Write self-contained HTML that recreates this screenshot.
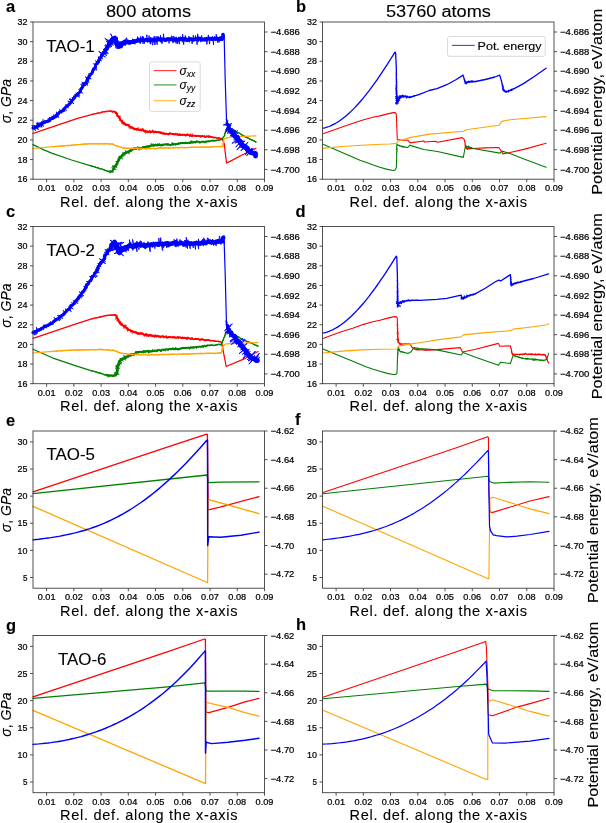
<!DOCTYPE html>
<html><head><meta charset="utf-8"><style>
html,body{margin:0;padding:0;background:#fff;}
svg{display:block;}
text{font-family:"Liberation Sans", sans-serif;fill:#000;stroke:#000;stroke-width:0.1px;}
text.tk{stroke-width:0.22px;}
text.lg{stroke-width:0.15px;}
svg{-webkit-font-smoothing:antialiased;will-change:transform;}
</style></head><body>
<svg width="606" height="823" viewBox="0 0 606 823">
<rect width="606" height="823" fill="#fff"/>
<polyline points="33,133.5 47.9,128.3 62.7,123.3 77.6,118.4 92.4,114.4" fill="none" stroke="#ff0000" stroke-width="1.25" stroke-linejoin="round" stroke-linecap="round"/>
<polyline points="92.4,114.4 93,114.2 93.7,114.2 94.3,114 95,113.7 95.6,113.6 96.3,113.5 96.9,113.4" fill="none" stroke="#ff0000" stroke-width="1.3" stroke-linejoin="round" stroke-linecap="round"/>
<polyline points="96.9,113.4 97.6,113.2 98.3,113.1 98.9,113 99.6,112.9 100.2,112.8 100.9,112.6 101.5,112.3" fill="none" stroke="#ff0000" stroke-width="1.3" stroke-linejoin="round" stroke-linecap="round"/>
<polyline points="101.5,112.3 102.1,112.1 102.8,111.9 103.4,111.9 104.1,111.8 104.7,111.6 105.4,111.5 106,111.5" fill="none" stroke="#ff0000" stroke-width="1.3" stroke-linejoin="round" stroke-linecap="round"/>
<polyline points="106,111.5 106.7,111.4 107.4,111.3 108,111.1 108.7,111.2 109.3,111.1 110,111 110.6,111.1" fill="none" stroke="#ff0000" stroke-width="1.3" stroke-linejoin="round" stroke-linecap="round"/>
<polyline points="110.6,111.1 111.3,111.2 111.9,111.6 112.7,111.5 113.4,111.2 114,111.6 114.4,111.9 115.3,112.1" fill="none" stroke="#ff0000" stroke-width="1.5" stroke-linejoin="round" stroke-linecap="round"/>
<polyline points="115.3,112.1 115.8,112.5 116,113.2 116.6,113.6 117,114.1 117.2,114.8 117.5,115.4 117.7,116.1" fill="none" stroke="#ff0000" stroke-width="1.9" stroke-linejoin="round" stroke-linecap="round"/>
<polyline points="117.7,116.1 118.4,116.4 119.2,116.7 119.4,117.3 119.4,118.1 119.9,118.6 120.2,119.2 120.4,119.8" fill="none" stroke="#ff0000" stroke-width="2.1" stroke-linejoin="round" stroke-linecap="round"/>
<polyline points="120.4,119.8 120.7,120.4 121.4,120.8 121.7,121.3 122,122.1 122.3,122.7 123.3,122.6 123.7,123.1" fill="none" stroke="#ff0000" stroke-width="2.1" stroke-linejoin="round" stroke-linecap="round"/>
<polyline points="123.7,123.1 124.3,123.5 124.9,123.8 125.3,124.3 125.7,125 126.5,124.9 127.2,125 127.9,125.1" fill="none" stroke="#ff0000" stroke-width="2.1" stroke-linejoin="round" stroke-linecap="round"/>
<polyline points="127.9,125.1 128.6,125.1 129,125.8 129.4,126.6 130.1,126.7 130.7,126.9 131.3,127.2 131.9,127.5" fill="none" stroke="#ff0000" stroke-width="2.1" stroke-linejoin="round" stroke-linecap="round"/>
<polyline points="131.9,127.5 132.5,127.8 133.1,128.1 133.7,128.5 134.2,129 134.9,128.9 135.5,129 136.2,129" fill="none" stroke="#ff0000" stroke-width="2.1" stroke-linejoin="round" stroke-linecap="round"/>
<polyline points="136.2,129 136.9,129.1 137.5,129.5 138.1,129.5 138.8,129.6 139.4,129.9 140.1,129.8 140.7,130" fill="none" stroke="#ff0000" stroke-width="2.1" stroke-linejoin="round" stroke-linecap="round"/>
<polyline points="140.7,130 141.4,130.3 142,130.2 142.7,130.1 143.4,130.2 144,130.6 144.6,131.1 145.3,130.9" fill="none" stroke="#ff0000" stroke-width="2.1" stroke-linejoin="round" stroke-linecap="round"/>
<polyline points="145.3,130.9 145.9,131.2 146.5,131.7 147.1,131.7 147.8,131.8 148.4,131.9 149.1,131.8 149.8,131.5" fill="none" stroke="#ff0000" stroke-width="2.1" stroke-linejoin="round" stroke-linecap="round"/>
<polyline points="149.8,131.5 150.5,131.7 151.1,131.9 151.8,131.8 152.5,131.6 153.2,131.6 153.8,132.2 154.5,131.9" fill="none" stroke="#ff0000" stroke-width="2.1" stroke-linejoin="round" stroke-linecap="round"/>
<polyline points="154.5,131.9 155.1,131.9 155.8,132.1 156.4,132.2 157.1,132 157.8,131.9 158.4,132.2 159.1,132.4" fill="none" stroke="#ff0000" stroke-width="2.0" stroke-linejoin="round" stroke-linecap="round"/>
<polyline points="159.1,132.4 159.8,132.2 160.4,132.3 161,133 161.7,132.6 162.3,133.3 163,133.4 163.7,133.4" fill="none" stroke="#ff0000" stroke-width="2.0" stroke-linejoin="round" stroke-linecap="round"/>
<polyline points="163.7,133.4 164.3,133.7 165,133.6 165.6,133.7 166.3,133.8 166.9,133.9 167.6,133.9 168.2,134.2" fill="none" stroke="#ff0000" stroke-width="1.9" stroke-linejoin="round" stroke-linecap="round"/>
<polyline points="168.2,134.2 168.9,133.8 169.6,133.6 170.3,133.7 171,133.6 171.6,133.7 172.2,134.1 172.9,133.9" fill="none" stroke="#ff0000" stroke-width="1.9" stroke-linejoin="round" stroke-linecap="round"/>
<polyline points="172.9,133.9 173.6,134.4 174.2,134.5 174.9,134.4 175.5,134.3 176.2,134.3 176.9,134.5 177.5,134.5" fill="none" stroke="#ff0000" stroke-width="1.9" stroke-linejoin="round" stroke-linecap="round"/>
<polyline points="177.5,134.5 178.2,134.7 178.8,134.8 179.5,134.8 180.1,135 180.8,135 181.5,134.8 182.2,134.7" fill="none" stroke="#ff0000" stroke-width="1.9" stroke-linejoin="round" stroke-linecap="round"/>
<polyline points="182.2,134.7 182.8,135 183.5,134.9 184.1,134.7 184.8,134.8 185.4,135.1 186.1,135.1 186.8,134.9" fill="none" stroke="#ff0000" stroke-width="1.9" stroke-linejoin="round" stroke-linecap="round"/>
<polyline points="186.8,134.9 187.5,134.9 188.1,135.1 188.8,135 189.4,135.2 190.1,135.2 190.7,135.2 191.4,135.8" fill="none" stroke="#ff0000" stroke-width="1.9" stroke-linejoin="round" stroke-linecap="round"/>
<polyline points="191.4,135.8 192,135.9 192.7,135.7 193.4,135.8 194,135.7 194.7,135.8 195.4,135.7 196,135.9" fill="none" stroke="#ff0000" stroke-width="1.8" stroke-linejoin="round" stroke-linecap="round"/>
<polyline points="196,135.9 196.7,136 197.3,135.9 198,136 198.7,135.7 199.3,136.1 200,136.2 200.6,136.1" fill="none" stroke="#ff0000" stroke-width="1.8" stroke-linejoin="round" stroke-linecap="round"/>
<polyline points="200.6,136.1 201.3,136.1 202,136 202.6,136.1 203.3,136.1 203.9,136.3 204.6,136.8 205.2,136.9" fill="none" stroke="#ff0000" stroke-width="1.7" stroke-linejoin="round" stroke-linecap="round"/>
<polyline points="205.2,136.9 205.9,136.8 206.6,136.6 207.2,136.5 207.9,136.3 208.6,136.6 209.2,136.7 209.9,136.7" fill="none" stroke="#ff0000" stroke-width="1.7" stroke-linejoin="round" stroke-linecap="round"/>
<polyline points="209.9,136.7 210.6,136.6 211.2,137 211.8,137.1 212.5,137.3 213.1,137.4 213.8,137.5 214.5,137.5" fill="none" stroke="#ff0000" stroke-width="1.6" stroke-linejoin="round" stroke-linecap="round"/>
<polyline points="214.5,137.5 215.2,137.5 215.8,137.7 216.5,137.8 217.1,138.1 217.8,137.9 218.5,138 219.1,137.9" fill="none" stroke="#ff0000" stroke-width="1.4" stroke-linejoin="round" stroke-linecap="round"/>
<polyline points="219.1,137.9 219.8,138.3 220.4,138.3 221.1,138.5 221.7,138.7 222.4,138.9 222.7,139.2 222.8,139.9" fill="none" stroke="#ff0000" stroke-width="1.3" stroke-linejoin="round" stroke-linecap="round"/>
<polyline points="222.8,139.9 223.1,140.5 223.3,141.2 223.5,141.8 223.6,142.5 223.9,143.1 224,143.8 224.2,144.5" fill="none" stroke="#ff0000" stroke-width="1.3" stroke-linejoin="round" stroke-linecap="round"/>
<polyline points="224.2,144.5 224.4,145.1 224.5,145.8" fill="none" stroke="#ff0000" stroke-width="1.3" stroke-linejoin="round" stroke-linecap="round"/>
<polyline points="92.4,114.4 92.8,114.2 93.3,114.3 93.7,114.2 94.1,114.1 94.5,113.8 95,113.7 95.4,113.7 95.9,113.6 96.3,113.6 96.7,113.4 97.2,113.4 97.6,113.1 98,113.1 98.4,112.9 98.9,112.8 99.3,112.8 99.7,112.6 100.2,112.9 100.7,112.7 101.1,112.4 101.5,112.2 101.9,112 102.4,112.3 102.7,111.6 103.2,111.7 103.7,111.9 104.2,112.1 104.5,111.9 105,111.9 105.4,111.4 105.8,111.4 106.3,111.8 106.7,111.4 107.2,111.7 107.6,111.6 108,111.5 108.4,110.7 108.9,111 109.4,111.6 109.8,111.1 110.2,111.2 110.6,111.4 111,111.5 111.5,111.7 112,111.3 112.3,112.1 112.7,112.8 113.4,111.4 113.9,111.1 114.3,111.2 114.8,111.6 114.9,112.1 114.8,112.8 115.2,113 116.9,112.1 115.7,113.7 115.9,114.2 118,113 117.1,114.3 117.1,114.9 116.5,115.9 118.2,115.1 117.6,116.2 117.5,116.7 118.2,116.8 120.4,115.8 117.9,118 120.4,116.9 120.2,117.6 119.6,118.5 119.9,118.8 119.8,119.4 119.5,120.2 120.6,120 120.6,120.5 121.1,120.7 123.1,119.9 122.2,121 121.9,121.9 121.5,122.9 122.8,122.2 123.6,121.9 124.2,121.9 123.8,123.1 122.9,124.7 123.7,124.5 125.3,123.4 125.7,123.6 125.4,124.6 126.2,123.9 125.9,125.7 127.1,124.2 127.7,123.9 127.5,125.3 127.8,125.7 129,124.3 128.6,126.2 129,126.4 129.2,127 129.3,127.8 129.4,128.5 129.8,128.9 130.3,128.8 131,128.3 131.8,127.8 132.3,127.7 132.3,128.7 133.5,127.3 133,129.4 133.7,129.2 134.2,129 134.5,129.9 134.9,130.2 135.7,128.3 136,128.8 136.2,130.4 136.5,130.8 137.1,130.4 138.1,127.4 138,130 138.5,129.9 138.9,129.9 139.4,129.9 139.9,129.7 140.3,129.9 141,128.7 141,130.7 141.7,129.4 142.2,129.2 142.9,128 143,130 143.3,130.7 143.5,131.9 144.1,131.3 144.4,132.1 144.9,131.7 145.3,131.7 145.5,133.4 146.3,131.5 146.5,132.5 147.3,130.6 147.4,132.9 147.8,132.7 148.4,131.9 149.1,130.9 149.6,130.4 149.9,130.8 150.3,131.7 150.5,133.4 151.2,131 151.5,132.4 152.1,131.5 152.7,129.8 153.1,130.1 153.3,132.3 153.7,133.3 154.3,131 154.7,131.9 155.3,130.7 155.6,131.7 155.9,132.7 156.5,131.5 157,131 157.3,132 157.8,131.7 158.2,132.7 158.7,132 159.1,132.7 159.6,131.9 160,132.1 160.4,132.8 160.9,132.5 161.1,134 161.7,132.8 162.1,133.4 162.5,134.2 162.9,133.8 163.5,132.5 163.9,133.5 164.3,133.7 164.7,134.1 165,135 165.6,133.9 166.1,133.2 166.6,133.1 166.9,133.9 167.4,133.8 167.7,135 168.2,134.2 168.7,134 169,135.2 169.7,132.3 170.1,133.7 170.6,132.9 171,133.5 171.4,133.6 171.9,133.4 172.3,134 172.8,133.2 173.1,134.4 173.6,133.8 174.1,133.2 174.4,134.6 174.9,134.7 175.4,132.9 175.8,133.5 176.3,133.8 176.6,134.7 177.2,133.3 177.6,134.1 178,133.9 178.4,134.4 178.7,136 179.3,134.3 179.8,133.3 180.2,133.6 180.6,135.3 181.1,134.6 181.5,134 181.9,134.7 182.4,135 182.8,134.4 183.3,134.3 183.7,135.1 184.2,134.3 184.6,134.8 184.9,136.1 185.5,134.4 185.8,136.4 186.3,135.2 186.8,134.4 187.4,133.3 187.7,134.5 188.1,134.6 188.6,134.4 189,135 189.4,135.4 189.7,137.1 190.3,135.4 190.9,133.6 191.1,136 191.6,136 191.9,137.2 192.6,133.8 192.9,136.3 193.4,135.6 193.8,135.1 194.2,135.7 194.7,136.2 195.1,135.7 195.5,136.2 196,136.1 196.4,136.1 196.9,135.9 197.3,135.9 197.8,136 198.2,135.9 198.6,136.2 199.1,135.8 199.5,136.6 199.9,137.1 200.4,136.1 200.7,137.8 201.3,136.4 201.7,136.5 202.3,135.1 202.7,135.6 203,136.6 203.5,136.4 203.9,136.5 204.4,135.6 204.9,135.6 205.2,137.5 205.7,136.1 206.2,136.1 206.7,135.4 207,136.8 207.5,136.1 207.9,136.4 208.3,137.8 208.9,135.1 209.2,136.7 209.6,136.9 210.1,136.7 210.5,137 211,137 211.3,137.5 211.9,136.7 212.2,137.6 212.8,136.8 213.1,137.6 213.5,138.1 214,137.8 214.5,137.2 214.9,137.7 215.4,137.7 215.8,137.5 216.1,138.3 216.7,137.5 217,138.5 217.4,138.9 218,138.1 218.3,138.7 218.9,138.2 219.4,137.9 219.7,138.3 220.2,138.5 220.6,138.5 221.2,137.9 221.5,138.8 222,138.6 222.4,138.7 222.4,139.1 222.8,139.4 222.8,139.9 222.9,140.4 223.2,140.7 223.3,141.2 223.4,141.6 223.4,142.1 223.6,142.5 223.9,142.9 224,143.3 224,143.8 224,144.3 224.2,144.7 224.4,145.1 224.5,145.5" fill="none" stroke="#ff0000" stroke-width="0.8" stroke-linejoin="miter" stroke-miterlimit="2"/>
<polyline points="224.3,145.8 224.5,146 226.5,163 230,161.4 243.5,154.2 256,148.4" fill="none" stroke="#ff0000" stroke-width="1.25" stroke-linejoin="round" stroke-linecap="round"/>
<polyline points="33,144.6 42.7,149.4 52.3,153.3 71.6,160 90.9,165.8" fill="none" stroke="#008000" stroke-width="1.25" stroke-linejoin="round" stroke-linecap="round"/>
<polyline points="90.9,165.8 91.5,166 92.2,166.2 92.8,166.5 93.5,166.5 94.1,166.7 94.7,167 95.4,167.2" fill="none" stroke="#008000" stroke-width="1.3" stroke-linejoin="round" stroke-linecap="round"/>
<polyline points="95.4,167.2 96,167.4 96.6,167.5 97.3,167.7 97.9,168 98.6,168 99.2,168.4 99.8,168.7" fill="none" stroke="#008000" stroke-width="1.3" stroke-linejoin="round" stroke-linecap="round"/>
<polyline points="99.8,168.7 100.4,168.8 101.1,168.8 101.8,169 102.4,169.2 103,169.5 103.6,169.7 104.3,170" fill="none" stroke="#008000" stroke-width="1.3" stroke-linejoin="round" stroke-linecap="round"/>
<polyline points="104.3,170 104.9,170.3 105.5,170.6 106.1,170.8 106.8,170.7 107.5,171.1 108.1,171.3 108.8,171.4" fill="none" stroke="#008000" stroke-width="1.3" stroke-linejoin="round" stroke-linecap="round"/>
<polyline points="108.8,171.4 109.5,171.6 110.2,171.6 110.8,172 111.5,171.7 112.4,171.7 112.3,170.9 112.6,170.3" fill="none" stroke="#008000" stroke-width="1.6" stroke-linejoin="round" stroke-linecap="round"/>
<polyline points="112.6,170.3 113.2,169.9 113.6,169.4 113.8,168.7 114,168 113.7,167.1 114.2,166.6 114.9,166.3" fill="none" stroke="#008000" stroke-width="2.1" stroke-linejoin="round" stroke-linecap="round"/>
<polyline points="114.9,166.3 115.8,166 116.3,165.5 116,164.6 116.6,164.1 117.2,163.7 117.3,163 117.2,162.2" fill="none" stroke="#008000" stroke-width="2.4" stroke-linejoin="round" stroke-linecap="round"/>
<polyline points="117.2,162.2 117.6,161.7 117.9,161.1 118.4,160.6 118.6,160 118.9,159.4 119.3,158.8 119.6,158.2" fill="none" stroke="#008000" stroke-width="2.5" stroke-linejoin="round" stroke-linecap="round"/>
<polyline points="119.6,158.2 119.5,157.4 120.1,157 120.8,156.7 121.4,156.4 121.9,155.9 122.3,155.4 122.9,155" fill="none" stroke="#008000" stroke-width="2.5" stroke-linejoin="round" stroke-linecap="round"/>
<polyline points="122.9,155 123.2,154.3 123.9,154.1 124.4,153.7 125,153.4 125.6,152.9 126.1,152.6 126.7,152.3" fill="none" stroke="#008000" stroke-width="2.4" stroke-linejoin="round" stroke-linecap="round"/>
<polyline points="126.7,152.3 127.3,152 128,152 128.6,151.7 129.3,151.6 129.7,150.9 130.3,150.5 131.1,150.6" fill="none" stroke="#008000" stroke-width="2.3" stroke-linejoin="round" stroke-linecap="round"/>
<polyline points="131.1,150.6 131.5,150.1 132.2,149.8 132.6,149.2 133.4,149.2 134,148.9 134.6,148.6 135.3,148.6" fill="none" stroke="#008000" stroke-width="2.1" stroke-linejoin="round" stroke-linecap="round"/>
<polyline points="135.3,148.6 135.9,148.3 136.6,148.5 137.2,148.1 137.8,147.6 138.6,148.1 139.3,148.2 139.9,148" fill="none" stroke="#008000" stroke-width="2.1" stroke-linejoin="round" stroke-linecap="round"/>
<polyline points="139.9,148 140.6,148 141.3,148.1 141.9,148.1 142.5,147.5 143.2,147.8 143.8,147.4 144.4,147.1" fill="none" stroke="#008000" stroke-width="2.1" stroke-linejoin="round" stroke-linecap="round"/>
<polyline points="144.4,147.1 145.1,147.2 145.8,146.9 146.3,146.5 147.1,146.9 147.7,146.6 148.3,146.3 149,146.5" fill="none" stroke="#008000" stroke-width="2.1" stroke-linejoin="round" stroke-linecap="round"/>
<polyline points="149,146.5 149.6,146.2 150.3,145.9 150.9,145.5 151.6,145.5 152.2,145.5 152.9,145.3 153.6,145.7" fill="none" stroke="#008000" stroke-width="2.1" stroke-linejoin="round" stroke-linecap="round"/>
<polyline points="153.6,145.7 154.2,145.3 154.9,145.3 155.5,145.3 156.2,145.2 156.8,145.1 157.5,145.1 158.2,145" fill="none" stroke="#008000" stroke-width="2.0" stroke-linejoin="round" stroke-linecap="round"/>
<polyline points="158.2,145 158.8,145.1 159.5,145 160.1,145 160.8,145.3 161.5,145.2 162.1,145.1 162.8,145" fill="none" stroke="#008000" stroke-width="2.0" stroke-linejoin="round" stroke-linecap="round"/>
<polyline points="162.8,145 163.4,144.8 164.1,144.6 164.8,144.5 165.4,144.4 166.1,144.4 166.7,144.6 167.4,144.5" fill="none" stroke="#008000" stroke-width="1.9" stroke-linejoin="round" stroke-linecap="round"/>
<polyline points="167.4,144.5 168.1,144.8 168.7,144.6 169.4,144.6 170.1,144.9 170.8,144.9 171.4,144.8 172,144.4" fill="none" stroke="#008000" stroke-width="1.9" stroke-linejoin="round" stroke-linecap="round"/>
<polyline points="172,144.4 172.7,144.2 173.4,144.1 174,144 174.7,144.3 175.4,144.2 176,144.2 176.7,144" fill="none" stroke="#008000" stroke-width="1.9" stroke-linejoin="round" stroke-linecap="round"/>
<polyline points="176.7,144 177.4,144.1 178,143.8 178.7,143.8 179.3,143.4 179.9,143.3 180.6,143 181.3,143.1" fill="none" stroke="#008000" stroke-width="1.9" stroke-linejoin="round" stroke-linecap="round"/>
<polyline points="181.3,143.1 181.9,143.1 182.5,142.8 183.2,143.1 183.9,142.9 184.6,143.3 185.2,142.9 185.9,142.9" fill="none" stroke="#008000" stroke-width="1.9" stroke-linejoin="round" stroke-linecap="round"/>
<polyline points="185.9,142.9 186.6,143.1 187.2,143 187.9,143 188.5,142.7 189.2,143 189.9,142.7 190.5,142.6" fill="none" stroke="#008000" stroke-width="1.9" stroke-linejoin="round" stroke-linecap="round"/>
<polyline points="190.5,142.6 191.2,142.6 191.8,142.2 192.5,142.2 193.2,142.4 193.8,141.8 194.5,142.1 195.2,142.4" fill="none" stroke="#008000" stroke-width="1.9" stroke-linejoin="round" stroke-linecap="round"/>
<polyline points="195.2,142.4 195.8,142.2 196.4,141.7 197.1,141.7 197.8,141.8 198.4,141.9 199.1,141.7 199.8,142.3" fill="none" stroke="#008000" stroke-width="1.8" stroke-linejoin="round" stroke-linecap="round"/>
<polyline points="199.8,142.3 200.5,142.3 201.1,141.9 201.7,141.7 202.4,141.5 203.1,141.7 203.7,141.7 204.4,141.9" fill="none" stroke="#008000" stroke-width="1.8" stroke-linejoin="round" stroke-linecap="round"/>
<polyline points="204.4,141.9 205.1,141.8 205.7,141.4 206.4,141.6 207,141.4 207.7,141.3 208.3,141.4 209,141.3" fill="none" stroke="#008000" stroke-width="1.7" stroke-linejoin="round" stroke-linecap="round"/>
<polyline points="209,141.3 209.7,141.3 210.3,141 211,140.9 211.6,140.8 212.3,140.6 212.9,140.7 213.6,140.7" fill="none" stroke="#008000" stroke-width="1.7" stroke-linejoin="round" stroke-linecap="round"/>
<polyline points="213.6,140.7 214.3,140.7 214.9,140.7 215.6,140.5 216.2,140.6 216.9,140.3 217.5,140.1 218.2,140.3" fill="none" stroke="#008000" stroke-width="1.5" stroke-linejoin="round" stroke-linecap="round"/>
<polyline points="218.2,140.3 218.9,140.2 219.5,140 220.2,139.9 220.8,139.7 221.5,139.6 222.1,139.5 222.4,138.8" fill="none" stroke="#008000" stroke-width="1.4" stroke-linejoin="round" stroke-linecap="round"/>
<polyline points="222.4,138.8 222.6,138.2 223,137.6 223.4,137 223.9,136.6 224.2,136 224.6,135.4 224.7,134.7" fill="none" stroke="#008000" stroke-width="1.3" stroke-linejoin="round" stroke-linecap="round"/>
<polyline points="224.7,134.7 224.8,134.1 224.9,133.4 225.1,132.7 225.5,132.1 225.7,131.5 225.9,130.9 226.1,130.3" fill="none" stroke="#008000" stroke-width="1.3" stroke-linejoin="round" stroke-linecap="round"/>
<polyline points="226.1,130.3 226.2,129.6 226.5,129 226.7,128.6 227.4,128.7 228,128.6 228.7,128.9 229.3,128.9" fill="none" stroke="#008000" stroke-width="1.3" stroke-linejoin="round" stroke-linecap="round"/>
<polyline points="229.3,128.9 230,128.9 230.7,129 231.3,129 232,129 232.6,129.4 233.2,129.7 233.8,130" fill="none" stroke="#008000" stroke-width="1.3" stroke-linejoin="round" stroke-linecap="round"/>
<polyline points="233.8,130 234.4,130.3 235,130.7 235.4,131.1 236,131.5 236.6,131.8 237.1,132.2 237.7,132.6" fill="none" stroke="#008000" stroke-width="1.3" stroke-linejoin="round" stroke-linecap="round"/>
<polyline points="237.7,132.6 238.4,132.8 239,133 239.6,133.2 240.1,133.8 240.7,134.1 241.2,134.5 241.8,134.8" fill="none" stroke="#008000" stroke-width="1.3" stroke-linejoin="round" stroke-linecap="round"/>
<polyline points="241.8,134.8 242.4,135.2 243,135.4 243.5,135.9 244.1,136.1 244.7,136.5 245.2,136.9 245.9,137.1" fill="none" stroke="#008000" stroke-width="1.3" stroke-linejoin="round" stroke-linecap="round"/>
<polyline points="245.9,137.1 246.5,137.3 247.1,137.6 247.7,137.9 248.3,138.2 248.9,138.5 249.5,138.7 250,139.2" fill="none" stroke="#008000" stroke-width="1.3" stroke-linejoin="round" stroke-linecap="round"/>
<polyline points="250,139.2 250.6,139.6 251.3,139.7 251.9,139.9 252.5,140.2 253.1,140.5 253.7,140.7 254.3,141.1" fill="none" stroke="#008000" stroke-width="1.3" stroke-linejoin="round" stroke-linecap="round"/>
<polyline points="254.3,141.1 254.8,141.4 255.4,141.7 255.8,142" fill="none" stroke="#008000" stroke-width="1.3" stroke-linejoin="round" stroke-linecap="round"/>
<polyline points="90.9,165.9 91.3,165.9 91.8,165.9 92.2,166.1 92.6,166.3 93,166.4 93.4,166.8 93.9,166.6 94.4,166.5 94.7,167 95.2,167.1 95.7,167 96,167.5 96.4,167.5 96.7,168 97.3,167.8 97.6,168.1 98.1,168.1 98.6,167.8 99,168.3 99.4,168.4 99.8,168.5 100.2,168.8 100.6,168.9 101.2,168.5 101.6,168.9 102,169.1 102.5,168.8 102.8,169.5 103.2,169.7 103.6,169.9 104.1,169.8 104.5,169.8 104.8,170.3 105.2,170.7 105.8,170.4 106.1,170.8 106.6,170.6 107.1,170.7 107.4,171.6 107.9,171.3 108.2,172 108.8,171.3 109.4,170.6 109.8,171.2 110,173.3 110.8,170.4 111,171.9 111.7,170.7 111.9,171.8 113.6,172.2 112.1,170.8 112,170.2 112.4,169.9 113,169.8 113.3,169.5 111.5,167.8 114.5,169.1 116.3,169.6 112.4,166.9 114.1,167.3 112.1,165.7 113.8,166.1 117.2,167.6 115.6,166.2 115.7,165.7 116.4,165.5 115.4,164.6 117,164.9 117.7,164.7 117.8,164.3 117.7,163.7 117.5,163.1 115.7,161.7 116.5,161.6 117.7,161.7 118.9,161.9 117.6,160.7 119.2,161 119.7,160.8 119.1,160 117.7,158.8 118.9,158.9 119.7,158.8 119.6,158.2 120.8,158.4 119.6,157 119.1,155.8 122.6,159.3 120.7,156.3 122.2,157.3 121.4,155.7 121.4,154.9 122.6,155.7 122.5,154.9 123.9,155.9 124.4,155.8 122.4,152.6 122.9,152.5 125.3,154.7 123.7,152.1 125.5,153.5 126.2,153.7 126,152.9 125.4,150.4 126.7,152.3 127.1,152 128.2,153.7 128.7,153.7 129.3,153.8 128.3,150.5 129.5,152.1 129.7,151.5 129.8,150.6 129.9,149.7 130.2,149.3 131.1,150 131.3,149.4 131.1,147.9 132.6,150.4 132.3,148.3 133.5,150 133,147.7 133.8,147.9 134.3,148.1 134.9,148.9 135.1,147.6 135.9,149.4 136.4,149.9 136.8,149.5 136.9,147.9 137.5,148.6 138,148.9 138,146.7 139.2,150.4 139.2,148.1 139.7,148.4 140,147.6 140.9,149.6 141.1,148.3 141.5,148.3 142,148.6 142.3,147.7 142.6,146.9 142.9,146.2 143.5,147 143.9,146.5 144.3,146.6 144.9,147.3 145.3,146.9 146,148 146.1,146.2 146.4,145.9 147.4,148.3 147.8,148.2 148.4,148.7 148.2,145.7 148.8,146.5 149.3,146.8 149.7,147.2 150,145 150.5,146 151,146.9 151.2,143.4 151.8,145.1 152.2,145.2 152.7,145.6 153,143.5 153.6,145.7 153.9,144.6 154.5,145.9 154.8,144.4 155.3,145.6 155.6,143.7 156.2,145.2 156.6,145 157.2,146.5 157.4,143.5 158,146.1 158.4,145.5 158.8,144.3 159.1,143 159.6,143.6 160.1,144.7 160.5,143.9 161.1,146.1 161.5,145.5 162,146.3 162.3,143.7 162.7,144.1 163.2,143.7 163.6,144.2 164.1,144.3 164.6,145 164.9,143.8 165.4,143.8 165.9,145.3 166.2,143.4 166.8,144.9 167.2,145.1 167.6,144.2 168,143.1 168.5,144.6 168.9,144.3 169.4,144.7 170,146.2 170.4,145.9 170.8,144.8 171.1,144.1 171.6,144.4 172,144.1 172.3,142.3 173.1,145.9 173.5,145.3 173.8,143.8 174.3,145 174.7,144.3 175,143.1 175.7,145.5 176,143.6 176.5,144.8 176.8,143.3 177.4,145 177.7,143.2 178.2,143.8 178.5,142.2 179.2,144.5 179.5,143.5 179.9,143.3 180.4,144 180.9,143.7 181.2,142.6 181.6,142.1 182.1,142.7 182.5,142.3 183.1,143.7 183.4,142.2 183.9,142.9 184.3,142.3 184.8,143.5 185.1,142.1 185.6,141.8 186.2,143.4 186.5,142.5 187.1,143.6 187.5,143.7 188,143.7 188.3,142.2 188.8,142.6 189.3,143.7 189.6,142.4 190.2,143.8 190.4,140.8 191,142.7 191.4,142.7 191.7,140.5 192.3,142.2 192.8,143.6 193.2,143.4 193.5,141.5 194,141.9 194.5,142.2 195,142.9 195.4,142.3 195.7,141 196.2,142 196.5,140.1 197,140.6 197.6,142.1 198,141.4 198.5,142.3 198.9,141.7 199.4,142.4 199.9,143.3 200.3,142.7 200.7,142.9 201.1,142.1 201.5,141.5 202,141.9 202.4,142.3 202.9,142.4 203.3,142.1 203.8,142.4 204.3,143.2 204.7,142.6 205,141.2 205.5,142.1 206,143.1 206.4,142 206.8,141.5 207.2,141.4 207.7,141.3 208.1,140.6 208.6,141.8 209,141.1 209.5,141.3 209.9,141.4 210.3,140.9 210.7,140.3 211.2,140.8 211.5,140.2 212.1,140.9 212.4,139.8 213,141.2 213.3,140.3 213.8,140.6 214.3,141.2 214.6,140.1 215.2,141.3 215.5,140.2 216.1,140.9 216.5,141.1 216.9,140.2 217.3,140.5 217.8,140.3 218.2,140.4 218.6,139.9 219,139.7 219.5,139.8 220,140.1 220.4,139.7 220.8,139.6 221.2,139.1 221.7,139.7 221.5,139.1 222.5,139.2 222.7,138.8 222.6,138.2 223.1,137.9 223.2,137.5 223.4,137.1 223.7,136.7 223.9,136.3 224,135.9 224.4,135.6 224.8,135.2 224.4,134.6 224.7,134.3 224.8,133.8 224.8,133.3 224.9,132.9 225.1,132.5 225.6,132.2 225.6,131.7 225.7,131.3 225.8,130.9 226.1,130.5 226.3,130.1 226.1,129.5 226.2,129.1 226.4,128.7 226.7,128.6 227.1,128.8 227.6,128.8 228.1,128.6 228.5,128.8 228.9,129 229.3,129.1 229.8,129 230.2,129.2 230.7,129.1 231.1,128.8 231.6,128.9 232,129 232.6,129 232.8,129.5 233.3,129.6 233.7,129.7 234.1,129.9 234.5,130.2 234.8,130.5 235.2,130.8 235.6,130.9 235.8,131.4 236.1,131.8 236.5,131.9 237.1,131.9 237.5,132 237.7,132.6 238,132.9 238.7,132.6 239.1,132.9 239.3,133.3 239.8,133.4 240.1,133.8 240.6,133.7 240.9,134.2 241.2,134.6 241.7,134.6 241.8,135.2 242.4,135.1 242.7,135.6 243.2,135.5 243.6,135.7 243.9,136.2 244.5,135.9 244.7,136.5 245.1,136.6 245.4,137 245.9,137.1 246.3,137.2 246.8,137.2 247.1,137.5 247.5,137.9 247.8,138.1 248.4,138 248.7,138.4 249.1,138.5 249.5,138.8 249.9,139 250.2,139.3 250.7,139.2 251,139.7 251.3,140.1 251.7,140.2 252.4,139.8 252.8,140.2 253.1,140.5 253.4,140.9 253.9,140.8 254.2,141.2 254.7,141.3 255.1,141.5 255.3,141.9 255.8,142.1" fill="none" stroke="#008000" stroke-width="0.8" stroke-linejoin="miter" stroke-miterlimit="2"/>
<polyline points="255.8,142.1 256,142.1" fill="none" stroke="#008000" stroke-width="1.25" stroke-linejoin="round" stroke-linecap="round"/>
<polyline points="33,148.5 53,146.6" fill="none" stroke="#ffa500" stroke-width="1.25" stroke-linejoin="round" stroke-linecap="round"/>
<polyline points="53,146.6 53.7,146.6 54.3,146.6 55,146.5 55.6,146.4 56.3,146.4 57,146.3 57.6,146.3" fill="none" stroke="#ffa500" stroke-width="1.3" stroke-linejoin="round" stroke-linecap="round"/>
<polyline points="57.6,146.3 58.3,146.2 58.9,146.1 59.6,146.1 60.3,146.1 60.9,146 61.6,146 62.2,146" fill="none" stroke="#ffa500" stroke-width="1.3" stroke-linejoin="round" stroke-linecap="round"/>
<polyline points="62.2,146 62.9,146 63.6,145.9 64.2,145.8 64.9,145.8 65.5,145.7 66.2,145.7 66.9,145.6" fill="none" stroke="#ffa500" stroke-width="1.3" stroke-linejoin="round" stroke-linecap="round"/>
<polyline points="66.9,145.6 67.5,145.5 68.2,145.5 68.8,145.5 69.5,145.5 70.1,145.3 70.8,145.3 71.5,145.2" fill="none" stroke="#ffa500" stroke-width="1.3" stroke-linejoin="round" stroke-linecap="round"/>
<polyline points="71.5,145.2 72.1,145.1 72.8,145.1 73.4,145 74.1,145 74.8,144.9 75.5,144.8 76.1,144.6" fill="none" stroke="#ffa500" stroke-width="1.3" stroke-linejoin="round" stroke-linecap="round"/>
<polyline points="76.1,144.6 76.8,144.7 77.5,144.6 78.2,144.6 78.8,144.6 79.5,144.6 80.2,144.4 80.9,144.4" fill="none" stroke="#ffa500" stroke-width="1.3" stroke-linejoin="round" stroke-linecap="round"/>
<polyline points="80.9,144.4 81.5,144.4 82.2,144.3 82.9,144.2 83.5,144 84.2,144.1 84.8,144 85.5,144.1" fill="none" stroke="#ffa500" stroke-width="1.3" stroke-linejoin="round" stroke-linecap="round"/>
<polyline points="85.5,144.1 86.2,144 86.8,144 87.5,143.9 88.2,143.8 88.8,143.8 89.5,143.8 90.2,143.8" fill="none" stroke="#ffa500" stroke-width="1.3" stroke-linejoin="round" stroke-linecap="round"/>
<polyline points="90.2,143.8 90.8,143.7 91.5,143.8 92.1,143.7 92.8,143.6 93.5,143.9 94.1,143.8 94.8,143.7" fill="none" stroke="#ffa500" stroke-width="1.3" stroke-linejoin="round" stroke-linecap="round"/>
<polyline points="94.8,143.7 95.4,143.8 96.1,143.7 96.8,143.8 97.4,143.8 98.1,143.8 98.7,143.9 99.4,143.7" fill="none" stroke="#ffa500" stroke-width="1.3" stroke-linejoin="round" stroke-linecap="round"/>
<polyline points="99.4,143.7 100.1,143.9 100.7,143.8 101.4,143.7 102,143.8 102.7,143.8 103.4,143.7 104,143.9" fill="none" stroke="#ffa500" stroke-width="1.3" stroke-linejoin="round" stroke-linecap="round"/>
<polyline points="104,143.9 104.7,143.9 105.3,143.7 106,143.8 106.7,143.7 107.3,143.6 108,143.7 108.6,143.9" fill="none" stroke="#ffa500" stroke-width="1.3" stroke-linejoin="round" stroke-linecap="round"/>
<polyline points="108.6,143.9 109.3,143.9 110,144.1 110.6,144 111.3,144 111.9,144 112.6,144.1 113.3,144.3" fill="none" stroke="#ffa500" stroke-width="1.3" stroke-linejoin="round" stroke-linecap="round"/>
<polyline points="113.3,144.3 113.8,144.8 114.4,145.1 115,145.4 115.6,145.7 116.3,145.9 116.9,146.1 117.6,146.4" fill="none" stroke="#ffa500" stroke-width="1.3" stroke-linejoin="round" stroke-linecap="round"/>
<polyline points="117.6,146.4 118.3,146.4 118.9,146.6 119.6,146.8 120.2,147 120.9,147.2 121.5,147.4 122.1,147.8" fill="none" stroke="#ffa500" stroke-width="1.3" stroke-linejoin="round" stroke-linecap="round"/>
<polyline points="122.1,147.8 122.8,147.9 123.4,148.1 124.1,148.1 124.8,148 125.5,148 126.2,148.2 126.9,148.3" fill="none" stroke="#ffa500" stroke-width="1.3" stroke-linejoin="round" stroke-linecap="round"/>
<polyline points="126.9,148.3 127.5,148.2 128.2,148.2 128.9,148.2 129.6,148.4 130.2,148.4 130.9,148.4 131.6,148.5" fill="none" stroke="#ffa500" stroke-width="1.3" stroke-linejoin="round" stroke-linecap="round"/>
<polyline points="131.6,148.5 132.2,148.4 132.9,148.6 133.6,148.5 134.2,148.5 134.9,148.4 135.6,148.4 136.3,148.3" fill="none" stroke="#ffa500" stroke-width="1.3" stroke-linejoin="round" stroke-linecap="round"/>
<polyline points="136.3,148.3 136.9,148.3 137.6,148.2 138.3,148.4 138.9,148.5 139.6,148.5 140.3,148.6 140.9,148.5" fill="none" stroke="#ffa500" stroke-width="1.3" stroke-linejoin="round" stroke-linecap="round"/>
<polyline points="140.9,148.5 141.6,148.4 142.3,148.5 142.9,148.7 143.6,148.6 144.3,148.6 144.9,148.7 145.6,148.8" fill="none" stroke="#ffa500" stroke-width="1.3" stroke-linejoin="round" stroke-linecap="round"/>
<polyline points="145.6,148.8 146.3,148.8 146.9,148.6 147.6,148.5 148.3,148.3 148.9,148.4 149.6,148.3 150.3,148.6" fill="none" stroke="#ffa500" stroke-width="1.3" stroke-linejoin="round" stroke-linecap="round"/>
<polyline points="150.3,148.6 150.9,148.6 151.6,148.4 152.2,148.3 152.9,148.3 153.6,148.5 154.2,148.6 154.9,148.7" fill="none" stroke="#ffa500" stroke-width="1.3" stroke-linejoin="round" stroke-linecap="round"/>
<polyline points="154.9,148.7 155.5,148.6 156.2,148.7 156.9,148.5 157.5,148.3 158.2,148.2 158.8,147.9 159.5,147.7" fill="none" stroke="#ffa500" stroke-width="1.3" stroke-linejoin="round" stroke-linecap="round"/>
<polyline points="159.5,147.7 160.2,148 160.8,147.9 161.5,148 162.1,148.1 162.8,148 163.5,148.1 164.1,147.8" fill="none" stroke="#ffa500" stroke-width="1.3" stroke-linejoin="round" stroke-linecap="round"/>
<polyline points="164.1,147.8 164.8,148 165.4,147.9 166.1,147.9 166.8,147.8 167.4,147.9 168.1,147.9 168.7,148.1" fill="none" stroke="#ffa500" stroke-width="1.3" stroke-linejoin="round" stroke-linecap="round"/>
<polyline points="168.7,148.1 169.4,148 170.1,148.1 170.7,148.1 171.4,148.1 172,147.9 172.7,147.8 173.4,147.8" fill="none" stroke="#ffa500" stroke-width="1.3" stroke-linejoin="round" stroke-linecap="round"/>
<polyline points="173.4,147.8 174,147.9 174.7,147.9 175.3,147.8 176,147.7 176.7,147.6 177.3,147.6 178,147.8" fill="none" stroke="#ffa500" stroke-width="1.3" stroke-linejoin="round" stroke-linecap="round"/>
<polyline points="178,147.8 178.6,147.8 179.3,147.7 180,147.8 180.6,147.7 181.3,147.6 181.9,147.5 182.6,147.4" fill="none" stroke="#ffa500" stroke-width="1.3" stroke-linejoin="round" stroke-linecap="round"/>
<polyline points="182.6,147.4 183.3,147.6 183.9,147.6 184.6,147.6 185.2,147.6 185.9,147.7 186.6,147.7 187.2,147.6" fill="none" stroke="#ffa500" stroke-width="1.3" stroke-linejoin="round" stroke-linecap="round"/>
<polyline points="187.2,147.6 187.9,147.6 188.5,147.5 189.2,147.4 189.9,147.4 190.5,147.4 191.2,147.3 191.8,147.2" fill="none" stroke="#ffa500" stroke-width="1.3" stroke-linejoin="round" stroke-linecap="round"/>
<polyline points="191.8,147.2 192.5,147.2 193.2,147.3 193.8,147.4 194.5,147.2 195.1,147.2 195.8,147.1 196.5,147.2" fill="none" stroke="#ffa500" stroke-width="1.3" stroke-linejoin="round" stroke-linecap="round"/>
<polyline points="196.5,147.2 197.1,147.3 197.8,147.3 198.4,147.2 199.1,147.2 199.8,147.3 200.4,147.2 201.1,147.2" fill="none" stroke="#ffa500" stroke-width="1.3" stroke-linejoin="round" stroke-linecap="round"/>
<polyline points="201.1,147.2 201.7,147.1 202.4,147.1 203.1,146.9 203.7,147.1 204.4,146.9 205,147 205.7,147.1" fill="none" stroke="#ffa500" stroke-width="1.3" stroke-linejoin="round" stroke-linecap="round"/>
<polyline points="205.7,147.1 206.4,147.1 207,146.9 207.7,146.9 208.3,147.1 209,147.2 209.7,147.2 210.3,147" fill="none" stroke="#ffa500" stroke-width="1.3" stroke-linejoin="round" stroke-linecap="round"/>
<polyline points="210.3,147 211,147.1 211.7,147 212.3,146.8 213,146.7 213.6,146.7 214.3,146.8 215,146.7" fill="none" stroke="#ffa500" stroke-width="1.3" stroke-linejoin="round" stroke-linecap="round"/>
<polyline points="215,146.7 215.6,146.6 216.3,146.7 216.9,146.6 217.6,146.6 218.3,146.6 218.9,146.6 219.6,146.7" fill="none" stroke="#ffa500" stroke-width="1.3" stroke-linejoin="round" stroke-linecap="round"/>
<polyline points="219.6,146.7 220.3,146.6 220.9,146.4 221.6,146.5 222.2,146.5 223,146.5 222.9,145.8 222.9,145.2" fill="none" stroke="#ffa500" stroke-width="1.3" stroke-linejoin="round" stroke-linecap="round"/>
<polyline points="222.9,145.2 223.1,144.5 223.2,143.9 223.2,143.2 223.3,142.5 223.5,141.9 223.5,141.2 223.6,140.6" fill="none" stroke="#ffa500" stroke-width="1.3" stroke-linejoin="round" stroke-linecap="round"/>
<polyline points="223.6,140.6 223.7,139.9 223.8,139.3 223.9,138.8" fill="none" stroke="#ffa500" stroke-width="1.3" stroke-linejoin="round" stroke-linecap="round"/>
<polyline points="53,146.6 53.4,146.5 53.9,146.7 54.3,146.6 54.8,146.5 55.2,146.5 55.6,146.4 56.1,146.4 56.5,146.3 57,146.3 57.4,146.2 57.8,146.2 58.3,146.1 58.7,146.3 59.1,146 59.6,146.3 60,146.2 60.5,146.2 60.9,146 61.4,146.2 61.8,146.2 62.2,145.9 62.7,146.2 63.1,145.8 63.6,145.8 64,145.7 64.4,145.9 64.9,145.5 65.3,145.8 65.8,145.8 66.2,145.6 66.6,145.5 67.1,145.4 67.5,145.5 67.9,145.4 68.4,145.3 68.8,145.7 69.3,145.8 69.7,145.4 70.1,145 70.6,145.5 71,145.2 71.4,145 71.9,145.3 72.3,145.2 72.8,145 73.2,144.9 73.7,145 74.1,145.1 74.6,145 75,144.8 75.5,144.9 75.9,144.8 76.4,144.9 76.8,144.5 77.3,144.5 77.7,144.5 78.1,144.2 78.6,144.5 79.1,144.7 79.5,144.5 80,144.7 80.4,144.4 80.9,144.4 81.3,144.7 81.8,144.6 82.2,144.3 82.6,144.2 83.1,144 83.5,144.2 84,144.3 84.4,144.4 84.9,144.2 85.3,143.9 85.7,144.2 86.2,144.2 86.6,144 87.1,143.8 87.5,144.3 87.9,143.7 88.4,143.8 88.8,143.7 89.3,143.8 89.7,143.8 90.2,144 90.6,143.5 91,143.6 91.5,144 91.9,143.8 92.4,143.9 92.8,143.7 93.2,143.9 93.7,144.2 94.1,143.7 94.6,143.7 95,144 95.4,143.7 95.9,144 96.3,143.7 96.8,143.9 97.2,143.6 97.6,143.7 98.1,144 98.5,144.1 99,143.7 99.4,143.8 99.8,144 100.3,143.8 100.7,143.4 101.2,143.6 101.6,144 102,144 102.5,144 102.9,143.6 103.4,143.7 103.8,143.9 104.2,143.8 104.7,143.7 105.1,144.2 105.6,144.1 106,143.6 106.4,143.9 106.9,143.6 107.3,143.6 107.8,143.9 108.2,143.6 108.6,144 109.1,143.9 109.5,144.1 109.9,144.4 110.4,144.2 110.9,143.6 111.3,143.9 111.7,143.9 112.2,144.1 112.7,143.9 113,144.4 113.5,144.3 113.8,144.8 114.2,145 114.7,145 115,145.5 115.4,145.6 115.8,145.8 116.3,145.8 116.6,146.3 117.3,145.8 117.6,146.4 118,146.6 118.6,146.2 118.9,146.7 119.4,146.7 119.8,147 120.3,146.9 120.6,147.3 121,147.7 121.5,147.4 121.9,147.7 122.4,147.6 122.8,147.9 123.2,148 123.7,147.9 124.1,148.4 124.6,148.2 125.1,147.7 125.5,148.2 125.9,148.3 126.4,148.2 126.9,148.3 127.3,148.3 127.8,148.1 128.3,147.7 128.7,148.4 129.1,148.3 129.6,148.6 130,148.4 130.5,148.4 130.9,148.3 131.4,148.8 131.8,148.7 132.2,148.4 132.7,148.4 133.1,148.3 133.6,148.5 134,148.5 134.5,148.3 134.9,148.1 135.4,148.3 135.8,148.3 136.3,148.1 136.7,148 137.1,148.1 137.6,148 138,148.1 138.5,148.4 138.9,148.5 139.4,148.4 139.8,148.5 140.3,148.6 140.7,148.5 141.1,148.7 141.6,148.3 142,148.2 142.5,148.8 142.9,148.4 143.4,148.9 143.8,148.9 144.3,148.8 144.7,148.7 145.2,148.4 145.6,148.8 146,149.2 146.5,148.7 146.9,148.7 147.4,148.6 147.8,148.3 148.3,148.4 148.7,148.7 149.2,148.9 149.6,148.3 150.1,149 150.5,148.9 150.9,148.6 151.4,148.8 151.8,148.3 152.2,148.7 152.7,148.2 153.1,148.3 153.6,148.3 154,148.8 154.5,148.8 154.9,149 155.3,148.4 155.8,148.5 156.2,148.9 156.7,148.6 157.1,148.7 157.5,148.5 158,148.2 158.4,148 158.8,148.1 159.3,148 159.7,147.7 160.2,148 160.6,147.7 161,148.2 161.5,148 161.9,147.8 162.4,148.1 162.8,147.8 163.3,148.5 163.7,148 164.1,147.9 164.6,147.8 165,147.6 165.4,147.7 165.9,147.8 166.3,148.3 166.7,147.6 167.2,148 167.6,147.7 168.1,147.8 168.5,147.8 169,147.7 169.4,147.8 169.8,148 170.3,148.2 170.7,147.8 171.2,147.5 171.6,147.8 172,147.9 172.5,147.6 172.9,147.6 173.4,147.8 173.8,148 174.2,147.7 174.7,147.9 175.1,147.4 175.6,147.9 176,147.8 176.4,147.6 176.9,147.7 177.3,147.4 177.8,147.6 178.2,147.6 178.6,147.9 179.1,147.5 179.5,147.6 180,147.6 180.4,147.7 180.8,147.5 181.3,147.5 181.7,147.4 182.2,147.2 182.6,147.5 183,147.8 183.5,147.6 183.9,147.7 184.4,147.8 184.8,147.6 185.2,147.7 185.7,147.7 186.1,147.7 186.6,147.8 187,147.4 187.4,147.7 187.9,147.7 188.3,147.6 188.8,147.2 189.2,147.3 189.6,147.6 190.1,147.5 190.5,147.2 191,147.7 191.4,147.5 191.8,147.3 192.3,147.4 192.7,147.2 193.2,147.2 193.6,147.2 194,147.1 194.5,147.3 194.9,147.3 195.4,147.3 195.8,146.9 196.3,147.6 196.7,147.4 197.1,147.4 197.6,147.2 198,147.2 198.4,147.3 198.9,146.8 199.3,147 199.8,147.5 200.2,147.3 200.6,147.1 201.1,147.6 201.5,147 202,147.2 202.4,147.1 202.8,146.8 203.3,147 203.7,147.2 204.2,147 204.6,146.6 205,146.9 205.5,147 205.9,147.5 206.4,147 206.8,146.8 207.2,147.1 207.7,147.1 208.1,146.9 208.6,146.9 209,147 209.4,147.1 209.9,147.2 210.3,147 210.8,147.2 211.2,147 211.7,147 212.1,147.4 212.5,147.2 213,146.7 213.4,146.6 213.9,146.9 214.3,146.6 214.7,146.7 215.2,146.4 215.6,146.6 216.1,146.8 216.5,146.4 216.9,146.7 217.4,146.5 217.8,146.5 218.3,146.9 218.7,146.5 219.2,146.7 219.6,147 220,146.6 220.5,146.4 220.9,146.6 221.4,146.6 221.8,146.5 222.2,146.5 222.7,146.2 223.1,146.3 222.8,145.8 223,145.4 223,145 223.3,144.5 223.4,144.1 223.2,143.6 223.2,143.2 223.1,142.7 223.3,142.3 223.5,141.9 223.4,141.4 223.7,141 223.6,140.6 223.7,140.1 223.7,139.7 223.7,139.2 223.9,138.8" fill="none" stroke="#ffa500" stroke-width="0.8" stroke-linejoin="miter" stroke-miterlimit="2"/>
<polyline points="224,138.8 223.9,138.6 230,137.2 243.5,136.3 256,135.9" fill="none" stroke="#ffa500" stroke-width="1.25" stroke-linejoin="round" stroke-linecap="round"/>
<polyline points="33,128.1 33.6,127.7 34.3,127.6 35.1,127.6 35.5,126.9 36.1,126.7 36.7,126.4 37.3,126.1" fill="none" stroke="#0000ff" stroke-width="3.1" stroke-linejoin="round" stroke-linecap="round"/>
<polyline points="37.3,126.1 37.9,125.8 38.7,125.9 39.2,125.4 39.6,124.8 40.3,124.6 40.7,124 41.3,123.7" fill="none" stroke="#0000ff" stroke-width="3.0" stroke-linejoin="round" stroke-linecap="round"/>
<polyline points="41.3,123.7 41.9,123.4 42.5,123.2 43.2,123 43.8,122.8 44.4,122.6 45,122.2 45.6,121.9" fill="none" stroke="#0000ff" stroke-width="2.9" stroke-linejoin="round" stroke-linecap="round"/>
<polyline points="45.6,121.9 46.2,121.6 46.8,121.4 47.6,121.5 48.1,121 48.7,120.8 49.5,120.7 49.9,120.1" fill="none" stroke="#0000ff" stroke-width="2.9" stroke-linejoin="round" stroke-linecap="round"/>
<polyline points="49.9,120.1 50.3,119.3 50.9,119.1 51.4,118.6 52.1,118.5 52.8,118.5 53.4,118.1 53.7,117.1" fill="none" stroke="#0000ff" stroke-width="2.8" stroke-linejoin="round" stroke-linecap="round"/>
<polyline points="53.7,117.1 54.4,117.1 55.2,117.1 55.7,116.7 56.3,116.4 56.4,115.5 57.1,115.2 57.5,114.7" fill="none" stroke="#0000ff" stroke-width="2.8" stroke-linejoin="round" stroke-linecap="round"/>
<polyline points="57.5,114.7 57.9,114.1 58.6,113.9 58.8,113.2 59.4,112.8 59.5,112 60.2,111.7 61,111.6" fill="none" stroke="#0000ff" stroke-width="2.8" stroke-linejoin="round" stroke-linecap="round"/>
<polyline points="61,111.6 61.7,111.4 62.1,110.9 62.8,110.6 63.6,110.4 63.8,109.8 63.9,108.9 64.5,108.6" fill="none" stroke="#0000ff" stroke-width="2.8" stroke-linejoin="round" stroke-linecap="round"/>
<polyline points="64.5,108.6 65.1,108.2 65.3,107.5 65.8,107 66.4,106.7 66.9,106.3 67.6,105.9 67.8,105.3" fill="none" stroke="#0000ff" stroke-width="2.8" stroke-linejoin="round" stroke-linecap="round"/>
<polyline points="67.8,105.3 68.5,105 68.8,104.4 69.4,104 69.7,103.4 70.5,103.1 70.8,102.5 71,101.8" fill="none" stroke="#0000ff" stroke-width="2.8" stroke-linejoin="round" stroke-linecap="round"/>
<polyline points="71,101.8 71.6,101.4 72,100.9 72.4,100.3 72.9,99.9 73.2,99.2 73.8,98.9 73.9,98.1" fill="none" stroke="#0000ff" stroke-width="2.8" stroke-linejoin="round" stroke-linecap="round"/>
<polyline points="73.9,98.1 74.5,97.7 75,97.3 75.3,96.6 75.5,95.9 76,95.5 76.8,95.3 77.3,94.8" fill="none" stroke="#0000ff" stroke-width="2.8" stroke-linejoin="round" stroke-linecap="round"/>
<polyline points="77.3,94.8 77.4,94 77.8,93.5 78.7,93.4 79.1,92.8 79.6,92.3 80,91.8 80.3,91.2" fill="none" stroke="#0000ff" stroke-width="2.8" stroke-linejoin="round" stroke-linecap="round"/>
<polyline points="80.3,91.2 80.4,90.5 80.7,89.8 81.1,89.3 81.2,88.6 81.6,88 82.2,87.7 82.5,87.1" fill="none" stroke="#0000ff" stroke-width="2.8" stroke-linejoin="round" stroke-linecap="round"/>
<polyline points="82.5,87.1 82.9,86.5 83.2,85.9 83.5,85.3 84,84.8 84.2,84.1 84.4,83.6 85,83.2" fill="none" stroke="#0000ff" stroke-width="2.8" stroke-linejoin="round" stroke-linecap="round"/>
<polyline points="85,83.2 85.6,82.8 86.1,82.3 86.4,81.7 86.8,81.2 86.9,80.4 86.9,79.7 87.7,79.4" fill="none" stroke="#0000ff" stroke-width="2.8" stroke-linejoin="round" stroke-linecap="round"/>
<polyline points="87.7,79.4 88.1,78.8 88.1,78 88.2,77.4 88.8,77 89,76.3 89.2,75.6 90,75.4" fill="none" stroke="#0000ff" stroke-width="2.8" stroke-linejoin="round" stroke-linecap="round"/>
<polyline points="90,75.4 90.3,74.7 90.6,74.2 91.2,73.7 91.9,73.4 92.2,72.8 92.4,72.1 92.6,71.5" fill="none" stroke="#0000ff" stroke-width="2.8" stroke-linejoin="round" stroke-linecap="round"/>
<polyline points="92.6,71.5 92.7,70.8 93.2,70.3 93.4,69.6 93.7,69 94.1,68.5 94.7,68 95,67.4" fill="none" stroke="#0000ff" stroke-width="2.8" stroke-linejoin="round" stroke-linecap="round"/>
<polyline points="95,67.4 95.4,66.9 95.6,66.3 95.6,65.5 95.8,64.9 96.1,64.2 96.6,63.8 97.1,63.3" fill="none" stroke="#0000ff" stroke-width="2.9" stroke-linejoin="round" stroke-linecap="round"/>
<polyline points="97.1,63.3 97.7,62.9 98.1,62.3 98.2,61.6 98.4,61 98.9,60.4 99.2,59.8 99.5,59.2" fill="none" stroke="#0000ff" stroke-width="2.9" stroke-linejoin="round" stroke-linecap="round"/>
<polyline points="99.5,59.2 99.5,58.5 99.9,58 100.5,57.5 100.8,56.9 101.4,56.6 101.6,55.9 101.8,55.2" fill="none" stroke="#0000ff" stroke-width="2.9" stroke-linejoin="round" stroke-linecap="round"/>
<polyline points="101.8,55.2 102.2,54.7 102.3,53.9 102.8,53.5 103.2,53 103.9,52.7 104.7,52.4 104.6,51.5" fill="none" stroke="#0000ff" stroke-width="3.1" stroke-linejoin="round" stroke-linecap="round"/>
<polyline points="104.6,51.5 105.3,51.1 105.6,50.5 105.9,50 105.7,49 106.1,48.5 106.9,48.3 107.4,47.8" fill="none" stroke="#0000ff" stroke-width="3.3" stroke-linejoin="round" stroke-linecap="round"/>
<polyline points="107.4,47.8 107.8,47.2 107.8,46.5 107.9,45.7 108.5,45.3 108.5,44.5 109,44 109.1,43.3" fill="none" stroke="#0000ff" stroke-width="3.7" stroke-linejoin="round" stroke-linecap="round"/>
<polyline points="109.1,43.3 109.4,42.7 110.1,42.4 111,42.1 110.8,41.1 111.6,40.9 112.2,40.4 112.2,39.6" fill="none" stroke="#0000ff" stroke-width="4.1" stroke-linejoin="round" stroke-linecap="round"/>
<polyline points="112.2,39.6 112.8,39.1 113.4,38.9 114.9,37.9 115.2,38.5 115.9,38.8 115.6,39.9 115.7,40.6" fill="none" stroke="#0000ff" stroke-width="4.5" stroke-linejoin="round" stroke-linecap="round"/>
<polyline points="115.7,40.6 115.8,41.4 115.6,42.2 115.8,42.8 116.2,43.4 116.9,43.8 117.1,44.5 117.4,45" fill="none" stroke="#0000ff" stroke-width="4.5" stroke-linejoin="round" stroke-linecap="round"/>
<polyline points="117.4,45 117.9,45.6 118.4,46 118.6,46.7 118.6,46.1 119.2,45.9 119.7,45.5 120.9,46" fill="none" stroke="#0000ff" stroke-width="4.5" stroke-linejoin="round" stroke-linecap="round"/>
<polyline points="120.9,46 120.3,44.6 121.2,44.5 121.3,43.7 122.2,43.6 123,43.5 123.7,43.3 124.2,42.8" fill="none" stroke="#0000ff" stroke-width="4.5" stroke-linejoin="round" stroke-linecap="round"/>
<polyline points="124.2,42.8 124.4,42 125.2,41.8 125.9,41.5 126.6,41.9 127.3,41.8 128,42.1 128.7,42.2" fill="none" stroke="#0000ff" stroke-width="4.5" stroke-linejoin="round" stroke-linecap="round"/>
<polyline points="128.7,42.2 129.3,42 130.1,42.4 130.7,42.1 131.4,42.1 132.1,42.1 132.7,42.1 133.3,41.5" fill="none" stroke="#0000ff" stroke-width="4.0" stroke-linejoin="round" stroke-linecap="round"/>
<polyline points="133.3,41.5 133.9,40.9 134.7,41.4 135.3,41.4 136,41.1 136.6,40.7 137.3,40.8 137.8,40.1" fill="none" stroke="#0000ff" stroke-width="3.8" stroke-linejoin="round" stroke-linecap="round"/>
<polyline points="137.8,40.1 138.6,40.4 139.2,40.4 139.9,41 140.5,40.5 141.2,40.3 141.8,40 142.5,40.1" fill="none" stroke="#0000ff" stroke-width="3.6" stroke-linejoin="round" stroke-linecap="round"/>
<polyline points="142.5,40.1 143.2,40 143.8,40.4 144.5,40.2 145.1,40 145.8,39.9 146.5,39.9 147.1,40.1" fill="none" stroke="#0000ff" stroke-width="3.6" stroke-linejoin="round" stroke-linecap="round"/>
<polyline points="147.1,40.1 147.8,40.4 148.5,40.5 149.1,39.9 149.8,39.9 150.4,40.3 151.1,40.6 151.8,40" fill="none" stroke="#0000ff" stroke-width="3.6" stroke-linejoin="round" stroke-linecap="round"/>
<polyline points="151.8,40 152.4,39.9 153.1,39.3 153.7,39.3 154.4,39.8 155.1,40.4 155.7,40.3 156.4,40.2" fill="none" stroke="#0000ff" stroke-width="3.6" stroke-linejoin="round" stroke-linecap="round"/>
<polyline points="156.4,40.2 157,39.7 157.7,39.1 158.4,38.9 159,39.5 159.7,39.8 160.3,39.5 161,39.5" fill="none" stroke="#0000ff" stroke-width="3.6" stroke-linejoin="round" stroke-linecap="round"/>
<polyline points="161,39.5 161.7,39 162.3,39.3 163,39.6 163.6,39.1 164.3,39.7 165,39.6 165.6,39.8" fill="none" stroke="#0000ff" stroke-width="3.6" stroke-linejoin="round" stroke-linecap="round"/>
<polyline points="165.6,39.8 166.3,39.6 167,39.4 167.6,39.5 168.3,38.9 169,39.4 169.6,39.2 170.3,39.3" fill="none" stroke="#0000ff" stroke-width="3.6" stroke-linejoin="round" stroke-linecap="round"/>
<polyline points="170.3,39.3 170.9,39.2 171.6,39.4 172.3,39.6 173,39.6 173.6,39.3 174.3,39.6 175,39.7" fill="none" stroke="#0000ff" stroke-width="3.6" stroke-linejoin="round" stroke-linecap="round"/>
<polyline points="175,39.7 175.6,39.4 176.3,39.1 177,39.7 177.6,39.9 178.3,40 178.9,39.5 179.6,39.5" fill="none" stroke="#0000ff" stroke-width="3.6" stroke-linejoin="round" stroke-linecap="round"/>
<polyline points="179.6,39.5 180.3,39.2 180.9,38.7 181.6,39 182.3,39.1 182.9,39.1 183.6,39.2 184.3,39.2" fill="none" stroke="#0000ff" stroke-width="3.6" stroke-linejoin="round" stroke-linecap="round"/>
<polyline points="184.3,39.2 184.9,39.9 185.6,39.7 186.3,39.4 186.9,40.1 187.6,39.6 188.3,39.5 188.9,39.6" fill="none" stroke="#0000ff" stroke-width="3.6" stroke-linejoin="round" stroke-linecap="round"/>
<polyline points="188.9,39.6 189.6,39.5 190.3,39.1 190.9,38.8 191.6,39.4 192.3,39.6 192.9,39.7 193.6,39.7" fill="none" stroke="#0000ff" stroke-width="3.6" stroke-linejoin="round" stroke-linecap="round"/>
<polyline points="193.6,39.7 194.3,39.4 194.9,39.4 195.6,39 196.2,39.2 196.9,39.2 197.6,38.9 198.2,38.4" fill="none" stroke="#0000ff" stroke-width="3.6" stroke-linejoin="round" stroke-linecap="round"/>
<polyline points="198.2,38.4 198.9,38.5 199.6,38.9 200.2,38.8 200.9,39.6 201.6,39.4 202.2,39.4 202.9,39.5" fill="none" stroke="#0000ff" stroke-width="3.6" stroke-linejoin="round" stroke-linecap="round"/>
<polyline points="202.9,39.5 203.6,39.8 204.2,39.3 204.9,39.6 205.6,39.7 206.2,39.3 206.9,38.8 207.5,38.7" fill="none" stroke="#0000ff" stroke-width="3.6" stroke-linejoin="round" stroke-linecap="round"/>
<polyline points="207.5,38.7 208.2,38.6 208.9,38.6 209.5,38.6 210.2,38.9 210.9,39 211.5,39.1 212.2,38.9" fill="none" stroke="#0000ff" stroke-width="3.6" stroke-linejoin="round" stroke-linecap="round"/>
<polyline points="212.2,38.9 212.8,39 213.5,39.3 214.2,38.9 214.8,38.3 215.5,38.6 216.1,38.8 216.8,38.5" fill="none" stroke="#0000ff" stroke-width="3.6" stroke-linejoin="round" stroke-linecap="round"/>
<polyline points="216.8,38.5 217.5,39 218.1,39.5 218.8,39.2 219.4,38.7 220.1,38.9 220.8,39.4 221.4,38.6" fill="none" stroke="#0000ff" stroke-width="3.6" stroke-linejoin="round" stroke-linecap="round"/>
<polyline points="221.4,38.6 222.1,39 222.5,38 222.5,37.3 222.6,36.6 222.8,35.9 222.9,35.3 223,34.6" fill="none" stroke="#0000ff" stroke-width="3.6" stroke-linejoin="round" stroke-linecap="round"/>
<polyline points="223,34.6 223.5,34 223.6,34.7 223.8,35.3 223.9,36 223.9,36.7 224,37.3 224.1,37.8" fill="none" stroke="#0000ff" stroke-width="1.6" stroke-linejoin="round" stroke-linecap="round"/>
<polyline points="32.8,127.5 32,125 35.4,130.7 34.9,128.8 35,128 34,125 36.4,128.8 35.8,126.7 36.2,126.4 38.4,129.9 37,126 38.1,127.3 36.6,123.2 37.7,124.5 37.2,122.4 40.1,127.2 38.3,122.6 39.4,123.8 41.7,127.4 39.8,122.6 41.9,125.9 41.1,123.3 43.3,126.6 43,125 41.6,121.2 42.5,122.1 42.6,121.2 43.7,122.5 42.8,119.6 43.5,120.2 43.8,119.8 44.7,120.6 46.2,122.6 45.8,120.7 46.4,121 46.8,120.9 48,122.4 48.5,122.4 47.7,119.8 48.6,120.5 48,118.3 48.6,118.5 49.9,120.1 49.7,118.7 49.4,117.1 50.8,118.9 51.2,118.8 50.9,117 52.1,118.4 53,119.3 51.8,115.9 53.8,118.9 52.8,115.9 53.2,115.7 54,116.4 54.3,115.9 54.3,115.8 53.7,114.5 57.1,117.6 56.2,115.9 55.3,114.2 58.8,117.5 57.9,115.8 56.3,113.4 57.8,114.4 56.2,111.9 58.2,113.5 59.2,113.9 58.8,112.8 59.8,113.3 59.7,112.5 59.4,111.5 61.7,113.4 61.3,112.3 59.4,109.5 62.2,111.9 61.4,110.4 63.4,112 63.3,111.2 62,109.2 65,111.5 64,109.9 62.8,108.1 63.8,108.5 66.6,110.6 64.7,108.1 64.6,107.4 65.8,108 65.1,106.6 66.4,107.3 65.3,105.5 68.4,108 65.6,104.6 67.2,105.6 67.6,105.3 68.3,105.5 68.3,104.7 69.7,105.5 70.1,105.3 69.6,104.2 70.1,104.1 70.2,103.6 67.8,100.9 69.8,102 71.3,102.6 70.5,101.4 74,103.8 69,98.9 71.8,100.8 70.1,98.7 72.9,100.4 73,100 72.7,99.1 72.5,98.4 72,97.4 73.9,98.4 75.1,98.8 75.5,98.5 73.3,96.2 73.6,95.8 75.2,96.6 75.6,96.3 75.6,95.7 74.7,94.4 76.3,95.2 79.6,97.3 77.8,95.3 75.7,92.9 79.8,95.6 77.9,93.6 78.8,93.7 78.2,92.7 79.2,92.9 78.7,91.9 80.5,92.7 81.3,92.8 82.6,93.2 80.6,91.2 78.7,89.2 79.2,89 79.8,88.9 81.1,89.4 82.4,89.7 81.5,88.5 81,87.6 81.9,87.7 82.1,87.3 82,86.7 82.9,86.8 80.7,84.5 83.7,86.3 81.9,84.4 82.3,84.1 81.8,83.1 86.1,85.9 84.1,83.8 81.9,82.1 88,85.2 85.2,83.1 86.6,83.3 88,83.7 85.5,81.7 86.5,81.7 88,82.1 89.2,82.3 88.9,81.6 87.4,80.2 88.9,80.6 86.6,78.7 88,79 85.2,76.9 89.7,79 88.7,77.9 91.2,78.9 88,76.4 90.2,77.2 88.9,76 90.2,76.2 90,75.6 89.9,75 88.6,73.7 90.9,74.6 90.3,73.7 92.3,74.3 91.2,73.2 92.5,73.5 91.7,72.4 91.6,71.9 92.6,72 91.8,71 92.2,70.7 93,70.7 92.2,69.7 92.5,69.3 94.9,70.2 92.2,68.2 96.7,70.2 97.1,69.9 96.3,68.9 96.4,68.5 95.1,67.2 96.8,67.7 95.8,66.6 96.5,66.5 95.9,65.7 93.4,63.7 95.4,64.3 96.7,64.5 95.6,63.4 98.3,64.5 96,62.7 96.9,62.6 97.8,62.6 95.3,60.8 99.8,62.8 99.2,61.9 99.4,61.5 98.1,60.2 97.7,59.5 101.3,61 101.1,60.4 99.8,59.1 101.2,59.4 97.9,57.1 98.6,56.8 102.6,58.9 101.7,57.8 100.5,56.4 101.9,56.9 102,56.4 102.7,56.3 100,54 105.5,57.2 104.2,55.8 98.7,51.5 101.8,53.1 104.7,54.5 106.9,55.5 102.2,51.7 104.4,52.7 107.1,54 106.7,53.2 105.5,51.8 108.4,53.3 103.1,49.2 105.2,50.1 104.1,48.8 108,50.8 107.1,49.7 105.4,48 107.1,48.7 108.6,49.1 105.2,46.3 104.7,45.5 108.8,47.7 105.4,44.9 109.2,46.8 110.6,47.2 107.9,44.9 110.8,46.3 112,46.5 107.2,42.8 111.5,45.1 105.9,40.9 113.4,45.4 112.4,44.2 104.8,38.4 109.9,41.3 108.5,39.9 112.5,42 113.2,41.9 113.5,41.6 116.3,42.9 116.2,42.3 112.1,38.6 111.7,37.1 113.9,39.6 110.5,33.7 113.6,39 112.4,40.4 111,41.9 117.4,38.2 116.1,39.6 115.8,40.3 112.8,42.8 110.3,45.1 109.2,44.8 116,42.2 117.5,42 115.7,43.3 115.4,44 121.2,41.8 117,44.2 117.3,44.6 115.2,46 121.5,43.7 116.1,46.6 115.4,47.4 115.4,47.9 119.3,48.6 119.4,47.8 118.6,45.2 119.3,45.5 119.1,44.2 121,46.4 116.9,42.6 121,45.3 118.8,42.9 122.3,45.1 115,38.6 119.8,41.9 123.5,45.1 122,41.8 122.2,41.2 125.4,45.6 123.9,42.4 124.4,42.4 125.5,43.2 125.1,40.7 126,44.7 125.8,38.8 126.3,38.9 126.6,37.7 127.6,42.5 128.2,44.2 128.2,40.4 128.9,42.6 129.5,43.4 130.1,44.6 130.1,40.9 130.9,43.7 131,40.7 131.3,40.2 132.2,43.5 132.4,41.6 132.5,38.8 133.1,39.9 133.8,41.8 134.4,42.9 135,44.3 135.1,41.2 135.5,41.3 136.2,43 136.6,42.4 137.1,42.9 137.3,41.1 137.9,42.2 137.6,36.6 138.3,38.8 139.1,41.2 139.4,37.9 139.8,38.4 140.3,43.8 140.7,36.3 141.2,38.9 141.6,39 142.1,40.9 142.5,36.1 143,43.8 143.4,36.7 143.8,37.8 144.3,43.7 144.7,40.3 145.2,41.1 145.6,40.6 146,40.4 146.4,37.5 146.9,34.8 147.4,42.5 147.8,38.1 148.2,39.6 148.7,37.7 149.1,35.5 149.5,38.6 150.1,43.7 150.5,44.2 150.8,37 151.3,40.9 151.8,40.5 152.3,43.9 152.7,45.2 153.1,40.3 153.5,39.6 154,42.7 154.3,36.1 154.9,45 155.3,40.8 155.7,38.7 156.1,36.3 156.6,40.7 157.1,44.7 157.5,38.7 157.9,36.2 158.4,40.4 158.8,36.8 159.2,39.7 159.7,38.9 160.2,41.4 160.5,35.3 161.1,42.6 161.4,38.3 162,43.7 162.4,41.8 162.8,39.9 163.2,41 163.5,33.8 164.1,39.5 164.6,41.9 165,40.5 165.4,40.7 165.9,41.1 166.3,42 166.7,37.7 167.2,38.6 167.6,37.6 168.1,40.3 168.5,38.2 169,43.4 169.4,41.8 169.9,41.8 170.2,37.4 170.7,38 171.2,40.2 171.5,35.9 172,35.9 172.5,38.6 173,43.1 173.4,39.9 173.8,36 174.3,42.1 174.7,37.5 175.2,41.7 175.6,37.7 176.1,43.4 176.4,36.9 177,42.9 177.5,43.9 177.9,41.4 178.3,39.6 178.7,36.9 179.3,44.1 179.6,40.1 180,38.3 180.4,36.5 180.9,39.6 181.4,39.4 181.8,39.9 182.3,42.2 182.6,34.2 183.2,39.9 183.7,44.6 184,37.7 184.4,37 185,40.9 185.3,35.6 185.8,38.3 186.2,38.2 186.7,38.3 187.2,40.8 187.7,42.1 188.1,40.5 188.5,40 188.9,36.1 189.4,42.3 189.8,37.7 190.3,40.4 190.7,40.3 191.1,39 191.6,39.2 192.1,43.9 192.5,40.4 192.9,38 193.3,35.3 193.8,38.1 194.3,39.6 194.7,40.4 195.1,38.9 195.5,35.5 196,39.1 196.4,37.5 197,44.6 197.4,40.1 197.7,33.9 198.3,41.9 198.7,38.5 199.1,37.8 199.6,38.8 200,36.9 200.5,41.9 201,42 201.3,36.7 201.7,35.4 202.3,39.9 202.7,38.3 203.1,38.9 203.6,38.6 204.1,40.9 204.4,37.6 204.8,37.5 205.3,37.3 205.9,41.1 206.2,37.5 206.8,44.4 207.2,42.2 207.6,39.4 208,39.1 208.3,34.9 208.8,37.9 209.5,44.1 209.8,41.3 210.1,36.9 210.6,39.3 211,37 211.5,38 211.9,37.1 212.3,36.3 212.8,37 213.5,44.8 213.7,37.6 214.2,38.9 214.5,36.5 215,38.4 215.6,41.1 215.9,38.4 216.2,34.2 216.7,36.1 217.3,40.7 217.8,42.7 218.1,37.3 218.6,38.9 219.1,42.4 219.5,41.3 219.8,36.4 220.3,37.2 220.8,38.6 221.1,36 221.7,38.9 222.1,40.1 223.7,38.5 221.2,37.4 223.1,37.4 223,36.9 223,36.5 223.4,36.1 223,35.5 221.8,34.8 223.6,34.8 223.3,34.2 223.1,34.3 223.5,34.7 223.8,35.1 223.7,35.6 224,36 223.9,36.4 223.9,36.9 224,37.4 224.1,37.8" fill="none" stroke="#0000ff" stroke-width="0.9" stroke-linejoin="miter" stroke-miterlimit="2"/>
<polyline points="224.4,37.7 224.2,38 225.2,79.9 226.5,119.5" fill="none" stroke="#0000ff" stroke-width="1.2" stroke-linejoin="round" stroke-linecap="round"/>
<polyline points="226.5,119.5 226.7,120.1 226.7,120.8 226.9,121.5 227.2,122.1 227.1,122.8 226.7,123.5 227,124.2" fill="none" stroke="#0000ff" stroke-width="1.6" stroke-linejoin="round" stroke-linecap="round"/>
<polyline points="227,124.2 227.6,124.7 228.1,125.2 228.2,125.8 228.8,126.3 229,126.9 228.6,127.8 228.8,128.5" fill="none" stroke="#0000ff" stroke-width="3.4" stroke-linejoin="round" stroke-linecap="round"/>
<polyline points="228.8,128.5 229.2,129 229.7,129.5 230.1,130 230.1,130.8 230.8,131.1 231.2,131.7 231.5,132.3" fill="none" stroke="#0000ff" stroke-width="4.4" stroke-linejoin="round" stroke-linecap="round"/>
<polyline points="231.5,132.3 232.2,132.6 232.7,133 232.8,133.8 233.6,134 233.8,134.7 234,135.4 234.6,135.8" fill="none" stroke="#0000ff" stroke-width="4.5" stroke-linejoin="round" stroke-linecap="round"/>
<polyline points="234.6,135.8 234.9,136.4 235.9,136.4 236.1,137.1 236.7,137.5 237.7,137.5 237.5,138.5 237.6,139.3" fill="none" stroke="#0000ff" stroke-width="4.5" stroke-linejoin="round" stroke-linecap="round"/>
<polyline points="237.6,139.3 238.5,139.3 238.5,140.2 239.3,140.4 239.8,140.8 239.7,141.8 240.1,142.4 240.5,142.9" fill="none" stroke="#0000ff" stroke-width="4.5" stroke-linejoin="round" stroke-linecap="round"/>
<polyline points="240.5,142.9 241.3,143.1 241.5,143.8 241.6,144.6 241.5,145.6 242.1,146 243.5,145.5 243.5,146.5" fill="none" stroke="#0000ff" stroke-width="4.5" stroke-linejoin="round" stroke-linecap="round"/>
<polyline points="243.5,146.5 244.3,146.6 245.5,146.3 245.5,147.3 245.6,148 246.6,148 247.4,148.1 247.2,149.3" fill="none" stroke="#0000ff" stroke-width="4.5" stroke-linejoin="round" stroke-linecap="round"/>
<polyline points="247.2,149.3 247.9,149.5 247.9,150.5 248.8,150.4 249.4,150.8 250.1,151 250.7,151.3 250.6,152.5" fill="none" stroke="#0000ff" stroke-width="4.5" stroke-linejoin="round" stroke-linecap="round"/>
<polyline points="250.6,152.5 251.6,152.3 251.9,153 252.6,153.1 253.4,153.2 253.8,153.8 254.6,153.8 255.5,153.8" fill="none" stroke="#0000ff" stroke-width="4.5" stroke-linejoin="round" stroke-linecap="round"/>
<polyline points="255.5,153.8 255.3,155 255.4,156 255.7,156.1" fill="none" stroke="#0000ff" stroke-width="4.5" stroke-linejoin="round" stroke-linecap="round"/>
<polyline points="226.5,119.5 226.7,119.9 226.7,120.4 226.6,120.8 228.2,121 227.1,121.7 226.3,122.2 225.8,122.8 227,123 227.8,123.3 229.1,123.6 223.3,125 227.3,124.8 229.1,124.4 231.7,123.6 227.8,126 227.7,126.6 231.2,125.3 226,128.4 228.7,127.5 226.2,129.3 225.8,130 230.1,128.3 228.3,129.7 225.3,131.8 225.6,132.1 232.5,128.4 227.1,133.2 227.6,133.4 233,129.7 232.1,130.9 233.9,130.1 233.1,131.3 231.7,133 235.6,130.4 234.8,131.7 230.3,135.8 237.6,130.6 230.9,136.4 236.5,132.6 235.5,133.9 235.9,134.2 237.6,133.4 235.2,135.8 235.5,136.2 235.3,136.9 235.1,137.6 239,135.1 233.7,139.8 234.3,139.9 236.9,138.5 236.9,139 231.9,143.5 234.6,142 237.8,140 235.1,143.4 238,141.1 237,142.7 239.2,141.1 241.4,139.5 240.8,140.7 241.3,140.9 235.7,147.1 243.1,140.3 240.4,143.6 243.4,141.2 240.4,144.9 245,140.8 236.8,149.8 241.4,145.8 241.5,146.3 243.3,145.1 242.6,146.4 243.1,146.5 248.1,142.1 244,146.9 240.9,150.7 243.1,149 245.3,147.4 247.3,146 246.1,147.9 245.2,149.4 247.3,148 246,149.9 245.6,150.9 248,148.9 248.4,149.1 249.7,148.2 245.1,154.9 247,153.2 248.7,151.7 252,148.1 246.7,155.8 253,148.3 250.4,152.4 252,151.1 251.3,152.6 252.1,152.4 253,151.9 254.4,150.8 253.4,152.9 252.4,154.9 256.1,150.8 255.7,152 253.7,155.4 256.9,151.9 255.9,154 256,154.6 257.6,153.2" fill="none" stroke="#0000ff" stroke-width="0.9" stroke-linejoin="miter" stroke-miterlimit="2"/>
<polyline points="256.5,155 256,156" fill="none" stroke="#0000ff" stroke-width="1.2" stroke-linejoin="round" stroke-linecap="round"/>
<rect x="33" y="22" width="231.5" height="157.2" fill="none" stroke="#333" stroke-width="0.85"/>
<text x="46.62" y="191" font-size="8.8" text-anchor="middle" textLength="17.84" lengthAdjust="spacingAndGlyphs" class="tk">0.01</text>
<text x="73.85" y="191" font-size="8.8" text-anchor="middle" textLength="17.84" lengthAdjust="spacingAndGlyphs" class="tk">0.02</text>
<text x="101.09" y="191" font-size="8.8" text-anchor="middle" textLength="17.84" lengthAdjust="spacingAndGlyphs" class="tk">0.03</text>
<text x="128.32" y="191" font-size="8.8" text-anchor="middle" textLength="17.84" lengthAdjust="spacingAndGlyphs" class="tk">0.04</text>
<text x="155.56" y="191" font-size="8.8" text-anchor="middle" textLength="17.84" lengthAdjust="spacingAndGlyphs" class="tk">0.05</text>
<text x="182.79" y="191" font-size="8.8" text-anchor="middle" textLength="17.84" lengthAdjust="spacingAndGlyphs" class="tk">0.06</text>
<text x="210.03" y="191" font-size="8.8" text-anchor="middle" textLength="17.84" lengthAdjust="spacingAndGlyphs" class="tk">0.07</text>
<text x="237.26" y="191" font-size="8.8" text-anchor="middle" textLength="17.84" lengthAdjust="spacingAndGlyphs" class="tk">0.08</text>
<text x="264.5" y="191" font-size="8.8" text-anchor="middle" textLength="17.84" lengthAdjust="spacingAndGlyphs" class="tk">0.09</text>
<text x="27.5" y="182.35" font-size="8.8" text-anchor="end" textLength="9.94" lengthAdjust="spacingAndGlyphs" class="tk">16</text>
<text x="27.5" y="162.7" font-size="8.8" text-anchor="end" textLength="9.94" lengthAdjust="spacingAndGlyphs" class="tk">18</text>
<text x="27.5" y="143.05" font-size="8.8" text-anchor="end" textLength="9.94" lengthAdjust="spacingAndGlyphs" class="tk">20</text>
<text x="27.5" y="123.4" font-size="8.8" text-anchor="end" textLength="9.94" lengthAdjust="spacingAndGlyphs" class="tk">22</text>
<text x="27.5" y="103.75" font-size="8.8" text-anchor="end" textLength="9.94" lengthAdjust="spacingAndGlyphs" class="tk">24</text>
<text x="27.5" y="84.1" font-size="8.8" text-anchor="end" textLength="9.94" lengthAdjust="spacingAndGlyphs" class="tk">26</text>
<text x="27.5" y="64.45" font-size="8.8" text-anchor="end" textLength="9.94" lengthAdjust="spacingAndGlyphs" class="tk">28</text>
<text x="27.5" y="44.8" font-size="8.8" text-anchor="end" textLength="9.94" lengthAdjust="spacingAndGlyphs" class="tk">30</text>
<text x="27.5" y="25.15" font-size="8.8" text-anchor="end" textLength="9.94" lengthAdjust="spacingAndGlyphs" class="tk">32</text>
<text x="270.6" y="35.15" font-size="8.8" textLength="29.22" lengthAdjust="spacingAndGlyphs" class="tk">−4.686</text>
<text x="270.6" y="54.78" font-size="8.8" textLength="29.22" lengthAdjust="spacingAndGlyphs" class="tk">−4.688</text>
<text x="270.6" y="74.41" font-size="8.8" textLength="29.22" lengthAdjust="spacingAndGlyphs" class="tk">−4.690</text>
<text x="270.6" y="94.04" font-size="8.8" textLength="29.22" lengthAdjust="spacingAndGlyphs" class="tk">−4.692</text>
<text x="270.6" y="113.67" font-size="8.8" textLength="29.22" lengthAdjust="spacingAndGlyphs" class="tk">−4.694</text>
<text x="270.6" y="133.3" font-size="8.8" textLength="29.22" lengthAdjust="spacingAndGlyphs" class="tk">−4.696</text>
<text x="270.6" y="152.93" font-size="8.8" textLength="29.22" lengthAdjust="spacingAndGlyphs" class="tk">−4.698</text>
<text x="270.6" y="172.56" font-size="8.8" textLength="29.22" lengthAdjust="spacingAndGlyphs" class="tk">−4.700</text>
<path d="M46.62 179.2v3 M73.85 179.2v3 M101.09 179.2v3 M128.32 179.2v3 M155.56 179.2v3 M182.79 179.2v3 M210.03 179.2v3 M237.26 179.2v3 M264.5 179.2v3 M33 179.2h-3 M33 159.55h-3 M33 139.9h-3 M33 120.25h-3 M33 100.6h-3 M33 80.95h-3 M33 61.3h-3 M33 41.65h-3 M33 22h-3 M264.5 32h3 M264.5 51.63h3 M264.5 71.26h3 M264.5 90.89h3 M264.5 110.52h3 M264.5 130.15h3 M264.5 149.78h3 M264.5 169.41h3" stroke="#333" stroke-width="0.85" fill="none"/>
<text x="148.75" y="206.5" font-size="14.5" text-anchor="middle" textLength="177.5" lengthAdjust="spacing">Rel. def. along the x-axis</text>
<text transform="translate(11.2 101.1) rotate(-90)" font-size="14" text-anchor="middle" font-style="italic">σ<tspan font-style="normal">,</tspan> GPa</text>
<polyline points="323,133.7 332.9,130.2 342.8,126.8 353,123.3 362.9,120 372.8,117.3 380,115.9 386.6,114.1 393.2,112.6 395.2,112.6 396.3,113.9 396.6,122 397.3,139.6 401.9,140.2 407.8,140.2 409.8,142.6 411.8,142.6 423.7,141 424.7,142 435.5,141.2 437.5,142.2 462.3,137.6 464.3,139.6 464.3,139.8 464.4,140 464.4,140.3 464.5,140.5 464.4,140.7 464.6,140.9 464.8,141.1 464.6,141.4 464.8,141.5 464.9,141.7 464.8,142 464.9,142.2 464.8,142.4 465,142.6 464.8,142.9 465,143.1 465,143.3 465.1,143.5 465.3,143.7 465.3,143.9 465.2,144.2 465.1,144.4 465.5,144.6 464.8,144.9 465,145.1 465.8,145.2 465.2,145.5 465.6,145.7 465.6,145.9 466,146.1 465.2,146.5 466.1,146.5 465.9,146.8 466.2,146.9 465.2,147.4 465.5,147.5 466.6,147.5 466.3,147.8 465.9,148.1 466.3,148.2 466.2,148.3 466.4,148 466.7,148.6 466.9,148 467.1,148.9 467.3,149.5 467.6,148.4 467.8,149.2 468,148.6 468.2,148.2 468.5,148.4 468.7,148.1 468.9,148.5 469.1,148.7 469.4,148.8 469.6,148.4 469.8,148.1 470,148.5 470.3,149 470.5,148.6 470.7,148.5 470.9,147.9 471.2,148.4 471.4,148.6 471.6,148.3 471.8,148.8 472.1,148.4 472.3,148.3 472.5,148.4 472.7,148.5 473,148.7 473.2,148.5 485,147.9 498.9,147.5 500.9,150.5 502.9,153.9 510,152.5 523.9,149.4 546.1,143.2" fill="none" stroke="#ff0000" stroke-width="1.1" stroke-linejoin="round" stroke-linecap="round"/>
<polyline points="323,144.2 360,160.2 366.6,162.5 373.2,164.9 379.8,167.2 386.4,169.1 393,170.5 395,170.1 396.3,167.8 396.6,160 396.6,159.8 396.6,159.6 396.6,159.3 396.6,159.1 396.7,158.9 396.6,158.7 396.7,158.5 396.7,158.2 396.7,158 396.6,157.8 396.6,157.6 396.6,157.4 396.7,157.1 396.7,156.9 396.7,156.7 396.8,156.5 396.7,156.3 396.7,156 396.8,155.8 396.6,155.6 396.7,155.4 396.7,155.2 396.7,154.9 396.7,154.7 396.6,154.5 396.8,154.3 396.6,154.1 396.6,153.8 396.5,153.6 396.6,153.4 396.8,153.2 396.8,153 396.7,152.7 396.9,152.5 396.8,152.3 396.7,152.1 396.8,151.9 396.8,151.6 397.1,151.4 396.7,151.2 396.8,151 396.9,150.8 397,150.5 396.9,150.3 397,150.1 396.6,149.9 396.8,149.7 396.4,149.4 396.8,149.2 397.3,149 396.9,148.8 396.8,148.6 396.9,148.3 396.9,148.1 396.5,147.9 396.7,147.7 396.8,147.5 396.9,147.2 396.6,147 396.8,146.8 396.7,146.6 396.5,146.4 396.7,146.1 396.7,145.9 397.1,145.7 397.3,145.5 397.1,145.3 396.8,145 396.7,144.8 397.1,144.2 397.2,144.5 397.2,145.2 397.4,145.1 397.7,145 398,144.9 398.1,145.1 398.3,145.3 398.6,145.2 398.7,145.4 399.1,145.2 399.2,145.5 399.4,145.5 399.5,145.9 399.9,145.4 399.9,146.1 400.2,145.8 400.5,145.8 400.6,146 400.8,146.1 401.1,146.1 401.2,146.4 401.5,146.2 401.8,146 401.9,146.7 402.1,146.5 402.3,146.9 402.5,146.7 402.8,146.3 403,146.9 403.2,146.6 403.4,146.9 403.6,147.2 403.8,147 404.1,146.7 404.3,146.9 404.6,146.7 404.7,147.1 404.9,147.1 405.2,147 405.4,147.1 405.6,147.2 405.8,147.2 406.1,147.2 406.3,147.2 406.5,147.2 406.7,147.3 406.9,147.4 407.1,147.4 407.4,147.4 407.6,147.5 407.8,147.5 409.8,145.1 411.8,145.9 423.7,149.5 437.5,151.5 463.3,157.4 465.2,147.5 465.4,147.4 465.5,147.2 465.9,147.4 466,147.1 466.2,147 466.3,146.6 466.4,146.5 466.9,146.9 466.8,146.2 467.1,146.8 467.3,146.8 467.7,146.5 468.1,146 468,147 468.1,147.4 468.6,146.6 468.9,146.5 468.8,147.5 469.1,147.2 469.4,147 469.4,147.7 469.8,147.3 469.9,147.6 470.2,147.4 470.5,147.4 470.6,147.7 470.9,147.5 471.2,147.3 471.3,147.7 471.4,148.2 471.6,148.3 471.7,148.6 472.1,148.4 472.2,148.5 472.5,148.3 472.8,148.3 473,148.5 473.2,148.5 499.9,153.1 501.9,151.1 510,153.5 523.9,159.1 546.1,167.2" fill="none" stroke="#008000" stroke-width="1.1" stroke-linejoin="round" stroke-linecap="round"/>
<polyline points="323,148.4 342.3,146.5 361.6,145.2 380.9,144.2 390,144 396.4,143.4 397.9,141.2 409.8,137.6 429.6,134.1 463.3,131.3 466.2,129.7 498.9,125.3 501.9,121.4 510,119.8 523.9,118.5 546.1,116.6" fill="none" stroke="#ffa500" stroke-width="1.1" stroke-linejoin="round" stroke-linecap="round"/>
<polyline points="323,128.2 325,127.8 327,127.2 329,126.5 331,125.7 333,124.7 335,123.7 337,122.5 339,121.2 341,119.8 343,118.3 345,116.8 347,115.1 349,113.3 351,111.4 353,109.4 355,107.4 357,105.2 359,103 361,100.7 363,98.3 365,95.9 367,93.3 369,90.8 371,88.1 373,85.4 375,82.6 377,79.8 379,76.9 381,73.9 383,70.9 385,67.9 387,64.8 389,61.7 391,58.5 393,55.4 395,52.1 395.6,52.9 396.3,67 396.3,67.2 396.3,67.4 396.3,67.7 396.3,67.9 396.3,68.1 396.3,68.3 396.3,68.5 396.3,68.8 396.3,69 396.3,69.2 396.3,69.4 396.3,69.6 396.4,69.9 396.4,70.1 396.4,70.3 396.3,70.5 396.3,70.7 396.3,71 396.3,71.2 396.3,71.4 396.3,71.6 396.4,71.8 396.4,72.1 396.3,72.3 396.4,72.5 396.3,72.7 396.4,72.9 396.4,73.2 396.2,73.4 396.4,73.6 396.3,73.8 396.2,74 396.4,74.3 396.3,74.5 396.6,74.7 396.3,74.9 396.4,75.1 396.2,75.4 396.4,75.6 396.4,75.8 396.3,76 396.4,76.2 396.4,76.5 396.2,76.7 396.3,76.9 396.4,77.1 396.3,77.4 396.3,77.6 396.3,77.8 396.4,78 396.4,78.2 396.3,78.5 396.3,78.7 396.3,78.9 396.5,79.1 396.4,79.3 396.3,79.6 396.5,79.8 396.4,80 396.3,80.2 396.4,80.4 396.5,80.7 396.4,80.9 396.5,81.1 396.2,81.3 396.5,81.5 396.7,81.8 396.6,82 396.4,82.2 396.4,82.4 396.5,82.6 396.7,82.9 396.5,83.1 396.6,83.3 396.6,83.5 396.4,83.7 396.6,84 396.4,84.2 396.6,84.4 396.5,84.6 396.5,84.8 396.1,85.1 396.1,85.3 396.2,85.5 396.6,85.7 396.4,85.9 396.2,86.2 396.3,86.4 396.8,86.6 396.5,86.8 396.6,87 396.3,87.3 396.3,87.5 396.6,87.7 395.9,87.9 396.5,88.1 395.9,88.4 396.5,88.6 396.5,88.8 396,89 396.6,89.2 396.6,89.5 396.1,89.7 396.5,89.9 396.4,90.1 396.8,90.3 396,90.6 396.2,90.8 396.4,91 396.3,91.2 396.6,91.4 396.6,91.7 397,91.9 396.4,92.1 396.1,92.3 396.2,92.5 396.2,92.8 396.3,93 396.8,93.2 396.9,93.4 396.3,93.7 396.5,93.9 396.2,94.1 396.6,94.3 396.8,94.5 396.4,94.8 396.7,95 397.1,95.2 396.7,95.4 396.8,95.6 396.9,95.8 396.7,96.1 396.2,96.3 395.7,96.5 395.9,96.7 396.7,97 396.1,97.2 396.6,97.4 396.4,97.6 396.8,97.8 396.6,98.1 397.2,98.3 395.9,98.5 396.8,98.7 396.3,98.9 396.8,99.2 396.5,99.4 397,99.6 396.7,99.8 396.2,100 396.3,100.3 397.3,100.5 396.2,100.7 397.1,100.9 396.5,101.1 396.4,101.4 396.8,101.6 396.7,101.8 396.7,102 396.4,102.2 396.2,102.5 396,102.7 396.5,102.9 395.8,103.1 397,103.3 395.8,103.6 396.7,103.8 396.9,104.1 396.6,103.8 396.7,103.6 396.2,103.2 397,103.2 398.1,103.2 397,102.7 396.9,102.5 397,102.3 397.6,102.2 396.9,101.8 397.1,101.6 397.4,101.5 398.5,101.5 398.2,101.3 396.3,100.5 396.8,100.4 397.5,100.3 398.4,100.4 398.5,100.2 397.5,99.6 399.7,100 397.7,99.2 399.1,99.4 399.2,99.2 399.4,99 398.2,98.4 398.6,98.3 396.9,97.6 396.7,97.3 398.1,97 398.7,98 399,98.2 398.9,97.2 399.4,98 399.5,97.6 400,98.2 399.3,95.8 399.7,96.3 399.9,96.1 400.1,96 401,97.8 400.6,96 401,95.9 401.2,96.2 401.5,97.1 401.6,96.2 401.9,96.9 402.1,96.8 402.3,96 402.5,95.1 402.7,95.9 403,95.7 403.3,97.2 403.4,96 403.6,95.8 403.9,96.5 404.1,96.3 404.4,96 404.5,96.8 404.7,96.8 405,96.6 405.3,96.2 405.5,96.2 405.8,95.8 405.9,96.8 406.1,96.8 406.4,96.3 406.6,96.7 406.6,98 407.1,96.4 407.3,96.2 407.4,97.1 407.7,96.8 407.9,96.8 408.1,97.2 408.3,97 408.5,97.4 408.8,97.3 408.9,97.5 409.2,97.2 409.6,96.6 409.6,97.7 409.8,96.8 410.2,97.5 410.3,97.2 410.4,96.8 410.8,97.1 411,97.2 411.1,96.7 411.4,96.9 411.6,96.6 411.8,96.5 412,96.5 412.3,96.9 412.5,96.7 412.7,96.5 412.9,96.4 413.1,96.4 413.3,96.3 413.5,96.2 413.7,95.8 414,96.2 414.1,95.9 414.3,95.6 414.6,96 414.8,95.7 415,95.7 415.2,95.7 415.4,95.6 415.7,95.6 415.9,95.5 416.1,95.4 416.3,95.3 416.5,95.3 416.7,95.2 416.9,95.2 417.2,95.2 417.4,95.1 417.6,95 417.8,94.9 418,94.9 418.2,94.8 418.5,94.8 418.6,94.6 418.9,94.6 419.1,94.5 419.3,94.5 419.5,94.4 429.2,90.5 437,88.6 446.7,84.7 456.3,79.5 463.1,75.1 464,78 464.1,78.2 464.1,78.4 464,78.7 464.2,78.9 464.5,79 464.4,79.3 464.2,79.6 464.6,79.7 464.4,80 464.6,80.2 465,80.3 464.9,80.5 464.5,80.9 464.5,81.1 465.1,81.2 464.6,81.5 465.3,81.6 465,81.9 465.1,82.1 465.7,82.2 465.1,82.6 465.5,82.7 466.6,82.6 465.8,83 465.9,83.3 466,83.5 465.2,83.4 465.5,83.3 465.1,82.5 466.5,83.7 466.3,83.2 466.6,83.1 466.6,82.8 466.9,82.7 466.9,82.5 466.8,82 466.9,81.7 467.6,82.1 468,82.3 467.9,81.9 468.1,82.5 468.3,81.2 468.6,81.7 468.8,81.5 469,82.3 469.2,82.4 469.4,81.5 469.7,82 469.9,81.6 470.1,81.3 470.3,81.7 470.5,81.3 470.8,82.2 471,81.9 471.2,82.1 471.4,81.8 471.6,80.9 471.9,81.9 472.1,81.7 472.3,80.9 472.5,81.7 472.8,81.9 473,82.1 473.2,81.3 473.4,81.8 473.6,81.7 473.8,81.5 474.1,81.5 474.3,81.7 474.5,81.7 474.7,81.7 474.9,81.4 475.1,81.2 475.4,81.8 475.6,81.5 485.3,79.5 494.9,77 499.7,75.1 501.7,81.8 501.7,82 501.8,82.2 501.8,82.5 501.9,82.7 502,82.9 502,83.1 501.9,83.4 502.1,83.5 502.2,83.7 502,84 502.2,84.2 502.2,84.4 502.4,84.6 502.3,84.9 502.7,85 502.7,85.2 502.8,85.4 502.4,85.8 502.6,85.9 502.4,86.2 503.1,86.3 502.9,86.6 502.4,86.9 503,87 503.4,87.1 503.1,87.4 503.1,87.7 503,87.9 502.7,88.2 502.7,88.4 502.7,88.7 503,88.8 503.4,88.9 503.5,89.2 503.9,89.3 502.9,89.7 503,90 503.5,90.1 503.9,90.2 503.5,90.8 503.7,90.8 504,90.8 504.4,90.3 504.4,91 504.7,90.8 504.7,91.4 504.9,91.4 505.2,91.5 505.5,91.2 505.4,92.1 505.7,91.9 505.8,92.2 506.1,92.1 506.6,92.2 506.8,92 506.7,91.3 506.8,90.9 507.2,91.2 507.6,91.7 507.9,91.7 507.9,91.4 508.1,91.2 508.6,91.8 508.5,90.9 508.5,90.3 508.7,90.3 509.1,90.7 509.4,90.9 509.6,90.8 509.7,90.4 510.1,90.7 510.1,90.3 510.3,90 510.5,90 510.8,90.3 511.1,90.3 511,89.6 511.2,89.5 511.6,89.8 512,90.2 511.8,89.3 512,89.1 512.4,89.5 512.6,89.4 512.7,89.1 513,89.1 513.2,89.1 513.2,88.6 513.6,88.9 513.8,88.9 514.1,88.9 514.2,88.6 523.9,83.4 533.5,77 546.1,68.3" fill="none" stroke="#0000ff" stroke-width="1.3" stroke-linejoin="round" stroke-linecap="round"/>
<rect x="322.5" y="22" width="231.5" height="157.2" fill="none" stroke="#333" stroke-width="0.85"/>
<text x="336.12" y="191" font-size="8.8" text-anchor="middle" textLength="17.84" lengthAdjust="spacingAndGlyphs" class="tk">0.01</text>
<text x="363.35" y="191" font-size="8.8" text-anchor="middle" textLength="17.84" lengthAdjust="spacingAndGlyphs" class="tk">0.02</text>
<text x="390.59" y="191" font-size="8.8" text-anchor="middle" textLength="17.84" lengthAdjust="spacingAndGlyphs" class="tk">0.03</text>
<text x="417.82" y="191" font-size="8.8" text-anchor="middle" textLength="17.84" lengthAdjust="spacingAndGlyphs" class="tk">0.04</text>
<text x="445.06" y="191" font-size="8.8" text-anchor="middle" textLength="17.84" lengthAdjust="spacingAndGlyphs" class="tk">0.05</text>
<text x="472.29" y="191" font-size="8.8" text-anchor="middle" textLength="17.84" lengthAdjust="spacingAndGlyphs" class="tk">0.06</text>
<text x="499.53" y="191" font-size="8.8" text-anchor="middle" textLength="17.84" lengthAdjust="spacingAndGlyphs" class="tk">0.07</text>
<text x="526.76" y="191" font-size="8.8" text-anchor="middle" textLength="17.84" lengthAdjust="spacingAndGlyphs" class="tk">0.08</text>
<text x="554" y="191" font-size="8.8" text-anchor="middle" textLength="17.84" lengthAdjust="spacingAndGlyphs" class="tk">0.09</text>
<text x="317" y="182.35" font-size="8.8" text-anchor="end" textLength="9.94" lengthAdjust="spacingAndGlyphs" class="tk">16</text>
<text x="317" y="162.7" font-size="8.8" text-anchor="end" textLength="9.94" lengthAdjust="spacingAndGlyphs" class="tk">18</text>
<text x="317" y="143.05" font-size="8.8" text-anchor="end" textLength="9.94" lengthAdjust="spacingAndGlyphs" class="tk">20</text>
<text x="317" y="123.4" font-size="8.8" text-anchor="end" textLength="9.94" lengthAdjust="spacingAndGlyphs" class="tk">22</text>
<text x="317" y="103.75" font-size="8.8" text-anchor="end" textLength="9.94" lengthAdjust="spacingAndGlyphs" class="tk">24</text>
<text x="317" y="84.1" font-size="8.8" text-anchor="end" textLength="9.94" lengthAdjust="spacingAndGlyphs" class="tk">26</text>
<text x="317" y="64.45" font-size="8.8" text-anchor="end" textLength="9.94" lengthAdjust="spacingAndGlyphs" class="tk">28</text>
<text x="317" y="44.8" font-size="8.8" text-anchor="end" textLength="9.94" lengthAdjust="spacingAndGlyphs" class="tk">30</text>
<text x="317" y="25.15" font-size="8.8" text-anchor="end" textLength="9.94" lengthAdjust="spacingAndGlyphs" class="tk">32</text>
<text x="560.1" y="35.15" font-size="8.8" textLength="29.22" lengthAdjust="spacingAndGlyphs" class="tk">−4.686</text>
<text x="560.1" y="54.78" font-size="8.8" textLength="29.22" lengthAdjust="spacingAndGlyphs" class="tk">−4.688</text>
<text x="560.1" y="74.41" font-size="8.8" textLength="29.22" lengthAdjust="spacingAndGlyphs" class="tk">−4.690</text>
<text x="560.1" y="94.04" font-size="8.8" textLength="29.22" lengthAdjust="spacingAndGlyphs" class="tk">−4.692</text>
<text x="560.1" y="113.67" font-size="8.8" textLength="29.22" lengthAdjust="spacingAndGlyphs" class="tk">−4.694</text>
<text x="560.1" y="133.3" font-size="8.8" textLength="29.22" lengthAdjust="spacingAndGlyphs" class="tk">−4.696</text>
<text x="560.1" y="152.93" font-size="8.8" textLength="29.22" lengthAdjust="spacingAndGlyphs" class="tk">−4.698</text>
<text x="560.1" y="172.56" font-size="8.8" textLength="29.22" lengthAdjust="spacingAndGlyphs" class="tk">−4.700</text>
<path d="M336.12 179.2v3 M363.35 179.2v3 M390.59 179.2v3 M417.82 179.2v3 M445.06 179.2v3 M472.29 179.2v3 M499.53 179.2v3 M526.76 179.2v3 M554 179.2v3 M322.5 179.2h-3 M322.5 159.55h-3 M322.5 139.9h-3 M322.5 120.25h-3 M322.5 100.6h-3 M322.5 80.95h-3 M322.5 61.3h-3 M322.5 41.65h-3 M322.5 22h-3 M554 32h3 M554 51.63h3 M554 71.26h3 M554 90.89h3 M554 110.52h3 M554 130.15h3 M554 149.78h3 M554 169.41h3" stroke="#333" stroke-width="0.85" fill="none"/>
<text x="438.25" y="206.5" font-size="14.5" text-anchor="middle" textLength="177.5" lengthAdjust="spacing">Rel. def. along the x-axis</text>
<text transform="translate(602.4 101.8) rotate(-90)" font-size="14" text-anchor="middle" textLength="186" lengthAdjust="spacingAndGlyphs">Potential energy, eV/atom</text>
<polyline points="33,338.3 47.9,333.4 62.7,328.4 77.6,323.4 92.4,318.7" fill="none" stroke="#ff0000" stroke-width="1.25" stroke-linejoin="round" stroke-linecap="round"/>
<polyline points="92.4,318.8 93,318.6 93.7,318.3 94.3,318.1 95,318 95.6,317.9 96.3,317.8 96.9,317.6" fill="none" stroke="#ff0000" stroke-width="1.3" stroke-linejoin="round" stroke-linecap="round"/>
<polyline points="96.9,317.6 97.6,317.6 98.2,317.4 98.8,317.1 99.5,317 100.2,317 100.9,317 101.5,316.7" fill="none" stroke="#ff0000" stroke-width="1.3" stroke-linejoin="round" stroke-linecap="round"/>
<polyline points="101.5,316.7 102.1,316.4 102.7,316.3 103.4,316.1 104,316 104.7,315.8 105.3,315.7 106,315.7" fill="none" stroke="#ff0000" stroke-width="1.3" stroke-linejoin="round" stroke-linecap="round"/>
<polyline points="106,315.7 106.6,315.5 107.3,315.4 108,315.2 108.6,315.1 109.3,315.1 110,315.4 110.7,315.1" fill="none" stroke="#ff0000" stroke-width="1.3" stroke-linejoin="round" stroke-linecap="round"/>
<polyline points="110.7,315.1 111.4,315.3 112.1,315.1 112.7,314.9 113.4,314.9 114.1,314.9 114.7,315.2 115.4,315.3" fill="none" stroke="#ff0000" stroke-width="1.4" stroke-linejoin="round" stroke-linecap="round"/>
<polyline points="115.4,315.3 116.1,315.4 116.5,316 116.9,316.6 116.8,317.4 117,318.1 117.6,318.5 117.8,319.2" fill="none" stroke="#ff0000" stroke-width="2.0" stroke-linejoin="round" stroke-linecap="round"/>
<polyline points="117.8,319.2 118.4,319.7 118.5,320.4 118.7,321 119,321.7 119.6,322.1 120,322.6 120.4,323.2" fill="none" stroke="#ff0000" stroke-width="2.1" stroke-linejoin="round" stroke-linecap="round"/>
<polyline points="120.4,323.2 120.9,323.6 121.3,324.1 121.8,324.5 122.3,325 122.8,325.5 123.5,325.7 124.1,326" fill="none" stroke="#ff0000" stroke-width="2.1" stroke-linejoin="round" stroke-linecap="round"/>
<polyline points="124.1,326 124.4,326.6 125.1,326.8 125.5,327.4 126.2,327.6 126.7,328.1 127.1,328.7 127.7,328.9" fill="none" stroke="#ff0000" stroke-width="2.1" stroke-linejoin="round" stroke-linecap="round"/>
<polyline points="127.7,328.9 128,329.6 128.8,329.7 129.5,329.9 130,330.1 130.6,330.5 131.2,330.8 131.8,331.1" fill="none" stroke="#ff0000" stroke-width="2.1" stroke-linejoin="round" stroke-linecap="round"/>
<polyline points="131.8,331.1 132.5,331.1 133,331.8 133.6,331.9 134.3,332.2 134.9,332.3 135.6,332.4 136.3,332.5" fill="none" stroke="#ff0000" stroke-width="2.1" stroke-linejoin="round" stroke-linecap="round"/>
<polyline points="136.3,332.5 136.9,332.9 137.4,333.4 138.2,333.1 138.8,333.5 139.4,333.6 140.1,333.7 140.8,333.4" fill="none" stroke="#ff0000" stroke-width="2.1" stroke-linejoin="round" stroke-linecap="round"/>
<polyline points="140.8,333.4 141.5,333.6 142.1,333.6 142.8,333.8 143.3,334.3 143.9,334.8 144.6,334.7 145.3,334.6" fill="none" stroke="#ff0000" stroke-width="2.1" stroke-linejoin="round" stroke-linecap="round"/>
<polyline points="145.3,334.6 146,334.7 146.6,334.6 147.2,334.8 147.9,335.2 148.5,335.6 149.2,335.1 149.9,335" fill="none" stroke="#ff0000" stroke-width="2.1" stroke-linejoin="round" stroke-linecap="round"/>
<polyline points="149.9,335 150.5,335.5 151.2,335.3 151.8,336 152.5,335.9 153.1,336 153.8,335.8 154.4,336.1" fill="none" stroke="#ff0000" stroke-width="2.0" stroke-linejoin="round" stroke-linecap="round"/>
<polyline points="154.4,336.1 155.1,336.2 155.7,336.3 156.4,336.4 157.1,335.9 157.7,336.2 158.4,336.4 159,336.5" fill="none" stroke="#ff0000" stroke-width="2.0" stroke-linejoin="round" stroke-linecap="round"/>
<polyline points="159,336.5 159.7,336.8 160.4,336.5 161,336.5 161.7,336.6 162.4,336.2 163,336.5 163.7,336.7" fill="none" stroke="#ff0000" stroke-width="1.9" stroke-linejoin="round" stroke-linecap="round"/>
<polyline points="163.7,336.7 164.3,336.8 165,336.9 165.6,336.9 166.3,337 166.9,337.3 167.6,337.5 168.3,337.2" fill="none" stroke="#ff0000" stroke-width="1.9" stroke-linejoin="round" stroke-linecap="round"/>
<polyline points="168.3,337.2 169,337.1 169.6,337 170.3,336.8 171,337.3 171.6,337.4 172.3,337.4 173,337.3" fill="none" stroke="#ff0000" stroke-width="1.9" stroke-linejoin="round" stroke-linecap="round"/>
<polyline points="173,337.3 173.6,337.4 174.3,337.4 174.9,337.8 175.6,337.4 176.3,337.9 176.9,337.7 177.6,337.3" fill="none" stroke="#ff0000" stroke-width="1.9" stroke-linejoin="round" stroke-linecap="round"/>
<polyline points="177.6,337.3 178.3,337.4 179,337.5 179.6,337.5 180.3,337.6 180.9,337.8 181.6,338 182.3,337.8" fill="none" stroke="#ff0000" stroke-width="1.9" stroke-linejoin="round" stroke-linecap="round"/>
<polyline points="182.3,337.8 182.9,338.2 183.6,338 184.3,338.1 184.9,337.8 185.6,338.2 186.2,338.5 186.9,338.6" fill="none" stroke="#ff0000" stroke-width="1.9" stroke-linejoin="round" stroke-linecap="round"/>
<polyline points="186.9,338.6 187.6,338.3 188.3,337.8 188.9,338.1 189.5,338.4 190.2,338.6 190.9,338.6 191.5,338.5" fill="none" stroke="#ff0000" stroke-width="1.9" stroke-linejoin="round" stroke-linecap="round"/>
<polyline points="191.5,338.5 192.2,338.6 192.8,339.1 193.5,339.1 194.1,339.2 194.8,339.2 195.5,339 196.2,338.8" fill="none" stroke="#ff0000" stroke-width="1.8" stroke-linejoin="round" stroke-linecap="round"/>
<polyline points="196.2,338.8 196.8,338.9 197.5,339 198.1,338.9 198.8,339.3 199.4,339.6 200.1,339.5 200.7,339.7" fill="none" stroke="#ff0000" stroke-width="1.8" stroke-linejoin="round" stroke-linecap="round"/>
<polyline points="200.7,339.7 201.4,339.5 202.1,339.6 202.7,339.7 203.4,339.7 204,340.1 204.7,340.2 205.3,340.1" fill="none" stroke="#ff0000" stroke-width="1.7" stroke-linejoin="round" stroke-linecap="round"/>
<polyline points="205.3,340.1 206,340.1 206.7,340 207.3,340.2 208,339.9 208.7,339.9 209.3,340.3 209.9,340.5" fill="none" stroke="#ff0000" stroke-width="1.6" stroke-linejoin="round" stroke-linecap="round"/>
<polyline points="209.9,340.5 210.6,340.6 211.2,340.7 211.9,340.7 212.6,340.8 213.2,340.7 213.9,340.9 214.5,341.1" fill="none" stroke="#ff0000" stroke-width="1.5" stroke-linejoin="round" stroke-linecap="round"/>
<polyline points="214.5,341.1 215.2,341 215.8,341.1 216.5,341.3 217.2,341.2 217.8,341.3 218.5,341.4 219.1,341.5" fill="none" stroke="#ff0000" stroke-width="1.3" stroke-linejoin="round" stroke-linecap="round"/>
<polyline points="219.1,341.5 219.8,341.7 220.4,341.7 221.1,341.8 221.3,342.2 221.4,342.9 221.7,343.5 221.9,344.2" fill="none" stroke="#ff0000" stroke-width="1.3" stroke-linejoin="round" stroke-linecap="round"/>
<polyline points="221.9,344.2 221.9,344.8 222,345.5 222.2,346.1 222.4,346.7 222.6,347.4 222.7,348 222.7,348.7" fill="none" stroke="#ff0000" stroke-width="1.3" stroke-linejoin="round" stroke-linecap="round"/>
<polyline points="222.7,348.7 222.7,349.4 222.9,350 223.1,350.6 223.3,351.3" fill="none" stroke="#ff0000" stroke-width="1.3" stroke-linejoin="round" stroke-linecap="round"/>
<polyline points="92.4,318.7 92.9,318.7 93.3,318.7 93.7,318.3 94.1,318.2 94.6,318.3 95,318 95.4,318.1 95.8,317.8 96.3,318 96.7,317.8 97.1,317.5 97.6,317.8 98,317.6 98.5,317.4 98.9,317.3 99.3,317.1 99.7,316.9 100.2,317 100.7,317.1 101,316.7 101.5,316.6 101.9,316.7 102.3,316.5 102.8,316.5 103.2,316.3 103.6,315.9 104,315.8 104.5,316.1 104.9,315.9 105.3,315.5 105.9,316.1 106.2,315.5 106.7,315.5 107,315.2 107.5,315.4 107.9,314.9 108.5,315.6 108.9,314.9 109.3,315.2 109.8,315.4 110.3,315.2 110.8,315.8 111.1,314.7 111.6,314.7 112.1,315.2 112.5,315 113,314.9 113.1,316 114,314.6 114.5,314.5 114.8,315.1 115.4,314.3 115.6,315.2 116.1,315.1 116.9,315.6 116,316.5 116.2,317 115.7,317.7 116.9,317.6 115.2,319 117.3,318.5 118.1,318.6 117,319.6 117.5,319.8 116.7,320.8 118.4,320.4 118.6,320.8 118.6,321.4 119.7,321 118.6,322.7 120.8,321.2 120.8,321.8 119.4,323.8 120.8,323.1 119.8,324.7 120.3,324.8 122.6,323.1 120.9,325.5 121.9,325.2 122.3,325.4 123.2,325 123.5,325.4 123.5,326 124.8,325.1 125.6,324.7 123.4,328.3 126.4,325.1 124.6,328.3 126.1,327 126.3,327.5 127,327.2 126.4,328.7 127.9,327.6 127.3,329 127.1,330.1 127.4,330.3 127.2,331.4 129,329.8 129.6,329.8 129.9,329.8 130.3,330 130.7,330.1 130.4,332.3 131.2,331.4 132,330.6 131.9,332.1 131.9,333.3 132.4,333.3 132.9,333.2 133.9,331.9 134.2,332.3 134.9,331.6 135.6,331.2 135.9,331.5 135.9,333 136.4,332.8 136.9,332.7 137.4,332.7 137.8,333.1 137.7,334.6 139,332.2 138.7,334.4 139.4,334.1 139.8,334.2 140.5,332.5 140.8,333.2 141.4,332.9 141.7,333.5 142.3,332.7 142.5,334.3 143.1,333.2 143.4,334.2 143.9,333.8 144.3,334.1 144.3,336.4 144.9,335.6 145.2,336.2 145.8,335.4 146.6,333.5 146.5,336.5 147.1,335.9 147.7,335.2 147.9,336.8 148.4,336.4 148.8,337.1 149.5,334.8 149.9,335 150.3,335 150.8,334.9 151.1,336 151.7,334.6 152,335.8 152.6,334.8 153,335.2 153.4,335.4 153.7,337.1 154.2,335.8 154.5,337.6 155.3,334.3 155.5,336.8 156,335.9 156.5,335.5 156.8,336.5 157.3,336.6 157.9,334.9 158.1,336.6 158.7,335.7 159,336.8 159.5,335.9 159.9,336.7 160.3,337.1 160.6,338.2 161.3,336.5 161.6,337.4 162.2,335.9 162.6,335.9 163,336.4 163.5,335.8 163.7,338.2 164.3,337 164.7,337.1 165.3,336.2 165.6,337.3 166.2,335.3 166.5,336.7 166.9,338.6 167.4,337.2 167.8,337.9 168.3,336.4 168.7,337 169.2,337.3 169.6,337 170.1,337.6 170.5,337.5 170.9,338 171.4,337 171.8,337.5 172.4,336.1 172.8,337 173.2,337.7 173.7,336.6 174.1,337.1 174.6,336.4 175,336.5 175.4,337.8 175.8,337.9 176.3,337.5 176.7,337.8 177.1,338 177.6,337.7 178.1,336.7 178.4,338.8 179,337.1 179.4,337.3 179.9,337.2 180.3,336.6 180.7,337.3 181.2,337.2 181.6,338.2 182.1,337.1 182.5,336.9 182.9,339.1 183.4,337.6 183.9,336.9 184.2,338.7 184.7,337.6 185.1,338.4 185.7,337.4 186.1,337.8 186.6,337.3 187,337.1 187.2,339.6 187.9,336.8 188.3,337.4 188.7,338 189.2,337.8 189.5,338.7 190,338.5 190.3,339.5 190.8,339.2 191.2,339.8 191.8,338.1 192.3,337.4 192.6,338.8 193,339.5 193.4,339.7 193.8,339.8 194.3,339.3 194.8,338.6 195.3,338.2 195.7,338.8 196.2,338 196.5,339.6 197.1,338.6 197.4,339.7 197.9,338.9 198.3,339.5 198.8,339.4 199.1,340.4 199.5,340.7 200,340.3 200.6,338.9 200.9,339.6 201.4,339.4 202,338.1 202.3,339.7 202.8,339.1 203.2,338.7 203.6,339.6 204,340.1 204.5,339.5 204.8,341.2 205.3,340.3 205.8,339.5 206.1,341.2 206.6,340.2 207.1,339.8 207.6,339.7 208,340.2 208.5,339.4 208.8,340.9 209.3,340.1 209.7,340.6 210.2,340.2 210.6,340.5 210.9,341.4 211.5,340.6 212,340.1 212.4,340.4 212.9,339.9 213.2,340.7 213.6,341.2 214.1,340.8 214.5,341.5 215,341.1 215.4,341.5 215.8,341.6 216.3,340.9 216.7,341.4 217.1,341.3 217.6,341.3 218.1,341 218.5,341.3 218.9,341.1 219.3,341.9 219.8,341.6 220.2,341.6 220.6,341.7 221.1,341.8 221.5,342 221.1,342.5 221.3,342.9 221.4,343.3 221.7,343.7 221.9,344.2 221.8,344.6 221.9,345.1 221.8,345.5 222.1,345.9 222.3,346.3 222.2,346.8 222.7,347.1 222.5,347.6 222.8,348 222.7,348.5 222.7,348.9 222.6,349.4 222.9,349.8 222.9,350.2 223.1,350.6 223.1,351.1" fill="none" stroke="#ff0000" stroke-width="0.8" stroke-linejoin="miter" stroke-miterlimit="2"/>
<polyline points="223.3,351.3 223.3,351.5 226.2,366.5 243.5,359.2 258,351.5" fill="none" stroke="#ff0000" stroke-width="1.25" stroke-linejoin="round" stroke-linecap="round"/>
<polyline points="33,349.2 52.3,357.8 73,364.8 90.9,370.6" fill="none" stroke="#008000" stroke-width="1.25" stroke-linejoin="round" stroke-linecap="round"/>
<polyline points="90.9,370.6 91.5,370.8 92.2,370.8 92.9,371 93.5,371.2 94.1,371.5 94.7,371.6 95.4,371.7" fill="none" stroke="#008000" stroke-width="1.3" stroke-linejoin="round" stroke-linecap="round"/>
<polyline points="95.4,371.7 96,371.8 96.6,372.2 97.3,372.4 97.9,372.6 98.5,372.8 99.1,373 99.8,373.2" fill="none" stroke="#008000" stroke-width="1.3" stroke-linejoin="round" stroke-linecap="round"/>
<polyline points="99.8,373.2 100.5,373.2 101.1,373.4 101.7,373.7 102.3,373.9 103,374.2 103.6,374.3 104.2,374.6" fill="none" stroke="#008000" stroke-width="1.3" stroke-linejoin="round" stroke-linecap="round"/>
<polyline points="104.2,374.6 104.9,374.7 105.5,374.9 106.2,375 106.9,374.9 107.5,375.3 108.2,375.7 108.9,375.5" fill="none" stroke="#008000" stroke-width="1.5" stroke-linejoin="round" stroke-linecap="round"/>
<polyline points="108.9,375.5 109.5,375.7 110.2,375.7 110.9,375.7 111.6,375.4 112.3,375.8 113,375.9 113.5,375.7" fill="none" stroke="#008000" stroke-width="1.9" stroke-linejoin="round" stroke-linecap="round"/>
<polyline points="113.5,375.7 114.3,375.7 115,375.5 115.7,375.4 116,374.6 116.7,374.3 116.8,373.6 117,373" fill="none" stroke="#008000" stroke-width="2.3" stroke-linejoin="round" stroke-linecap="round"/>
<polyline points="117,373 117.3,372.3 117.3,371.6 117.1,370.9 117.4,370.3 117.4,369.6 117,368.8 116.9,368.1" fill="none" stroke="#008000" stroke-width="2.5" stroke-linejoin="round" stroke-linecap="round"/>
<polyline points="116.9,368.1 117.4,367.5 117.6,366.9 117.2,366.1 117.7,365.5 118,364.9 118.6,364.4 119,363.8" fill="none" stroke="#008000" stroke-width="2.7" stroke-linejoin="round" stroke-linecap="round"/>
<polyline points="119,363.8 119.3,363.1 119.1,362.4 119,361.7 119.6,361.3 120,360.7 120.5,360.2 121.1,359.8" fill="none" stroke="#008000" stroke-width="2.6" stroke-linejoin="round" stroke-linecap="round"/>
<polyline points="121.1,359.8 121.6,359.3 122.3,359.2 122.8,358.8 123.4,358.5 124.2,358.5 124.7,358.2 125.3,357.8" fill="none" stroke="#008000" stroke-width="2.5" stroke-linejoin="round" stroke-linecap="round"/>
<polyline points="125.3,357.8 125.9,357.5 126.5,357.2 127,356.8 127.6,356.4 128.2,356.2 128.7,355.6 129.3,355.4" fill="none" stroke="#008000" stroke-width="2.4" stroke-linejoin="round" stroke-linecap="round"/>
<polyline points="129.3,355.4 129.9,355.2 130.4,354.5 131.1,354.5 131.8,354.6 132.4,354.4 133.2,354.6 133.8,354.4" fill="none" stroke="#008000" stroke-width="2.3" stroke-linejoin="round" stroke-linecap="round"/>
<polyline points="133.8,354.4 134.4,354 135,353.6 135.6,353.4 136.1,352.9 136.6,352.3 137.3,352.1 138,352.1" fill="none" stroke="#008000" stroke-width="2.2" stroke-linejoin="round" stroke-linecap="round"/>
<polyline points="138,352.1 138.6,352 139.4,351.9 140,351.8 140.7,351.7 141.4,352.3 142.1,352 142.7,351.8" fill="none" stroke="#008000" stroke-width="2.1" stroke-linejoin="round" stroke-linecap="round"/>
<polyline points="142.7,351.8 143.4,351.9 144,351.2 144.7,351.6 145.4,351.6 146.1,351.3 146.7,351.1 147.4,351.3" fill="none" stroke="#008000" stroke-width="2.1" stroke-linejoin="round" stroke-linecap="round"/>
<polyline points="147.4,351.3 148.1,351.4 148.8,351.4 149.4,351.4 150.1,351.4 150.8,351.5 151.4,351.2 152,351" fill="none" stroke="#008000" stroke-width="2.1" stroke-linejoin="round" stroke-linecap="round"/>
<polyline points="152,351 152.7,351.3 153.4,351 154,350.8 154.7,350.9 155.3,350.6 156,350.6 156.7,351.1" fill="none" stroke="#008000" stroke-width="2.0" stroke-linejoin="round" stroke-linecap="round"/>
<polyline points="156.7,351.1 157.3,350.6 157.9,350.2 158.6,350.2 159.3,350.3 159.9,350.2 160.7,350.7 161.3,350.5" fill="none" stroke="#008000" stroke-width="2.0" stroke-linejoin="round" stroke-linecap="round"/>
<polyline points="161.3,350.5 161.9,350 162.5,349.7 163.2,350 163.9,349.8 164.5,349.8 165.2,349.5 165.8,349.5" fill="none" stroke="#008000" stroke-width="1.9" stroke-linejoin="round" stroke-linecap="round"/>
<polyline points="165.8,349.5 166.5,349.2 167.2,349.5 167.8,349.6 168.5,349.2 169.1,349 169.8,348.9 170.5,349.2" fill="none" stroke="#008000" stroke-width="1.9" stroke-linejoin="round" stroke-linecap="round"/>
<polyline points="170.5,349.2 171.1,348.9 171.8,349.3 172.4,348.8 173.1,348.7 173.7,348.8 174.4,348.8 175.1,349.3" fill="none" stroke="#008000" stroke-width="1.9" stroke-linejoin="round" stroke-linecap="round"/>
<polyline points="175.1,349.3 175.7,348.9 176.4,348.8 177.1,348.9 177.8,349.3 178.4,349.3 179,348.8 179.7,349" fill="none" stroke="#008000" stroke-width="1.9" stroke-linejoin="round" stroke-linecap="round"/>
<polyline points="179.7,349 180.3,348.6 181,348.5 181.6,348.3 182.3,347.9 182.9,347.8 183.6,348.1 184.3,348" fill="none" stroke="#008000" stroke-width="1.9" stroke-linejoin="round" stroke-linecap="round"/>
<polyline points="184.3,348 184.9,348.1 185.6,348 186.3,348 186.9,347.9 187.6,347.6 188.2,347.6 188.9,347.8" fill="none" stroke="#008000" stroke-width="1.9" stroke-linejoin="round" stroke-linecap="round"/>
<polyline points="188.9,347.8 189.6,348 190.2,347.5 190.9,347.6 191.5,347.4 192.2,347.5 192.8,347.2 193.5,347.4" fill="none" stroke="#008000" stroke-width="1.8" stroke-linejoin="round" stroke-linecap="round"/>
<polyline points="193.5,347.4 194.2,347.4 194.8,347.3 195.5,347.1 196.1,347.1 196.8,347 197.4,346.8 198.1,346.8" fill="none" stroke="#008000" stroke-width="1.8" stroke-linejoin="round" stroke-linecap="round"/>
<polyline points="198.1,346.8 198.7,346.5 199.4,346.6 200.1,346.6 200.8,346.7 201.4,346.6 202.1,346.4 202.7,346.2" fill="none" stroke="#008000" stroke-width="1.7" stroke-linejoin="round" stroke-linecap="round"/>
<polyline points="202.7,346.2 203.4,346.2 204,345.8 204.6,345.6 205.3,346 206,346.1 206.7,345.9 207.3,345.5" fill="none" stroke="#008000" stroke-width="1.7" stroke-linejoin="round" stroke-linecap="round"/>
<polyline points="207.3,345.5 207.9,345.5 208.6,345.2 209.2,345.3 209.9,345.3 210.6,345.2 211.2,345.2 211.9,345.2" fill="none" stroke="#008000" stroke-width="1.6" stroke-linejoin="round" stroke-linecap="round"/>
<polyline points="211.9,345.2 212.6,345.3 213.2,345.4 213.9,345.3 214.6,345.3 215.2,345.3 215.9,345 216.5,344.8" fill="none" stroke="#008000" stroke-width="1.5" stroke-linejoin="round" stroke-linecap="round"/>
<polyline points="216.5,344.8 217.1,344.6 217.8,344.7 218.5,344.4 219.1,344.4 219.8,344.6 220.5,344.5 221.1,344.4" fill="none" stroke="#008000" stroke-width="1.4" stroke-linejoin="round" stroke-linecap="round"/>
<polyline points="221.1,344.4 221.6,343.8 222.1,343.2 222.1,342.5 222.3,341.9 222.6,341.3 222.8,340.7 223.1,340.1" fill="none" stroke="#008000" stroke-width="1.3" stroke-linejoin="round" stroke-linecap="round"/>
<polyline points="223.1,340.1 223.4,339.5 223.6,338.8 223.8,338.2 224,337.6 224.3,337 224.5,336.3 224.8,335.8" fill="none" stroke="#008000" stroke-width="1.3" stroke-linejoin="round" stroke-linecap="round"/>
<polyline points="224.8,335.8 224.9,335.1 225.3,334.5 225.4,333.8 225.5,333.2 225.6,332.5 225.9,331.9 226.7,331.8" fill="none" stroke="#008000" stroke-width="1.3" stroke-linejoin="round" stroke-linecap="round"/>
<polyline points="226.7,331.8 227.3,331.9 227.9,332.1 228.6,332.2 229.2,332.5 229.8,332.8 230.5,332.9 231.1,333.1" fill="none" stroke="#008000" stroke-width="1.3" stroke-linejoin="round" stroke-linecap="round"/>
<polyline points="231.1,333.1 231.7,333.2 232.4,333.3 233,333.6 233.5,334 234.1,334.4 234.7,334.6 235.3,335" fill="none" stroke="#008000" stroke-width="1.3" stroke-linejoin="round" stroke-linecap="round"/>
<polyline points="235.3,335 235.8,335.4 236.3,335.9 236.9,336.3 237.5,336.4 238.1,336.7 238.7,337.1 239.3,337.4" fill="none" stroke="#008000" stroke-width="1.3" stroke-linejoin="round" stroke-linecap="round"/>
<polyline points="239.3,337.4 239.8,337.8 240.3,338.3 240.9,338.6 241.5,338.9 242.1,339.2 242.6,339.6 243.3,339.8" fill="none" stroke="#008000" stroke-width="1.3" stroke-linejoin="round" stroke-linecap="round"/>
<polyline points="243.3,339.8 243.8,340.3 244.4,340.6 245.1,340.8 245.7,340.9 246.3,341.2 247,341.3 247.6,341.5" fill="none" stroke="#008000" stroke-width="1.3" stroke-linejoin="round" stroke-linecap="round"/>
<polyline points="247.6,341.5 248.3,341.7 248.9,342 249.5,342.3 250.1,342.6 250.7,342.8 251.3,343 252,343.3" fill="none" stroke="#008000" stroke-width="1.3" stroke-linejoin="round" stroke-linecap="round"/>
<polyline points="252,343.3 252.6,343.6 253.2,343.8 253.7,344.2 254.3,344.6 254.9,345 255.5,345.1 256.2,345.3" fill="none" stroke="#008000" stroke-width="1.3" stroke-linejoin="round" stroke-linecap="round"/>
<polyline points="256.2,345.3 256.8,345.6 257.4,345.9 257.8,346" fill="none" stroke="#008000" stroke-width="1.3" stroke-linejoin="round" stroke-linecap="round"/>
<polyline points="90.9,370.6 91.3,370.7 91.7,370.9 92.3,370.6 92.6,370.9 93.1,371 93.5,371.3 93.9,371.4 94.3,371.5 94.8,371.5 95.2,371.7 95.5,372.1 96.1,371.6 96.4,372.1 96.7,372.6 97.3,372.1 97.6,372.8 98,373 98.4,373.1 99.1,372.5 99.4,373 99.7,373.5 100.3,372.8 100.8,372.9 100.9,373.9 101.5,373.7 101.9,373.9 102.3,373.9 102.7,374.1 103.1,374.5 103.7,374.1 104,374.8 104.4,374.9 105,374.3 105.2,375.2 105.8,374.8 106.4,374.3 106.9,374.1 106.8,376.3 107.8,374 107.9,376 108.1,377.3 109.1,374 109.1,376.9 109.8,375.2 110.3,375.1 110.8,374.9 111.2,375.1 111.7,374.8 112,376.2 112.3,377.1 112.9,376.3 113.5,376.2 113.3,374.8 114.3,375.8 114.6,375.3 114.5,374 114.4,372.7 115.8,374.6 116,374 115.3,374.1 119.2,374.3 115.5,373.2 114.7,372.6 117.9,372.7 115.6,371.8 117,371.6 117.4,371.2 116.6,370.6 118.9,370.5 115.9,369.6 117.7,369.4 116.7,368.8 119.7,368.8 118,368.1 118.9,367.9 119.3,367.5 115.4,366.1 117.9,366.2 118.8,366 120.2,365.9 119.5,365.3 117.7,364.3 118.1,364 119.7,363.9 121.6,363.9 119.8,363 118.4,362.2 119.8,362.1 118.6,360.8 119.3,361 121.8,363 120.7,361.1 120.6,360.3 120.9,360 119.9,358.1 123.4,361.4 122.5,360 121.9,358 122.9,358.9 122.7,357.5 123.3,357.7 123.6,357.4 125.6,360.3 123.5,355.3 124.9,357 124.7,355.7 126.6,358.3 126.3,356.8 126.2,355.6 127.5,357.2 127.6,356.5 128.6,357.4 128.2,355.8 129.3,356.8 129.2,355.8 129.6,355.5 130,355.5 130.9,356.8 131.1,356.1 131.5,356 131.7,355 131.6,353.1 132.4,354.4 132.8,354.1 133.8,355.9 133.8,354.3 133.9,353.1 134.7,354.3 134.9,353.3 135.6,354 136.4,355.2 135.6,351.1 136.8,353.5 136.7,351.8 137.1,351.7 138.1,353.2 138.5,353.3 138.5,351.5 139.3,353.1 139.6,352 140.1,352.4 140.6,352.4 141,352.6 141.4,351.9 141.9,352.4 142.4,352.4 142.7,351.5 143.4,353.3 143.5,350.6 143.9,350.1 144.6,352.5 145.1,352.4 145.6,352.9 146,352.9 146.3,351.5 146.7,350.4 147.2,351.5 147.7,351.7 148,350.7 148.7,353.4 148.8,349.8 149.5,351.7 150,352.9 150.4,352.4 150.7,351.1 151.1,350.8 151.7,351.6 152,350.3 152.4,350.1 152.8,349.3 153.4,351.1 153.9,352 154.2,350.3 154.7,350.7 155.2,351.6 155.6,351.1 156,350.3 156.4,350.7 156.9,351.3 157.3,350.6 157.6,349.2 158.1,349.7 158.6,349.8 159,349.4 159.4,349.2 160,351 160.5,351.3 160.9,351.4 161.4,352 161.7,350.1 162,349.1 162.5,349.7 163,350.1 163.3,348.7 163.9,349.6 164.2,348.9 164.8,350.3 165.3,351.2 165.6,349.4 166,349.3 166.5,349.2 166.9,348.8 167.5,350.2 167.9,350.7 168.3,349.9 168.8,350.3 169.1,349.1 169.5,348.7 170.1,350 170.5,349.7 170.9,348.9 171.4,349.6 171.8,349 172.2,348.8 172.5,347.6 173.1,349 173.6,350.2 174,349 174.4,349.1 174.8,348.7 175.3,348.5 175.6,347.1 176.3,349.9 176.7,349.4 177,348.1 177.6,350.3 178,349.7 178.3,348.1 178.9,349.3 179.2,348.4 179.8,349.4 180.1,348.6 180.5,347.8 180.9,347.8 181.4,348.2 181.8,348 182.3,348.2 182.7,347.4 183.2,348.2 183.6,347.7 184,347.7 184.6,348.9 184.9,347.8 185.3,346.9 185.7,347.2 186.3,348.8 186.7,347.6 187.1,347.1 187.6,347.6 188,347.3 188.4,347.3 188.9,347.9 189.5,349.5 189.7,347.2 190.2,347.7 190.7,348.5 191,346.6 191.5,347.2 192.1,348.7 192.5,348.1 192.8,347 193.2,346.8 193.8,348.4 194.2,347.1 194.7,347.8 195,346.5 195.5,347.1 195.9,346.7 196.5,348.7 196.7,346.3 197.2,347 197.6,346.6 198.1,346.8 198.6,347.5 199,346.5 199.4,346.7 199.8,345.9 200.4,347.5 200.9,347.8 201.1,346.1 201.6,346.5 202.1,347.4 202.4,345.4 203.1,347.9 203.5,347.3 203.8,346.1 204.3,346.4 204.6,345.7 205.1,345.8 205.7,347.2 206.1,346.5 206.3,345.2 206.8,345.2 207.2,344.9 207.7,345.3 208.1,345.3 208.6,345.4 209.1,346.2 209.6,346.2 209.9,345.5 210.4,345.7 210.7,344.7 211.3,345.5 211.7,345.2 212,344.6 212.6,345.2 213,345.3 213.5,345.9 213.9,345.3 214.4,345.5 214.8,345 215.3,345.7 215.6,345 216.1,344.9 216.5,344.5 216.9,344.6 217.4,344.8 217.9,345 218.2,343.8 218.7,344.2 219.1,344.3 219.6,344.7 219.9,343.8 220.6,345.3 220.9,344.5 221.4,344.2 221.8,343.9 221.6,343.3 222,342.9 222.5,342.7 222,342 222.5,341.7 222.5,341.2 222.8,340.9 222.8,340.4 223.1,340 223.1,339.6 223.5,339.3 223.5,338.8 223.5,338.3 223.8,338 223.9,337.5 224.3,337.2 224.5,336.8 224.7,336.4 224.7,336 224.8,335.5 225.1,335.2 225.3,334.7 225.2,334.3 225.3,333.8 225.6,333.5 225.6,333 225.8,332.6 225.6,332 226.3,331.5 226.6,332.1 227.1,331.8 227.6,331.8 227.9,332.2 228.4,332.2 228.7,332.7 229.3,332.2 229.6,332.6 230,332.8 230.4,333 230.8,333.2 231.3,333.2 231.8,333.1 232.1,333.4 232.7,333.3 233,333.5 233.4,333.9 233.7,334.2 234.1,334.4 234.5,334.6 234.8,334.9 235.4,334.7 235.4,335.6 236,335.5 236.4,335.7 236.6,336.2 237.1,336.3 237.5,336.4 237.9,336.7 238.4,336.8 238.7,337 239.1,337.3 239.3,337.8 239.9,337.6 240.3,337.9 240.4,338.5 240.9,338.6 241.3,338.8 241.6,339.1 242,339.4 242.5,339.5 242.9,339.5 243.3,339.7 243.6,340.2 244,340.3 244.4,340.7 244.9,340.6 245.2,341 245.8,340.7 246.1,341.2 246.6,341.1 247,341.3 247.4,341.6 247.8,341.6 248.3,341.7 248.8,341.7 249.1,342 249.4,342.4 249.8,342.6 250.2,342.9 250.6,343 251.2,342.8 251.5,343.3 251.9,343.4 252.3,343.6 252.6,343.9 253.2,343.7 253.5,344.1 253.9,344.5 254.3,344.5 254.8,344.6 255.1,345 255.5,345.2 255.9,345.4 256.4,345.3 256.7,345.7 257.2,345.7 257.5,346.1" fill="none" stroke="#008000" stroke-width="0.8" stroke-linejoin="miter" stroke-miterlimit="2"/>
<polyline points="257.8,346.1 258,346.1" fill="none" stroke="#008000" stroke-width="1.25" stroke-linejoin="round" stroke-linecap="round"/>
<polyline points="33,353 52.3,351.3" fill="none" stroke="#ffa500" stroke-width="1.25" stroke-linejoin="round" stroke-linecap="round"/>
<polyline points="52.3,351.3 53,351.4 53.6,351.3 54.3,351.3 55,351.2 55.6,351.1 56.3,351.1 57,351.2" fill="none" stroke="#ffa500" stroke-width="1.3" stroke-linejoin="round" stroke-linecap="round"/>
<polyline points="57,351.2 57.6,351 58.3,351 59,350.9 59.6,350.9 60.3,350.8 61,350.8 61.6,350.8" fill="none" stroke="#ffa500" stroke-width="1.3" stroke-linejoin="round" stroke-linecap="round"/>
<polyline points="61.6,350.8 62.3,350.7 62.9,350.6 63.6,350.5 64.3,350.6 64.9,350.5 65.6,350.4 66.3,350.4" fill="none" stroke="#ffa500" stroke-width="1.3" stroke-linejoin="round" stroke-linecap="round"/>
<polyline points="66.3,350.4 66.9,350.5 67.6,350.4 68.3,350.4 68.9,350.4 69.6,350.1 70.3,350.1 70.9,350.2" fill="none" stroke="#ffa500" stroke-width="1.3" stroke-linejoin="round" stroke-linecap="round"/>
<polyline points="70.9,350.2 71.6,350.3 72.3,350.2 72.9,350.2 73.6,350 74.3,350.1 74.9,350 75.6,350.1" fill="none" stroke="#ffa500" stroke-width="1.3" stroke-linejoin="round" stroke-linecap="round"/>
<polyline points="75.6,350.1 76.2,350 76.9,350.1 77.6,350.1 78.2,350 78.9,350 79.6,350 80.2,349.9" fill="none" stroke="#ffa500" stroke-width="1.3" stroke-linejoin="round" stroke-linecap="round"/>
<polyline points="80.2,349.9 80.9,350 81.6,349.9 82.2,349.9 82.9,350 83.6,349.9 84.2,349.9 84.9,349.7" fill="none" stroke="#ffa500" stroke-width="1.3" stroke-linejoin="round" stroke-linecap="round"/>
<polyline points="84.9,349.7 85.5,349.8 86.2,349.8 86.9,349.8 87.5,349.8 88.2,349.8 88.9,349.9 89.5,349.8" fill="none" stroke="#ffa500" stroke-width="1.3" stroke-linejoin="round" stroke-linecap="round"/>
<polyline points="89.5,349.8 90.2,349.7 90.9,349.8 91.5,349.7 92.2,349.7 92.9,349.7 93.5,349.7 94.2,349.7" fill="none" stroke="#ffa500" stroke-width="1.3" stroke-linejoin="round" stroke-linecap="round"/>
<polyline points="94.2,349.7 94.9,349.8 95.5,349.8 96.2,349.9 96.8,349.7 97.5,349.6 98.2,349.7 98.8,349.5" fill="none" stroke="#ffa500" stroke-width="1.3" stroke-linejoin="round" stroke-linecap="round"/>
<polyline points="98.8,349.5 99.5,349.5 100.2,349.5 100.8,349.5 101.5,349.5 102.2,349.3 102.8,349.7 103.4,349.7" fill="none" stroke="#ffa500" stroke-width="1.3" stroke-linejoin="round" stroke-linecap="round"/>
<polyline points="103.4,349.7 104.1,349.7 104.8,349.9 105.4,349.8 106.1,349.9 106.8,349.9 107.4,350 108.1,349.9" fill="none" stroke="#ffa500" stroke-width="1.3" stroke-linejoin="round" stroke-linecap="round"/>
<polyline points="108.1,349.9 108.7,350 109.4,350.2 110,350.2 110.7,350.4 111.3,350.5 112,350.5 112.7,350.2" fill="none" stroke="#ffa500" stroke-width="1.3" stroke-linejoin="round" stroke-linecap="round"/>
<polyline points="112.7,350.2 113.3,350.5 113.9,350.6 114.6,350.8 115.3,351 116,351 116.6,351.3 117.1,351.8" fill="none" stroke="#ffa500" stroke-width="1.3" stroke-linejoin="round" stroke-linecap="round"/>
<polyline points="117.1,351.8 117.8,351.9 118.4,352.3 119,352.4 119.6,352.8 120.4,352.8 121,353 121.6,353.3" fill="none" stroke="#ffa500" stroke-width="1.3" stroke-linejoin="round" stroke-linecap="round"/>
<polyline points="121.6,353.3 122.3,353.3 122.9,353.3 123.6,353.5 124.3,353.6 124.9,353.6 125.6,353.6 126.3,353.8" fill="none" stroke="#ffa500" stroke-width="1.3" stroke-linejoin="round" stroke-linecap="round"/>
<polyline points="126.3,353.8 126.9,354 127.6,354.2 128.3,354.1 128.9,354.1 129.6,354 130.3,353.8 130.9,354.3" fill="none" stroke="#ffa500" stroke-width="1.3" stroke-linejoin="round" stroke-linecap="round"/>
<polyline points="130.9,354.3 131.6,354.3 132.3,354.3 133,354.3 133.6,354.4 134.3,354.5 135,354.4 135.6,354.4" fill="none" stroke="#ffa500" stroke-width="1.3" stroke-linejoin="round" stroke-linecap="round"/>
<polyline points="135.6,354.4 136.3,354.5 137,354.5 137.6,354.3 138.3,354.7 139,354.7 139.6,354.8 140.3,354.8" fill="none" stroke="#ffa500" stroke-width="1.3" stroke-linejoin="round" stroke-linecap="round"/>
<polyline points="140.3,354.8 141,354.8 141.6,354.8 142.3,354.7 143,354.7 143.7,354.7 144.3,354.6 145,354.7" fill="none" stroke="#ffa500" stroke-width="1.3" stroke-linejoin="round" stroke-linecap="round"/>
<polyline points="145,354.7 145.7,354.7 146.3,354.8 147,354.9 147.7,355.1 148.3,355 149,354.9 149.7,354.9" fill="none" stroke="#ffa500" stroke-width="1.3" stroke-linejoin="round" stroke-linecap="round"/>
<polyline points="149.7,354.9 150.3,354.9 151,354.9 151.7,354.7 152.3,354.7 153,354.8 153.7,354.8 154.3,354.6" fill="none" stroke="#ffa500" stroke-width="1.3" stroke-linejoin="round" stroke-linecap="round"/>
<polyline points="154.3,354.6 155,354.9 155.7,354.9 156.3,354.7 157,354.7 157.6,354.7 158.3,354.7 159,354.8" fill="none" stroke="#ffa500" stroke-width="1.3" stroke-linejoin="round" stroke-linecap="round"/>
<polyline points="159,354.8 159.6,354.5 160.3,354.5 161,354.3 161.6,354.3 162.3,354.5 163,354.5 163.6,354.5" fill="none" stroke="#ffa500" stroke-width="1.3" stroke-linejoin="round" stroke-linecap="round"/>
<polyline points="163.6,354.5 164.3,354.6 165,354.3 165.6,354.5 166.3,354.6 167,354.5 167.6,354.5 168.3,354.5" fill="none" stroke="#ffa500" stroke-width="1.3" stroke-linejoin="round" stroke-linecap="round"/>
<polyline points="168.3,354.5 169,354.5 169.6,354.4 170.3,354.2 171,354.2 171.6,354.3 172.3,354.3 173,354.2" fill="none" stroke="#ffa500" stroke-width="1.3" stroke-linejoin="round" stroke-linecap="round"/>
<polyline points="173,354.2 173.6,354.3 174.3,354.2 175,354.2 175.6,354.3 176.3,354.3 177,354.5 177.6,354.3" fill="none" stroke="#ffa500" stroke-width="1.3" stroke-linejoin="round" stroke-linecap="round"/>
<polyline points="177.6,354.3 178.3,354 178.9,354 179.6,354.1 180.3,354.2 180.9,354.2 181.6,354.1 182.3,354.2" fill="none" stroke="#ffa500" stroke-width="1.3" stroke-linejoin="round" stroke-linecap="round"/>
<polyline points="182.3,354.2 182.9,354.1 183.6,354 184.3,353.9 184.9,354.2 185.6,354.2 186.3,354.1 186.9,354" fill="none" stroke="#ffa500" stroke-width="1.3" stroke-linejoin="round" stroke-linecap="round"/>
<polyline points="186.9,354 187.6,353.9 188.3,354 188.9,354.1 189.6,354 190.3,354 190.9,353.9 191.6,353.7" fill="none" stroke="#ffa500" stroke-width="1.3" stroke-linejoin="round" stroke-linecap="round"/>
<polyline points="191.6,353.7 192.3,353.7 192.9,353.8 193.6,353.9 194.3,354 194.9,353.6 195.6,353.6 196.2,353.6" fill="none" stroke="#ffa500" stroke-width="1.3" stroke-linejoin="round" stroke-linecap="round"/>
<polyline points="196.2,353.6 196.9,353.6 197.6,353.6 198.2,353.5 198.9,353.6 199.6,353.5 200.2,353.6 200.9,353.5" fill="none" stroke="#ffa500" stroke-width="1.3" stroke-linejoin="round" stroke-linecap="round"/>
<polyline points="200.9,353.5 201.6,353.5 202.2,353.6 202.9,353.4 203.6,353.7 204.2,353.5 204.9,353.4 205.6,353.4" fill="none" stroke="#ffa500" stroke-width="1.3" stroke-linejoin="round" stroke-linecap="round"/>
<polyline points="205.6,353.4 206.2,353.4 206.9,353.2 207.6,353.2 208.2,353.3 208.9,353.1 209.6,353.3 210.2,353.4" fill="none" stroke="#ffa500" stroke-width="1.3" stroke-linejoin="round" stroke-linecap="round"/>
<polyline points="210.2,353.4 210.9,353.3 211.5,353.3 212.2,353.3 212.9,353.3 213.5,353.2 214.2,353.4 214.9,353.5" fill="none" stroke="#ffa500" stroke-width="1.3" stroke-linejoin="round" stroke-linecap="round"/>
<polyline points="214.9,353.5 215.5,353.5 216.2,353.3 216.9,353.2 217.5,353.1 218.2,353.1 218.9,353 219.5,353" fill="none" stroke="#ffa500" stroke-width="1.3" stroke-linejoin="round" stroke-linecap="round"/>
<polyline points="219.5,353 220.2,353 220.9,353 221.3,352.8 221.5,352.1 221.7,351.5 221.8,350.8 222,350.2" fill="none" stroke="#ffa500" stroke-width="1.3" stroke-linejoin="round" stroke-linecap="round"/>
<polyline points="222,350.2 222.2,349.6 222.3,348.9 222.5,348.2 222.7,347.6 222.9,347 223.1,346.3 223.2,345.9" fill="none" stroke="#ffa500" stroke-width="1.3" stroke-linejoin="round" stroke-linecap="round"/>
<polyline points="52.3,351.4 52.7,351.4 53.2,351.4 53.6,351.3 54.1,351.4 54.5,351.2 55,351.2 55.4,351 55.8,351.1 56.3,351 56.8,351.3 57.2,351.3 57.6,351 58.1,350.8 58.5,351.1 59,350.8 59.4,350.7 59.8,350.8 60.3,350.7 60.7,350.9 61.2,350.5 61.6,350.9 62.1,350.6 62.5,350.7 63,350.8 63.4,350.7 63.8,350.3 64.3,350.9 64.7,350.5 65.1,350.3 65.6,350.2 66,350.1 66.5,350.7 66.9,350.4 67.4,350.4 67.8,350.3 68.3,350.6 68.7,350.5 69.2,350.3 69.6,350 70,350.3 70.5,350.2 70.9,350.1 71.4,350.2 71.8,350.2 72.3,350.2 72.7,350.2 73.1,349.9 73.6,349.9 74,350.1 74.5,349.9 74.9,350.2 75.4,350.3 75.8,350 76.2,349.8 76.7,350.3 77.1,350.2 77.6,350.1 78,350.4 78.5,349.7 78.9,350 79.3,349.7 79.8,350.1 80.2,349.7 80.7,350.1 81.1,349.6 81.6,349.7 82,350 82.5,350.1 82.9,349.8 83.3,349.9 83.8,350.1 84.2,350.2 84.7,350 85.1,349.8 85.5,349.7 86,349.8 86.4,349.8 86.9,349.7 87.3,349.9 87.8,350 88.2,349.9 88.7,349.9 89.1,349.4 89.5,349.6 90,349.8 90.4,349.4 90.9,350.1 91.3,349.5 91.7,349.6 92.2,349.5 92.6,349.7 93.1,350 93.5,349.7 94,349.7 94.4,349.7 94.8,349.5 95.3,349.9 95.7,350.1 96.2,349.6 96.6,349.7 97.1,349.8 97.5,349.7 98,349.9 98.4,350 98.8,349.6 99.3,349.4 99.7,349.3 100.2,349.6 100.6,349.5 101,349.6 101.5,349.4 101.9,349.3 102.3,349.7 102.8,350 103.2,349.7 103.7,349.7 104.1,349.5 104.5,349.8 105,349.8 105.4,349.6 105.9,349.9 106.3,349.6 106.7,349.9 107.2,349.5 107.6,349.8 108.1,350.2 108.5,350.1 109,349.9 109.4,350.3 109.9,349.8 110.3,350.3 110.7,350.2 111.1,350.3 111.6,350.6 112,350.2 112.5,350 113,349.8 113.4,350.3 113.8,350.2 114.3,350.3 114.6,350.9 115.1,350.7 115.5,350.9 116,350.9 116.4,351.2 116.9,351.2 117,352.2 117.6,351.8 118,352.1 118.4,352.1 118.8,352.5 119.2,352.7 119.5,353 120.1,352.8 120.5,353.1 120.9,353.2 121.4,353.1 121.8,353.5 122.3,353.3 122.7,353.3 123.1,353.5 123.6,353.4 124,353.9 124.5,353.6 124.9,353.7 125.4,353.5 125.8,353.8 126.3,353.6 126.7,354 127.1,354.2 127.6,353.9 128,354.5 128.5,354 128.9,354.1 129.4,354 129.9,353.7 130.3,354.1 130.7,354.1 131.2,354.3 131.6,354.5 132.1,354.2 132.5,354.7 133,354 133.4,354.2 133.8,354.5 134.3,354.7 134.7,354.5 135.2,354.4 135.6,354.4 136.1,354.2 136.5,354.3 137,354.5 137.4,354.7 137.9,354.1 138.3,354.6 138.8,354.5 139.2,354.9 139.6,355 140.1,354.8 140.5,354.6 141,354.5 141.4,354.5 141.9,354.9 142.3,354.3 142.8,354.6 143.2,354.4 143.7,354.5 144.1,354.7 144.6,354.1 145,354.9 145.5,354.3 145.9,354.9 146.4,354.4 146.8,354.7 147.2,355 147.7,355.2 148.1,354.8 148.5,354.6 149,355 149.4,354.6 149.9,354.9 150.3,355 150.8,355.1 151.2,354.8 151.7,354.8 152.1,354.4 152.5,354.4 153,354.6 153.4,354.6 153.9,354.7 154.3,354.5 154.8,354.8 155.2,354.9 155.7,355 156.1,355 156.5,354.6 157,354.8 157.4,355 157.9,355 158.3,354.7 158.8,354.8 159.2,354.7 159.6,354.4 160.1,354.1 160.5,354.7 161,354.2 161.4,354.4 161.9,354.5 162.3,354.8 162.7,354.3 163.2,354.2 163.6,354.4 164.1,354.4 164.5,354.4 165,354.5 165.4,354.6 165.9,354.7 166.3,354.2 166.7,354.2 167.2,354.4 167.6,354.4 168.1,354.7 168.5,354.3 169,354.2 169.4,354.6 169.8,354.1 170.3,354.3 170.7,354.1 171.2,354 171.6,354.1 172.1,354.1 172.5,353.9 173,354.2 173.4,354.3 173.8,354.4 174.3,354.2 174.7,354.1 175.2,354.3 175.6,354.5 176.1,354.5 176.5,354.7 177,354.5 177.4,354.3 177.8,354.4 178.3,354.1 178.7,354 179.2,354.2 179.6,353.8 180.1,354 180.5,354.1 180.9,354.4 181.4,354.2 181.8,353.9 182.3,353.8 182.7,353.9 183.2,354 183.6,353.9 184,353.9 184.5,354.1 184.9,353.7 185.4,354 185.8,353.9 186.3,354 186.7,354.1 187.1,353.7 187.6,354.2 188,353.9 188.5,353.9 188.9,354.3 189.4,353.8 189.8,353.7 190.3,354 190.7,354 191.1,353.7 191.6,353.9 192,353.4 192.5,353.8 192.9,353.8 193.4,354 193.8,353.9 194.2,353.6 194.7,353.8 195.1,353.3 195.6,353.4 196,353.8 196.5,353.6 196.9,353.5 197.4,353.4 197.8,353.9 198.2,353.6 198.7,353.4 199.1,353.7 199.6,353.6 200,353.8 200.5,353.6 200.9,353.8 201.3,353.4 201.8,353.4 202.2,353.3 202.7,353.4 203.1,353.7 203.6,353.7 204,353.7 204.5,353.6 204.9,353.7 205.3,353.4 205.8,353.4 206.2,353.5 206.7,353.2 207.1,353.4 207.6,353.5 208,353.4 208.4,353 208.9,353.1 209.3,353.1 209.8,353.5 210.2,353.3 210.7,353 211.1,353.1 211.5,353.2 212,353.4 212.4,353.2 212.9,353.1 213.3,353.2 213.8,353.6 214.2,353.2 214.7,353.2 215.1,353.1 215.5,353.3 216,353.4 216.4,353.2 216.9,353.1 217.3,353 217.8,353 218.2,353 218.6,353 219.1,353.1 219.5,352.9 220,353 220.4,353 220.9,353.1 221.3,353 221.5,352.6 221.4,352.1 221.7,351.7 221.8,351.3 221.8,350.8 222,350.4 222.1,350 222.2,349.6 222.4,349.1 222.3,348.7 222.3,348.2 222.6,347.8 222.8,347.4 222.9,347 222.9,346.5 223.2,346.1" fill="none" stroke="#ffa500" stroke-width="0.8" stroke-linejoin="miter" stroke-miterlimit="2"/>
<polyline points="223.2,345.9 223.3,345.7 226.2,343.8 243.5,343.2 258,342.6" fill="none" stroke="#ffa500" stroke-width="1.25" stroke-linejoin="round" stroke-linecap="round"/>
<polyline points="32.9,332.6 33.4,332.1 34,331.9 34.7,331.8 35.5,331.8 36.1,331.5 36.6,331.1 37.2,330.7" fill="none" stroke="#0000ff" stroke-width="3.1" stroke-linejoin="round" stroke-linecap="round"/>
<polyline points="37.2,330.7 37.8,330.4 38.5,330.4 38.9,329.7 39.6,329.6 40.2,329.2 40.9,329.2 41.4,328.5" fill="none" stroke="#0000ff" stroke-width="3.0" stroke-linejoin="round" stroke-linecap="round"/>
<polyline points="41.4,328.5 41.9,328.2 42.5,327.9 43.2,327.7 43.6,327.1 44.2,326.7 45,326.8 45.4,326.2" fill="none" stroke="#0000ff" stroke-width="2.9" stroke-linejoin="round" stroke-linecap="round"/>
<polyline points="45.4,326.2 46,325.9 46.7,325.8 47.3,325.5 48,325.4 48.5,325.1 49.1,324.7 49.7,324.4" fill="none" stroke="#0000ff" stroke-width="2.9" stroke-linejoin="round" stroke-linecap="round"/>
<polyline points="49.7,324.4 50.2,324 50.8,323.6 51.6,323.7 52.2,323.5 52.6,322.8 53,322.3 53.4,321.6" fill="none" stroke="#0000ff" stroke-width="2.8" stroke-linejoin="round" stroke-linecap="round"/>
<polyline points="53.4,321.6 54.1,321.5 54.6,321 55.1,320.6 55.7,320.4 56.1,319.7 56.7,319.4 57.2,319" fill="none" stroke="#0000ff" stroke-width="2.8" stroke-linejoin="round" stroke-linecap="round"/>
<polyline points="57.2,319 58.1,319 58.4,318.4 58.9,317.9 59.1,317.2 59.8,316.9 60.2,316.4 60.9,316.2" fill="none" stroke="#0000ff" stroke-width="2.8" stroke-linejoin="round" stroke-linecap="round"/>
<polyline points="60.9,316.2 61.4,315.7 61.8,315.2 62.6,315.1 63.1,314.7 63.4,314.1 63.9,313.6 64.6,313.4" fill="none" stroke="#0000ff" stroke-width="2.8" stroke-linejoin="round" stroke-linecap="round"/>
<polyline points="64.6,313.4 64.9,312.7 65.4,312.3 65.8,311.8 66.3,311.3 66.6,310.7 67.3,310.4 67.7,309.9" fill="none" stroke="#0000ff" stroke-width="2.8" stroke-linejoin="round" stroke-linecap="round"/>
<polyline points="67.7,309.9 68.4,309.7 69,309.4 69.3,308.8 70,308.5 69.9,307.6 70.3,307 70.6,306.4" fill="none" stroke="#0000ff" stroke-width="2.8" stroke-linejoin="round" stroke-linecap="round"/>
<polyline points="70.6,306.4 71.3,306.2 71.7,305.6 72.3,305.2 72.9,304.8 73.3,304.3 73.7,303.8 74.1,303.2" fill="none" stroke="#0000ff" stroke-width="2.8" stroke-linejoin="round" stroke-linecap="round"/>
<polyline points="74.1,303.2 74.6,302.8 75.1,302.3 75.2,301.6 75.5,300.9 76,300.5 76.7,300.1 77,299.6" fill="none" stroke="#0000ff" stroke-width="2.8" stroke-linejoin="round" stroke-linecap="round"/>
<polyline points="77,299.6 77.4,299 78.2,298.8 78.1,297.9 78.8,297.6 78.9,296.9 79.5,296.5 79.8,295.8" fill="none" stroke="#0000ff" stroke-width="2.8" stroke-linejoin="round" stroke-linecap="round"/>
<polyline points="79.8,295.8 80.3,295.4 80.7,294.9 81.1,294.3 81.3,293.6 81.6,293.1 82.4,292.8 82.4,292" fill="none" stroke="#0000ff" stroke-width="2.8" stroke-linejoin="round" stroke-linecap="round"/>
<polyline points="82.4,292 82.9,291.6 83.5,291.2 84.2,290.9 84.5,290.3 84.6,289.5 85.1,289.1 85.3,288.4" fill="none" stroke="#0000ff" stroke-width="2.8" stroke-linejoin="round" stroke-linecap="round"/>
<polyline points="85.3,288.4 85.6,287.8 85.5,286.9 86.3,286.7 86.3,285.9 86.3,285.1 87,284.8 87.8,284.4" fill="none" stroke="#0000ff" stroke-width="2.8" stroke-linejoin="round" stroke-linecap="round"/>
<polyline points="87.8,284.4 88,283.8 88.8,283.5 88.6,282.6 88.9,282 89.5,281.6 90,281.1 90.4,280.6" fill="none" stroke="#0000ff" stroke-width="2.8" stroke-linejoin="round" stroke-linecap="round"/>
<polyline points="90.4,280.6 90.9,280.1 91.4,279.6 91.7,279.1 91.9,278.4 91.6,277.4 92.5,277.1 92.7,276.5" fill="none" stroke="#0000ff" stroke-width="2.8" stroke-linejoin="round" stroke-linecap="round"/>
<polyline points="92.7,276.5 93.1,276 93.7,275.6 94,275 94.3,274.3 94.4,273.6 94.9,273.1 95.3,272.6" fill="none" stroke="#0000ff" stroke-width="2.8" stroke-linejoin="round" stroke-linecap="round"/>
<polyline points="95.3,272.6 96,272.3 96.4,271.7 96.8,271.2 97.1,270.6 97.5,270.1 97.6,269.3 97.9,268.8" fill="none" stroke="#0000ff" stroke-width="2.9" stroke-linejoin="round" stroke-linecap="round"/>
<polyline points="97.9,268.8 98,268 98,267.2 98.2,266.6 98.8,266.2 99.1,265.6 99.5,265 99.7,264.3" fill="none" stroke="#0000ff" stroke-width="2.9" stroke-linejoin="round" stroke-linecap="round"/>
<polyline points="99.7,264.3 100.3,263.9 100.8,263.5 101.1,262.9 101.4,262.2 101.9,261.8 102.4,261.3 102.9,260.8" fill="none" stroke="#0000ff" stroke-width="3.0" stroke-linejoin="round" stroke-linecap="round"/>
<polyline points="102.9,260.8 103.2,260.2 103.5,259.6 104,259.1 104.6,258.7 104.9,258.1 104.7,257.2 104.7,256.4" fill="none" stroke="#0000ff" stroke-width="3.1" stroke-linejoin="round" stroke-linecap="round"/>
<polyline points="104.7,256.4 104.9,255.7 105,255 105.8,254.7 106.3,254.2 106.7,253.7 107.3,253.3 107.3,252.5" fill="none" stroke="#0000ff" stroke-width="3.2" stroke-linejoin="round" stroke-linecap="round"/>
<polyline points="107.3,252.5 107.4,251.8 107.7,251.2 108.5,250.9 108.9,250.4 109.6,250 110.4,249.7 110.4,248.9" fill="none" stroke="#0000ff" stroke-width="3.4" stroke-linejoin="round" stroke-linecap="round"/>
<polyline points="110.4,248.9 110.7,248.3 110.6,247.5 111,247 111.3,246.4 111.4,245.6 112.4,245.6 112.2,244.6" fill="none" stroke="#0000ff" stroke-width="4.0" stroke-linejoin="round" stroke-linecap="round"/>
<polyline points="112.2,244.6 112.6,244 112.9,243.4 114.2,243.5 114.3,242.7 114.7,242.2 114.6,241.9 114.7,242.6" fill="none" stroke="#0000ff" stroke-width="4.5" stroke-linejoin="round" stroke-linecap="round"/>
<polyline points="114.7,242.6 115.2,243.1 115.1,243.9 116.1,244.2 116.7,244.7 116.6,245.4 116,246.4 116.7,246.9" fill="none" stroke="#0000ff" stroke-width="4.5" stroke-linejoin="round" stroke-linecap="round"/>
<polyline points="116.7,246.9 117.2,247.4 117.1,248.2 118.7,248.3 119.1,248.9 118.1,250 118.5,250.5 118.3,251.3" fill="none" stroke="#0000ff" stroke-width="4.5" stroke-linejoin="round" stroke-linecap="round"/>
<polyline points="118.3,251.3 118.4,252 119.5,252.9 119.3,251.7 119.2,250.7 120.3,250.9 121.1,250.8 121.6,250.2" fill="none" stroke="#0000ff" stroke-width="4.5" stroke-linejoin="round" stroke-linecap="round"/>
<polyline points="121.6,250.2 122.1,249.8 122.7,249.7 123.4,249.7 123.9,249.2 124.5,248.8 125.1,248.6 125.6,248.1" fill="none" stroke="#0000ff" stroke-width="4.5" stroke-linejoin="round" stroke-linecap="round"/>
<polyline points="125.6,248.1 126.5,248.5 127,247.8 127.4,247 128,246.7 128.4,246.1 129.1,245.9 129.8,245.6" fill="none" stroke="#0000ff" stroke-width="4.5" stroke-linejoin="round" stroke-linecap="round"/>
<polyline points="129.8,245.6 130.6,245.9 131.3,246.2 132,246.3 132.7,246.9 133.4,247 134,246.4 134.6,245.8" fill="none" stroke="#0000ff" stroke-width="4.5" stroke-linejoin="round" stroke-linecap="round"/>
<polyline points="134.6,245.8 135.3,245.8 135.8,244.9 136.5,244.8 137.2,244.8 137.9,245 138.5,244.6 139.2,244.7" fill="none" stroke="#0000ff" stroke-width="4.5" stroke-linejoin="round" stroke-linecap="round"/>
<polyline points="139.2,244.7 139.9,244.4 140.5,244.8 141.2,245.1 141.9,245.1 142.5,245.1 143.2,245.3 143.9,244.9" fill="none" stroke="#0000ff" stroke-width="4.5" stroke-linejoin="round" stroke-linecap="round"/>
<polyline points="143.9,244.9 144.5,245.7 145.2,246.1 145.9,246.1 146.5,245.3 147.3,245.5 147.9,244.9 148.6,245" fill="none" stroke="#0000ff" stroke-width="4.5" stroke-linejoin="round" stroke-linecap="round"/>
<polyline points="148.6,245 149.2,244.7 149.9,245.2 150.6,244.8 151.2,244.2 151.9,244.5 152.6,244.7 153.2,244.5" fill="none" stroke="#0000ff" stroke-width="4.4" stroke-linejoin="round" stroke-linecap="round"/>
<polyline points="153.2,244.5 153.9,244.4 154.5,244.3 155.2,244.1 155.8,243.9 156.5,244.2 157.2,244.5 157.9,244.5" fill="none" stroke="#0000ff" stroke-width="4.3" stroke-linejoin="round" stroke-linecap="round"/>
<polyline points="157.9,244.5 158.6,244.8 159.2,244.3 159.8,243.6 160.5,243.8 161.2,244 161.9,244.2 162.6,244.6" fill="none" stroke="#0000ff" stroke-width="4.2" stroke-linejoin="round" stroke-linecap="round"/>
<polyline points="162.6,244.6 163.2,244.7 163.9,244.1 164.5,243.7 165.2,243.3 165.8,243.3 166.5,243.5 167.2,243.4" fill="none" stroke="#0000ff" stroke-width="4.2" stroke-linejoin="round" stroke-linecap="round"/>
<polyline points="167.2,243.4 167.8,243.1 168.5,243.4 169.2,244.1 169.9,244.2 170.5,243.6 171.2,243.5 171.8,243.6" fill="none" stroke="#0000ff" stroke-width="4.1" stroke-linejoin="round" stroke-linecap="round"/>
<polyline points="171.8,243.6 172.5,243.6 173.2,242.9 173.8,243.4 174.5,243.4 175.2,243.8 175.8,243 176.5,242.9" fill="none" stroke="#0000ff" stroke-width="4.1" stroke-linejoin="round" stroke-linecap="round"/>
<polyline points="176.5,242.9 177.2,243.3 177.8,243.9 178.5,243.7 179.2,243.7 179.8,243.3 180.5,243.5 181.2,242.7" fill="none" stroke="#0000ff" stroke-width="4.1" stroke-linejoin="round" stroke-linecap="round"/>
<polyline points="181.2,242.7 181.8,243.1 182.5,243 183.2,243.9 183.8,243.9 184.5,244.5 185.2,244 185.8,243.9" fill="none" stroke="#0000ff" stroke-width="4.1" stroke-linejoin="round" stroke-linecap="round"/>
<polyline points="185.8,243.9 186.5,243.1 187.1,243.2 187.8,243 188.4,242.9 189.2,243.5 189.8,243.4 190.5,244" fill="none" stroke="#0000ff" stroke-width="4.1" stroke-linejoin="round" stroke-linecap="round"/>
<polyline points="190.5,244 191.2,243.5 191.8,243.5 192.5,243.6 193.2,243.6 193.8,243.3 194.5,243.2 195.2,243.4" fill="none" stroke="#0000ff" stroke-width="4.1" stroke-linejoin="round" stroke-linecap="round"/>
<polyline points="195.2,243.4 195.8,243.1 196.5,242.7 197.1,243.1 197.8,243.6 198.5,243.2 199.2,243.8 199.9,243.8" fill="none" stroke="#0000ff" stroke-width="4.1" stroke-linejoin="round" stroke-linecap="round"/>
<polyline points="199.9,243.8 200.5,243.7 201.2,243.3 201.8,242.7 202.4,242.1 203.1,242.7 203.8,243.2 204.5,243" fill="none" stroke="#0000ff" stroke-width="4.1" stroke-linejoin="round" stroke-linecap="round"/>
<polyline points="204.5,243 205.2,242.9 205.8,242.4 206.5,242.9 207.1,242.3 207.7,241.8 208.4,241.5 209.1,241.7" fill="none" stroke="#0000ff" stroke-width="4.1" stroke-linejoin="round" stroke-linecap="round"/>
<polyline points="209.1,241.7 209.8,242.2 210.4,242.4 211.1,242.6 211.7,241.9 212.4,242.4 213.1,242.2 213.7,242.4" fill="none" stroke="#0000ff" stroke-width="4.1" stroke-linejoin="round" stroke-linecap="round"/>
<polyline points="213.7,242.4 214.4,242.7 215.1,242.5 215.7,241.6 216.3,241.6 217,241.2 217.6,241.1 218.3,241.7" fill="none" stroke="#0000ff" stroke-width="4.1" stroke-linejoin="round" stroke-linecap="round"/>
<polyline points="218.3,241.7 219,241.2 219.7,241.5 220.3,241.7 221,241.5 221.6,241.2 222.3,241.4 222,240.6" fill="none" stroke="#0000ff" stroke-width="4.1" stroke-linejoin="round" stroke-linecap="round"/>
<polyline points="222,240.6 222.4,240 222.5,239.4 222.4,238.6 222.8,238 223,237.4 223.5,237.2 223.6,237.9" fill="none" stroke="#0000ff" stroke-width="3.7" stroke-linejoin="round" stroke-linecap="round"/>
<polyline points="223.6,237.9 223.7,238.5 223.7,239.2 223.9,239.8 223.9,240.5 224,241.2 224.1,241.8 224.1,242.5" fill="none" stroke="#0000ff" stroke-width="1.6" stroke-linejoin="round" stroke-linecap="round"/>
<polyline points="224.1,242.5 224.2,243.2" fill="none" stroke="#0000ff" stroke-width="1.6" stroke-linejoin="round" stroke-linecap="round"/>
<polyline points="32.7,332.2 34.7,335.2 34,332.9 34,331.9 36,334.9 35.9,333.6 34.8,330.4 37,333.8 36.6,332 37.3,332.4 37.3,331.5 36.8,329.4 36.3,327.3 37.4,328.6 39.1,331 39.7,331.1 39.3,329.5 40.5,330.7 39.7,328.1 41.1,329.9 41.7,330.3 41.5,328.8 41.5,327.9 41.9,327.6 43.4,329.7 43.6,329.1 43.7,328.4 43.3,326.6 43.6,326.2 43.5,324.9 45.1,327.1 44.4,324.7 46.6,328.2 46.3,326.6 47.1,327.1 47,326 47.3,325.5 48.5,326.9 48.2,325.4 47.8,323.8 48.9,324.8 49.1,324.3 49.2,323.6 49,322.5 50.3,323.7 51.3,324.5 51.1,323.3 50.5,321.4 52.9,324.6 51.8,322 52.1,321.5 53.1,322.4 53.1,321.6 54.3,322.6 53.7,320.8 54.5,321.3 54,319.5 54.6,320.1 56,321.1 55,319.1 54.1,317.3 56.9,320.1 57.5,320.1 56.9,318.6 57.8,319.1 59.8,320.8 58.6,318.6 58.5,317.8 60.6,319.7 57.6,315.3 60.9,318.7 58.7,315.2 61,317.4 62.6,318.6 61.9,317.1 62.3,316.9 61.8,315.6 61.9,315 62.8,315.3 64.1,316.1 64.4,315.8 63.2,313.8 63.8,313.8 63.7,313 64.3,313 65.8,314.1 63,310.3 65,311.9 66.1,312.5 66.5,312.2 67.2,312.3 66.1,310.5 65.3,308.8 66.7,309.8 67,309.5 68.6,310.5 67.3,308.4 68.4,309 71.3,311.7 69.2,308.6 69.1,307.8 68.8,307.3 69.9,307.6 68.7,306.1 73.2,309 69.9,305.9 72.1,307 70.6,305.3 70,304.3 72.7,305.8 71.9,304.6 72.1,304.2 72.4,303.9 71.4,302.5 74.7,304.6 73.3,302.9 75.7,304.2 73.7,302.1 74.2,301.9 73.1,300.5 77.9,303.6 76.3,301.9 76,301 76,300.5 78.2,301.6 77.7,300.6 77.1,299.6 76.5,298.6 76.8,298.2 79.2,299.5 79.4,299.2 78.7,298 77.6,296.7 78.1,296.5 80.4,297.7 81.6,298 78.8,295.4 81.5,296.9 79.6,294.9 82.5,296.5 81.4,295.1 81.8,294.9 83.8,295.8 79.1,291.7 82.4,293.7 81.3,292.3 82.9,293 83.4,292.8 84.3,292.9 82.7,291.1 84.5,291.9 83,290.3 84.2,290.6 83,289.1 84.3,289.6 85.9,290.3 84.1,288.4 84.1,287.9 84.8,287.8 85,287.5 83.7,286.1 87.7,288.1 87.1,287.1 86.7,286.4 87.3,286.2 85.9,284.8 85.3,283.9 86.3,284 88.7,285 87.9,284 88.7,284 89,283.7 86.3,281.4 89.2,282.7 87.9,281.4 88.7,281.3 88.8,280.9 91.1,281.8 90,280.6 91.9,281.2 90.9,280.1 92,280.3 91.6,279.5 90.8,278.4 92.3,278.9 89.6,276.7 89.7,276.2 91.7,276.9 92.6,276.9 91,275.4 92.2,275.7 95.9,277.5 94.3,275.9 93.8,275.1 97.3,276.7 97.3,276.2 96.6,275.2 93.5,272.8 94.8,273.1 94.6,272.4 95.6,272.5 96.1,272.3 97.8,272.9 95.1,270.7 99.3,272.7 95.6,269.9 95.1,269.1 98.4,270.6 98.8,270.3 97.8,269.2 96,267.6 97.1,267.7 99.7,268.8 99.8,268.3 97.5,266.4 97.1,265.6 98,265.6 100.3,266.5 101.2,266.6 99.1,264.7 97.8,263.4 100.6,264.6 100.2,263.9 101.4,264.1 99.1,262.1 102.3,263.6 100.1,261.7 100.1,261.1 102.7,262.2 105.6,263.6 100.4,259.8 99.4,258.6 103.2,260.5 105.5,261.4 103.1,259.4 103,258.7 104.5,259.2 105.3,259.2 104.3,258 103,256.7 103.5,256.4 105.8,257.4 103.9,255.6 105,255.8 103.8,254.5 105,254.8 106.6,255.2 107,254.9 105.9,253.7 104.3,252.2 109.2,254.8 105.6,252.1 107.9,252.9 107,251.9 107.3,251.5 104.8,249.6 107.5,250.6 106.5,249.5 110.4,251.2 107.2,248.9 107.7,248.7 111.3,250.2 113.3,250.8 109.2,248 110.2,248.1 113.6,249.5 115.3,250 109.2,246 113.2,247.7 117,249.4 109.2,244.1 113.8,246.8 117.7,249.1 112.5,244.8 116.5,247.1 115,245.5 112.8,243.3 117.2,246 110,240.1 111.7,240.8 114.5,242.3 117.7,244 110.8,243.5 116.9,241.4 111.7,244.1 111.6,244.6 115.2,243.6 118.5,242.7 116.9,243.9 121.9,242.2 114,246.1 124.1,242.2 121.7,243.8 117.8,245.9 117.1,246.7 115.3,247.9 119.5,246.8 111,250.5 126,245.3 122.6,247 119.8,248.6 125.1,247 122,248.7 123.8,248.5 120.7,250.2 116,252.5 114.1,253.7 120.2,251.8 117.1,250.2 123.6,256 116.3,248.1 117.6,248.8 121.3,251.8 119.1,249 119.4,248.7 118.5,247.2 122.2,250.3 121.1,247.3 119.9,243.3 123.9,251.4 122.3,246.6 124.6,250.9 125.3,251.3 126.3,252.3 125.4,249.3 125.7,248.9 126.2,248.9 126.1,247.5 126.3,246.9 128.6,250.9 126.8,245.6 127.9,247.1 127.8,245.9 128.4,246.1 128.9,246 129,243.3 129.6,244.3 129.4,239.7 130.6,244.6 130.7,242.2 132.1,248.6 132.8,250.4 133.1,249.2 133.3,247.4 132.5,239.4 133.7,244.2 134,243.1 135.2,248.4 135.6,247.9 135.3,242.8 137.1,251.8 136.1,242.5 137.4,247.7 136.8,241 138.6,249.5 139.1,249.7 139.2,247.8 139.2,245.1 139.7,244.5 140.2,240.7 140.5,247.2 140.9,248 141.5,241.3 141.9,245.3 142.3,245.7 142.8,243.6 143.1,247.5 143.7,242.8 144.1,243.2 144.5,248.3 144.9,246.9 145.3,249.1 145.8,247.2 146.3,245.1 146.8,244.4 147.2,245.3 147.6,243.2 147.9,241.5 148.6,246.4 149,244.4 149.8,251.4 150.3,251.7 150.3,243.9 150.7,244.2 151.1,243.5 151.7,245.8 152.3,247.6 152.7,246.5 153,244.4 153.3,241.7 153.9,245.2 154.6,248.3 155,248.6 155.3,245.3 155.6,243.7 156,243 156.6,245.9 156.8,241.9 157.3,243 157.7,241.8 158.3,244.6 158.9,246.3 158.8,238 159.7,245.6 160.1,244.1 160.4,242.6 160.6,237.7 161.4,243.7 162.2,249.6 162.7,250.5 162.6,241.5 163.4,247.7 163.9,247.6 164,243.3 164.6,245.6 165,244.4 165.5,245.9 165.8,243.4 166.3,243.4 166.8,248 167.2,242.6 167.7,247 168.1,244.2 168.6,247.2 168.9,242.5 169.4,246.3 169.9,246.3 170.3,244.1 170.7,242.4 171.2,242.7 171.6,241.9 172.1,245 172.5,241.3 173,244.2 173.4,243 173.8,241.9 174.2,239.3 174.7,241 175.2,246.9 175.6,240.1 176.1,247.1 176.5,241.5 176.9,238.6 177.4,240.9 177.9,246.4 178.3,246.7 178.7,242.7 179.1,241 179.6,240.2 180,239.4 180.5,242.4 180.9,244.3 181.4,243.1 181.8,244.9 182.3,245.3 182.7,245.9 183.2,246.8 183.6,244.4 184.1,246.4 184.5,240.1 184.9,241.1 185.3,240.1 186.1,247.6 186.4,245 186.3,237.2 187.5,248.6 187.5,241.3 187.8,239.7 188.3,240.5 189.1,246.1 189.5,245.7 190.2,248.8 190.3,244.7 190.7,243.8 191.2,243.6 191.5,241.3 192,243 192.4,242.1 193.2,247.8 193.5,244.7 193.8,242.7 194.2,242.4 194.8,245.4 195.5,249.5 195.6,243.2 196,242.1 196.3,240.9 197,244 197.3,242.3 197.9,244.6 198.6,249.1 198.4,238.9 199.2,243.4 199.6,243.3 199.9,240.9 200.5,244 201,243.7 201.3,242.3 201.9,244 202.2,242.1 202.5,239.2 203.3,246.1 203.6,242.4 203.7,237.8 204.6,244.1 204.7,239 205.3,242.4 206,245.4 206.3,243.4 206.6,240.9 207.2,243.5 207.3,237.8 207.8,239 208.2,238.3 208.8,241.6 209.4,243.7 209.8,243.3 210,239.1 210.7,243 211.2,244.4 211.6,244.4 211.9,241.2 212.3,240.6 212.7,239 213.5,245.6 213.7,242 214.2,242.2 214.6,242.4 215.1,243.1 215.4,240.6 216.1,245.9 216.3,241.5 216.9,243.5 217.1,239.9 217.7,242.3 218.2,242.6 218.6,242.5 219,240.9 219.2,237.5 219.6,235.9 220.4,243.1 220.9,244.6 221.2,242 221.5,239.5 222.1,242.5 221.2,240.9 222.7,240.8 220.9,239.9 224,240.2 223.9,239.7 223.2,239.1 223,238.6 223.7,238.3 222.9,237.6 223.1,237.2 223.3,237.2 224,237.6 223.5,238.1 223.9,238.5 223.6,239 223.9,239.4 223.9,239.8 224,240.3 223.8,240.8 223.9,241.2 224,241.6 224.1,242.1 224.1,242.5 224.2,243" fill="none" stroke="#0000ff" stroke-width="0.9" stroke-linejoin="miter" stroke-miterlimit="2"/>
<polyline points="224.2,243.2 224.2,243.4 225.2,274.3 226.4,321" fill="none" stroke="#0000ff" stroke-width="1.2" stroke-linejoin="round" stroke-linecap="round"/>
<polyline points="226.3,321 226.4,321.7 226.6,322.3 226.7,323 226.6,323.7 226.5,324.4 227,325 227.6,325.6" fill="none" stroke="#0000ff" stroke-width="1.6" stroke-linejoin="round" stroke-linecap="round"/>
<polyline points="227.6,325.6 227.8,326.2 227.5,326.7 227.8,327.2 227.5,328.3 228.2,328.6 228.7,329.1 228.7,329.9" fill="none" stroke="#0000ff" stroke-width="3.2" stroke-linejoin="round" stroke-linecap="round"/>
<polyline points="228.7,329.9 229.1,330.5 229.1,331.3 229.6,331.8 230.2,332.1 231.1,332.3 231.1,333.2 231.4,333.7" fill="none" stroke="#0000ff" stroke-width="4.4" stroke-linejoin="round" stroke-linecap="round"/>
<polyline points="231.4,333.7 231.5,334.5 232.1,334.9 232.7,335.2 233.1,335.8 233.9,336 234.7,336.3 235.1,336.8" fill="none" stroke="#0000ff" stroke-width="4.5" stroke-linejoin="round" stroke-linecap="round"/>
<polyline points="235.1,336.8 235.4,337.4 235.6,338.1 235.7,338.9 236.5,339.1 236.5,339.9 237.2,340.2 236.6,341.5" fill="none" stroke="#0000ff" stroke-width="4.5" stroke-linejoin="round" stroke-linecap="round"/>
<polyline points="236.6,341.5 237.4,341.8 238.8,341.5 239.1,342.1 239.6,342.5 240.2,342.9 240.2,343.8 240.3,344.5" fill="none" stroke="#0000ff" stroke-width="4.5" stroke-linejoin="round" stroke-linecap="round"/>
<polyline points="240.3,344.5 240.4,345.4 241.3,345.5 241.9,345.8 241.9,346.7 242.4,347.1 242.9,347.6 243.2,348.2" fill="none" stroke="#0000ff" stroke-width="4.5" stroke-linejoin="round" stroke-linecap="round"/>
<polyline points="243.2,348.2 244.1,348.3 244.1,349.2 244.9,349.4 245.3,349.9 245.6,350.6 245.9,351.2 246.3,351.8" fill="none" stroke="#0000ff" stroke-width="4.5" stroke-linejoin="round" stroke-linecap="round"/>
<polyline points="246.3,351.8 245.9,352.9 246.8,353 247.2,353.6 247.7,354.1 247.9,354.9 248.6,355.1 249.3,355.3" fill="none" stroke="#0000ff" stroke-width="4.5" stroke-linejoin="round" stroke-linecap="round"/>
<polyline points="249.3,355.3 249.9,355.6 250.2,356.3 250.7,356.6 251.2,357.2 251.5,357.8 251.9,358.4 252.5,358.6" fill="none" stroke="#0000ff" stroke-width="4.5" stroke-linejoin="round" stroke-linecap="round"/>
<polyline points="252.5,358.6 253.2,358.8 254.3,358.5 254.6,359.2 255.1,359.7 255.4,360.3 256.1,360.5 257.1,360.4" fill="none" stroke="#0000ff" stroke-width="4.5" stroke-linejoin="round" stroke-linecap="round"/>
<polyline points="257.1,360.4 257.6,360.5" fill="none" stroke="#0000ff" stroke-width="4.5" stroke-linejoin="round" stroke-linecap="round"/>
<polyline points="226.4,321 226.6,321.4 226.2,321.9 225.8,322.4 227.2,322.7 226.8,323.2 226.9,323.6 225.8,324.2 227,324.5 226.6,325 226.2,325.5 227.4,325.8 228.4,326.2 230.7,326.4 230.2,325 232.4,324 228.5,327.3 224.5,330.7 229.5,327.7 228.3,329.1 227.3,330.3 230.4,328.7 225.2,332.9 228.8,330.9 230.2,330.5 226.4,333.8 226.7,334.1 228.6,333.3 230.6,332.4 229.7,333.6 230.8,333.4 229.1,335.2 230.5,334.7 231.4,334.6 228.9,336.9 229.9,336.8 231.3,336.3 231.5,336.7 234.5,335.1 234.2,335.8 233.9,336.6 234,337.1 235.4,336.6 229.9,341.2 234.3,338.5 230.1,342.1 232.7,340.8 233.3,340.9 237,338.7 236.5,339.6 231.8,343.6 231.4,344.5 238.5,339.9 237.5,341.1 235.5,343.1 236.8,342.9 242.8,338.4 236.2,344.5 237.9,343.7 238.6,343.7 244.9,339 244.9,339.5 244.7,340.3 237.5,346.9 240.2,345.2 239.6,346.3 241.9,345 243.5,344.2 243,345.2 244.2,344.8 242.2,347 247.2,343.4 243,347.5 240.6,350.1 245,347 243.1,349.2 245.6,347.7 239,353.8 245.9,348.6 245.4,349.6 246.4,349.3 244.6,351.4 247.7,349.4 242.3,354.4 249.3,349.2 248.9,350.1 244.5,354.4 248.4,351.7 244.9,355.2 243,359 250.1,351.3 247.7,354.8 247.8,355.3 247.2,356.7 249.5,354.7 248.4,356.6 248,357.8 251.1,354.8 247.3,360 255.4,351 250.4,357.7 248.1,361.2 250.3,359.2 249.6,360.7 254.7,355.3 252.7,358.4 254.2,357.3 248.9,364.2 255.5,357.2 259.6,353 255.4,358.6 258.5,355.6 256.7,358.5 256.4,359.5 255.8,360.9 259.5,357.2 258.4,359.1" fill="none" stroke="#0000ff" stroke-width="0.9" stroke-linejoin="miter" stroke-miterlimit="2"/>
<polyline points="256,362.3 257,361.5" fill="none" stroke="#0000ff" stroke-width="1.2" stroke-linejoin="round" stroke-linecap="round"/>
<rect x="33" y="226.5" width="231.5" height="157.2" fill="none" stroke="#333" stroke-width="0.85"/>
<text x="46.62" y="395.5" font-size="8.8" text-anchor="middle" textLength="17.84" lengthAdjust="spacingAndGlyphs" class="tk">0.01</text>
<text x="73.85" y="395.5" font-size="8.8" text-anchor="middle" textLength="17.84" lengthAdjust="spacingAndGlyphs" class="tk">0.02</text>
<text x="101.09" y="395.5" font-size="8.8" text-anchor="middle" textLength="17.84" lengthAdjust="spacingAndGlyphs" class="tk">0.03</text>
<text x="128.32" y="395.5" font-size="8.8" text-anchor="middle" textLength="17.84" lengthAdjust="spacingAndGlyphs" class="tk">0.04</text>
<text x="155.56" y="395.5" font-size="8.8" text-anchor="middle" textLength="17.84" lengthAdjust="spacingAndGlyphs" class="tk">0.05</text>
<text x="182.79" y="395.5" font-size="8.8" text-anchor="middle" textLength="17.84" lengthAdjust="spacingAndGlyphs" class="tk">0.06</text>
<text x="210.03" y="395.5" font-size="8.8" text-anchor="middle" textLength="17.84" lengthAdjust="spacingAndGlyphs" class="tk">0.07</text>
<text x="237.26" y="395.5" font-size="8.8" text-anchor="middle" textLength="17.84" lengthAdjust="spacingAndGlyphs" class="tk">0.08</text>
<text x="264.5" y="395.5" font-size="8.8" text-anchor="middle" textLength="17.84" lengthAdjust="spacingAndGlyphs" class="tk">0.09</text>
<text x="27.5" y="386.85" font-size="8.8" text-anchor="end" textLength="9.94" lengthAdjust="spacingAndGlyphs" class="tk">16</text>
<text x="27.5" y="367.2" font-size="8.8" text-anchor="end" textLength="9.94" lengthAdjust="spacingAndGlyphs" class="tk">18</text>
<text x="27.5" y="347.55" font-size="8.8" text-anchor="end" textLength="9.94" lengthAdjust="spacingAndGlyphs" class="tk">20</text>
<text x="27.5" y="327.9" font-size="8.8" text-anchor="end" textLength="9.94" lengthAdjust="spacingAndGlyphs" class="tk">22</text>
<text x="27.5" y="308.25" font-size="8.8" text-anchor="end" textLength="9.94" lengthAdjust="spacingAndGlyphs" class="tk">24</text>
<text x="27.5" y="288.6" font-size="8.8" text-anchor="end" textLength="9.94" lengthAdjust="spacingAndGlyphs" class="tk">26</text>
<text x="27.5" y="268.95" font-size="8.8" text-anchor="end" textLength="9.94" lengthAdjust="spacingAndGlyphs" class="tk">28</text>
<text x="27.5" y="249.3" font-size="8.8" text-anchor="end" textLength="9.94" lengthAdjust="spacingAndGlyphs" class="tk">30</text>
<text x="27.5" y="229.65" font-size="8.8" text-anchor="end" textLength="9.94" lengthAdjust="spacingAndGlyphs" class="tk">32</text>
<text x="270.6" y="239.65" font-size="8.8" textLength="29.22" lengthAdjust="spacingAndGlyphs" class="tk">−4.686</text>
<text x="270.6" y="259.28" font-size="8.8" textLength="29.22" lengthAdjust="spacingAndGlyphs" class="tk">−4.688</text>
<text x="270.6" y="278.91" font-size="8.8" textLength="29.22" lengthAdjust="spacingAndGlyphs" class="tk">−4.690</text>
<text x="270.6" y="298.54" font-size="8.8" textLength="29.22" lengthAdjust="spacingAndGlyphs" class="tk">−4.692</text>
<text x="270.6" y="318.17" font-size="8.8" textLength="29.22" lengthAdjust="spacingAndGlyphs" class="tk">−4.694</text>
<text x="270.6" y="337.8" font-size="8.8" textLength="29.22" lengthAdjust="spacingAndGlyphs" class="tk">−4.696</text>
<text x="270.6" y="357.43" font-size="8.8" textLength="29.22" lengthAdjust="spacingAndGlyphs" class="tk">−4.698</text>
<text x="270.6" y="377.06" font-size="8.8" textLength="29.22" lengthAdjust="spacingAndGlyphs" class="tk">−4.700</text>
<path d="M46.62 383.7v3 M73.85 383.7v3 M101.09 383.7v3 M128.32 383.7v3 M155.56 383.7v3 M182.79 383.7v3 M210.03 383.7v3 M237.26 383.7v3 M264.5 383.7v3 M33 383.7h-3 M33 364.05h-3 M33 344.4h-3 M33 324.75h-3 M33 305.1h-3 M33 285.45h-3 M33 265.8h-3 M33 246.15h-3 M33 226.5h-3 M264.5 236.5h3 M264.5 256.13h3 M264.5 275.76h3 M264.5 295.39h3 M264.5 315.02h3 M264.5 334.65h3 M264.5 354.28h3 M264.5 373.91h3" stroke="#333" stroke-width="0.85" fill="none"/>
<text x="148.75" y="411" font-size="14.5" text-anchor="middle" textLength="177.5" lengthAdjust="spacing">Rel. def. along the x-axis</text>
<text transform="translate(11.2 305.6) rotate(-90)" font-size="14" text-anchor="middle" font-style="italic">σ<tspan font-style="normal">,</tspan> GPa</text>
<polyline points="323,338.5 332.9,334.7 342.8,331.3 352.7,328.3 362.9,324.6 372.8,321.8 380,320.2 386.6,318.4 393.2,316.9 396.2,316.6 397.3,318 397.3,318.2 397.3,318.4 397.3,318.7 397.4,318.9 397.4,319.1 397.3,319.3 397.3,319.5 397.3,319.8 397.3,320 397.3,320.2 397.3,320.4 397.4,320.6 397.3,320.9 397.3,321.1 397.4,321.3 397.5,321.5 397.4,321.7 397.4,322 397.4,322.2 397.3,322.4 397.4,322.6 397.5,322.8 397.6,323.1 397.5,323.3 397.5,323.5 397.5,323.7 397.4,324 397.4,324.2 397,324.4 397.6,324.6 397.5,324.8 397.6,325 397.5,325.3 397.5,325.5 397.3,325.7 397.8,325.9 397.4,326.2 397.4,326.4 397.6,326.6 397.6,326.8 397.5,327 397.4,327.3 397.6,327.5 397.6,327.7 397.5,327.9 397.8,328.1 397.5,328.4 397.4,328.6 397.6,328.8 397.8,329 397.6,329.2 397.6,329.5 397.5,329.7 397.7,329.9 397.4,330.1 397.3,330.3 397.4,330.6 397.6,330.8 397.3,331 397.6,331.2 397.7,331.4 398,331.7 397.6,331.9 397.3,332.1 397.9,332.3 397.4,332.6 398,332.8 397.6,333 397.1,333.2 397.7,333.4 398.1,333.6 397.6,333.9 397.8,334.1 397.5,334.3 397.9,334.5 398.3,334.7 397.9,335 397.5,335.2 397.4,335.4 397.6,335.6 397.7,335.9 397.5,336.1 397.8,336.3 397.9,336.5 397.7,336.7 397.4,337 398,337.2 397.6,337.4 398,337.6 398.1,337.8 397.7,338.1 398.4,338.3 398.2,338.5 398.3,338.7 398.1,338.9 398.2,339.1 396.9,339.4 397.6,339.6 397.8,339.8 398.4,340 398.9,340.2 397.7,340.5 398.2,340.7 397.4,340.9 398.1,341.1 398.5,341.3 398.2,341.6 398.4,341.3 398.5,341.5 398,342.4 398.6,342.1 398.4,342.7 398.9,342.5 399,342.7 399.2,342.8 399.4,343 399.5,343.1 399.2,343.8 399.7,343.6 400.3,343.3 399.7,344.3 400.2,344.5 400.4,344.4 400.6,344.1 400.9,344 401.1,343.9 401.3,344.1 401.5,344.2 401.7,344.1 402,343.8 402.2,343.8 402.4,344.4 402.6,344.4 402.8,343.7 403.1,343.9 403.3,344 403.5,344.1 403.7,344 403.9,344 404.2,344 404.4,344.2 404.6,343.8 404.8,344.1 405.1,344 405.3,344 405.5,343.7 405.7,343.9 405.9,343.9 406.2,344 406.4,344 406.6,344 406.8,343.8 407,344 407.3,343.9 407.5,343.9 407.7,343.9 407.9,343.8 408.1,344 408.4,343.9 408.6,343.9 408.8,343.8 409,343.8 409.2,343.8 409.5,343.8 409.7,343.8 409.9,343.8 412.2,347.6 412.4,347.7 412.6,347.8 412.8,347.9 412.9,348.1 413.2,348.2 413.4,348.2 413.6,348.4 413.8,348.4 413.8,348.8 414.2,348.7 414.4,348.6 414.5,349.1 414.7,349 414.9,349.2 415.2,349.2 415.3,349.4 415.7,349.1 415.7,349.7 415.9,349.4 416.1,349.5 416.4,349.7 416.6,349.9 416.8,349.1 417,349.6 417.2,349.8 417.5,349.9 417.7,349.5 417.9,349.8 418.1,349.8 418.3,349.9 418.6,349.6 418.8,349.7 419,349.6 419.2,350 419.5,350 419.7,349.7 419.9,349.7 420.1,349.8 420.4,349.6 420.6,349.8 420.8,350 421,350 421.2,349.7 421.5,349.7 421.7,349.8 421.9,349.5 422.1,349.9 422.3,349.9 422.6,349.6 422.8,349.8 423,349.7 423.2,349.8 423.5,349.7 423.7,350.2 423.9,349.7 424.1,350.1 424.3,350 424.5,350.2 424.8,349.9 425,349.9 425.2,350 425.5,349.6 425.6,350.4 425.9,349.9 426.1,349.9 426.3,349.8 426.5,350 426.8,350.3 427,349.9 427.2,350.1 427.4,350.2 427.6,350.2 427.9,350 428.1,349.8 428.3,350.1 428.5,350.2 428.8,350 429,350 429.2,350.1 437,349.6 460.2,347.6 462.5,352 475.6,349.2 498.4,343.4 499.7,346.3 510.4,345.9 510.4,346.1 510.5,346.3 510.6,346.5 510.6,346.8 510.7,347 510.7,347.2 510.8,347.4 510.7,347.7 511,347.8 511,348 510.9,348.3 511.1,348.5 511.3,348.7 511.2,348.9 511.3,349.1 511.3,349.3 511.3,349.6 511.3,349.8 511.5,350 511.5,350.2 511.4,350.5 511.5,350.7 511.5,350.9 511.7,351.1 511.6,351.3 511.5,351.6 512.1,351.7 511.3,352.1 512,352.2 512,352.4 512,352.6 511.9,352.9 512.4,353 512.1,353.3 512.3,353.5 511.9,353.8 512.8,353.8 512.2,354.2 512.5,354.3 512.6,354.5 512.5,354.8 512.7,354.7 512.9,354.8 513.2,354.8 513.4,355.1 513.6,354.6 513.9,355.2 514,353.9 514.3,355.2 514.5,355 514.8,355.1 515,354.7 515.2,354.7 515.4,354.3 515.7,355 515.8,354.2 516.1,354.3 516.3,354.5 516.5,354.6 516.8,354.6 516.9,354.1 517.2,354.4 517.4,354.6 517.7,354.8 517.9,354.7 518.1,354.5 518.3,354.3 518.5,354.2 518.7,354.2 519,354.3 519.2,354.5 519.4,354.2 519.7,355 519.9,354 520.1,354.5 520.3,354.2 520.5,354.2 520.8,354.1 521,354.7 521.2,354.1 521.5,354.4 521.7,354.2 521.9,354.4 522.1,354.3 522.4,354.7 522.5,353.9 522.8,353.8 523,354.6 523.3,354.5 523.5,354.1 523.7,353.9 523.9,354.1 524.1,354.5 524.4,353.8 524.5,354.5 524.8,354 525,353.9 525.2,353.9 525.5,353.3 525.7,354.2 525.9,353.6 526.1,353.9 526.3,353.8 526.5,354.2 526.8,354.4 527,354.1 527.2,354.2 527.4,354.3 527.6,354.7 527.9,354.3 528.1,354.7 528.3,354.2 528.5,354.3 528.8,354 529,354.4 529.2,353.9 529.4,354.4 529.6,354 529.9,354.1 530.1,354.6 530.3,354.3 530.5,354.5 530.7,354.2 531,353.7 531.2,354.8 531.4,354.2 531.6,354.1 531.8,354.6 532.1,353.9 532.3,354.1 532.5,354.7 532.7,354.1 532.9,354.7 533.2,354.3 533.4,354.3 533.6,354.4 533.8,354.2 534,354.7 534.3,354.7 534.5,354.4 534.7,354.6 534.9,354.6 535.1,355 535.4,353.9 535.6,354.8 535.8,354.7 536,354.4 536.3,354.5 536.5,354.4 536.7,354.9 536.9,354.1 537.1,354.7 537.4,354.9 537.6,354.7 537.8,354.4 538,354.4 538.3,353.9 538.5,354.2 538.7,354.9 538.9,354.3 539.2,354.1 539.4,354.5 539.6,354.1 539.8,354.7 540,354.3 540.2,354.9 540.5,354.6 540.7,354.2 540.9,354.4 541.1,354.5 541.4,354.4 541.6,355 541.8,354.4 542,354.8 542.2,354.5 542.4,354.9 542.7,354.3 542.9,354.3 543.1,354.9 543.3,355.1 543.6,354.3 543.8,354.7 544,354.6 544.2,354.5 544.4,355.1 544.7,354.8 544.9,354.4 545.2,354.8 544.8,355.2 545.4,355.1 545.5,355.4 545.6,355.6 545.5,355.9 545.7,356 545.5,356.3 546,356.4 546.2,356.5 545.9,356.9 546.7,356.8 546.3,357.2 546.2,357.5 546.3,357.7 546.5,357.9 546.6,358.1 546.5,358.4 546.1,358.8 546.9,358.7 546.9,358.9 547,359.1 547,359.4 547.1,359.6 547.1,359.8 547.1,360.1 547.4,360.2 547.5,360.4 547.5,360.6 547.5,360.9 547.7,361 547.7,361.3 547.8,361.5 548.1,361.6 548.1,361.8 548.2,362 548.2,362.3 548.3,362.5 548.4,362.7 548.5,362.9 548.6,363.1" fill="none" stroke="#ff0000" stroke-width="1.1" stroke-linejoin="round" stroke-linecap="round"/>
<polyline points="323,348.9 360,364.2 366.6,366.9 373.2,369.2 379.8,371.3 386.4,373.1 393,374.5 395.6,374.5 397,373.1 397.4,361 397.4,360.8 397.4,360.6 397.5,360.3 397.4,360.1 397.5,359.9 397.4,359.7 397.4,359.4 397.4,359.2 397.5,359 397.5,358.8 397.5,358.5 397.5,358.3 397.5,358.1 397.5,357.9 397.7,357.7 397.6,357.4 397.5,357.2 397.5,357 397.6,356.8 397.5,356.5 397.5,356.3 397.6,356.1 397.5,355.9 397.7,355.6 397.5,355.4 397.7,355.2 397.7,355 397.7,354.7 397.7,354.5 397.5,354.3 398.1,354.1 397.5,353.8 397.8,353.6 397.7,353.4 397.6,353.2 398.1,353 397.9,352.7 397.7,352.5 397.9,352.3 397.9,352.1 398.1,351.9 398,351.6 397.7,351.4 397.7,351.2 397.5,350.9 397.9,350.7 398,350.5 397.7,350.3 398,350.1 397.9,349.8 397.7,349.6 397.4,349.4 398.2,349.2 398.7,349 398,348.7 397.5,348.5 397.5,348.3 398,348 398.1,347.8 397.4,347.9 398.7,347.4 397.6,348.3 398.2,348.2 398.3,348.4 398.4,348.6 398.7,348.7 398.8,348.9 398.5,349.3 399.4,349.1 399.1,349.5 399,349.8 399.7,349.7 399.4,350.1 399.1,350.6 399.5,350.6 399.6,350.8 399.7,351 399.9,351.1 400,351.4 400.3,351.3 400.4,351.5 400.5,352.1 400.9,351.4 401.1,351.7 401.4,351.5 401.5,351.7 401.8,351.7 402,351.6 402.1,352 402.4,351.8 402.6,352.2 402.7,352.5 403.1,351.7 403.2,352.2 403.5,352 403.7,352.3 403.9,352.5 404.1,352.5 404.3,352.7 404.5,352.6 404.8,352.4 404.9,352.8 405.2,352.6 405.4,352.8 405.6,352.8 405.9,352.8 406,352.9 406.2,353.1 406.5,352.9 406.7,353 406.9,353.1 407.1,353.2 407.4,353.2 407.6,353.3 407.8,353.4 408,353.4 411.4,351.5 413.7,347.6 419.5,348.6 437,349.9 461.1,355 463.1,352.6 475.6,357.3 498.4,365.2 500.7,362.2 510.4,363.5 513,355.6 513.2,355.7 513.4,355.7 513.6,355.8 513.9,355.8 514.1,355.9 514.3,355.9 514.5,356 514.7,356.1 514.9,356 515.2,356.1 515.3,356.3 515.5,356.4 515.8,356.4 516,356.4 516.2,356.4 516.4,356.5 516.6,356.5 516.8,356.7 517.1,356.7 517.2,357 517.4,357 517.8,356.6 518,356.8 518.1,357 518.3,357.2 518.5,357.1 518.9,356.7 519.1,356.9 519.1,357.5 519.4,357.4 519.5,357.8 519.8,357.6 520,357.6 520.2,357.8 520.5,357.5 520.7,357.5 521,357.5 521.1,357.8 521.3,357.9 521.5,358.1 521.7,358.3 521.9,358.1 522.1,358.3 522.4,358 522.7,357.9 522.8,358.4 523,358.5 523.2,358.7 523.5,358.3 523.7,358.3 523.9,358.4 524.1,358.6 524.3,358.5 524.6,358.5 524.8,358.7 525,358.5 525.2,358.7 525.5,358.5 525.7,358.2 525.9,358.6 526,359.3 526.3,358.5 526.5,359 526.7,359.2 527,358.6 527.2,358.9 527.5,358.2 527.6,359 527.8,359.3 528.1,359 528.4,358.4 528.5,358.8 528.8,358.8 529,359 529.2,359.1 529.4,358.9 529.6,359 529.9,358.9 530,359.3 530.3,359.2 530.5,359.2 530.7,359 530.9,359.3 531.2,359.1 531.4,359.3 531.6,359.2 531.8,359.1 532.1,359 532.3,358.8 532.5,359 532.7,359.5 532.8,360.2 533.2,358.9 533.4,359.2 533.6,359.4 533.7,360.4 534,359.4 534.3,359.2 534.4,359.6 534.6,360.1 535,358.8 535.1,359.3 535.3,359.9 535.6,359.3 535.8,359.6 536,359.5 536.2,359.9 536.5,359.3 536.7,359.8 536.9,359.8 537.1,359.9 537.3,359.9 537.5,359.8 537.8,359.4 538,359.8 538.2,359.6 538.4,360 538.6,359.9 538.9,360 539.1,360.2 539.3,360 539.5,360.4 539.7,360.2 540,359.7 540.2,359.9 540.4,360.4 540.6,360 540.8,360.4 541.1,360 541.3,360.1 541.5,360.4 541.8,359.8 541.9,360.2 542.2,360.1 542.4,360.3 542.6,360.7 542.8,360.4 543.1,360 543.2,360.6 543.5,360.3 543.7,360.4 544,360.6 544.1,360.2 544.4,360.4 544.6,360.2 544.8,359.9 545,360 545.2,359.8 545.5,360 545.7,359.8 545.9,359.8 546.1,359.6 546.4,359.6 546.5,359.5 546.8,359.5 547,359.4 548.6,353.4" fill="none" stroke="#008000" stroke-width="1.1" stroke-linejoin="round" stroke-linecap="round"/>
<polyline points="323,353 342.3,351.1 361.6,349.9 380.9,349.2 397.3,349 398.3,346.1 409.9,344.1 419.5,342.8 437,339.9 461.1,336.9 463.3,334.9 485.3,332.6 511.2,330.6 513.4,329.1 533.5,326.8 547,324.8 548.6,323.9" fill="none" stroke="#ffa500" stroke-width="1.1" stroke-linejoin="round" stroke-linecap="round"/>
<polyline points="323,333.1 325,332.7 327,332.1 329,331.4 331,330.5 333,329.6 335,328.5 337,327.4 339,326.1 341,324.8 343,323.3 345,321.7 347,320.1 349,318.3 351,316.5 353,314.5 355,312.5 357,310.4 359,308.2 361,306 363,303.7 365,301.3 367,298.8 369,296.3 371,293.6 373,291 375,288.3 377,285.5 379,282.6 381,279.7 383,276.8 385,273.8 387,270.8 389,267.7 391,264.6 393,261.4 395,258.2 396.3,256.1 396.8,257.2 397.4,276 397.4,276.2 397.4,276.4 397.4,276.7 397.4,276.9 397.4,277.1 397.4,277.3 397.4,277.5 397.4,277.8 397.4,278 397.4,278.2 397.4,278.4 397.5,278.7 397.5,278.9 397.4,279.1 397.4,279.3 397.4,279.5 397.4,279.8 397.3,280 397.5,280.2 397.2,280.4 397.5,280.6 397.5,280.9 397.5,281.1 397.5,281.3 397.5,281.5 397.3,281.8 397.5,282 397.5,282.2 397.4,282.4 397.6,282.6 397.5,282.9 397.4,283.1 397.7,283.3 397.5,283.5 397.5,283.7 397.5,284 397.5,284.2 397.7,284.4 397.5,284.6 397.6,284.9 397.6,285.1 397.3,285.3 397.2,285.5 397.4,285.7 397.6,286 397.3,286.2 397.4,286.4 397.6,286.6 397.4,286.9 397.6,287.1 397.4,287.3 397.4,287.5 397.3,287.7 397.7,288 397.5,288.2 397.5,288.4 397.7,288.6 397.4,288.8 397.4,289.1 397.8,289.3 397.6,289.5 397.8,289.7 397.8,289.9 397.8,290.2 397.3,290.4 397.7,290.6 397.6,290.8 397.3,291.1 397.3,291.3 397.2,291.5 398,291.7 397.4,291.9 398,292.2 397.7,292.4 397.7,292.6 397.7,292.8 397.1,293.1 397.6,293.3 397.3,293.5 397.6,293.7 397.6,293.9 397.4,294.2 397.5,294.4 397.4,294.6 398,294.8 397.4,295 397.5,295.3 397.4,295.5 397.6,295.7 397.5,295.9 398,296.1 397.3,296.4 398,296.6 397.2,296.8 397.3,297 397.6,297.3 397.7,297.5 397.4,297.7 397.7,297.9 398,298.1 397.5,298.4 398,298.6 397.8,298.8 397,299 397.4,299.3 397.8,299.5 397.7,299.7 397.9,299.9 397.6,300.1 398.1,300.4 397.4,300.6 397.6,300.8 397.9,301 397.9,301.2 396.7,301.5 397.8,301.7 397.8,301.9 397.9,302.1 397.8,302.3 397.2,302.6 397.4,302.8 397.5,303 397.5,303.2 398.1,303.5 398.6,303.7 397.1,303.9 397.4,304.1 397.6,304.3 397.6,304.6 397.6,304.8 397.7,305 397.8,305.2 398.6,305.4 397.4,305.7 397.7,305.9 397.3,306.1 397.6,306.3 397.8,306.6 397.4,306.8 397.8,307 397.6,306.7 397.6,306.5 397.7,306.3 397.8,306.1 397.7,305.8 398.8,305.9 400.3,306.1 398.1,305.2 399.1,305.6 397,303.8 396.3,303.1 398.4,304.2 398.7,304.2 398.4,303.8 398.2,303.3 398.7,303.4 399,303.3 399.5,303.4 399.4,303.1 399,302.6 399.6,302.7 400.7,303.2 399.6,302.2 400.2,302.3 400.5,302.8 400.5,301.7 400.8,301.9 401.4,303.7 401.4,302.7 401.4,301.7 401.7,302.1 401.9,302 402.2,302 402.4,302.1 402.5,301.7 402.6,300.6 402.9,301.3 403.2,301.8 403.3,301 403.6,301.4 404,302.2 404.1,301.6 404.2,301.2 404.5,301.5 404.8,301.8 404.8,300.6 405,300.7 405.3,300.9 405.6,301 405.8,301.1 406,300.9 406.2,301.1 406.5,301 406.6,300.5 406.8,300.7 407,300.4 407.3,300.9 407.5,300.9 407.8,301 407.9,300.4 408.1,300.5 408.2,299.9 408.6,300.6 408.7,300 409.1,300.6 409.3,300.8 409.5,300.5 409.7,300.5 409.9,300.4 410.1,300.4 410.3,300.6 410.6,300.7 410.8,300.8 411,300.2 411.2,300.5 411.5,300.5 411.7,300.4 411.9,300.4 412.1,300 412.4,300.5 412.6,300.1 412.8,300.2 413,300.1 413.2,300.4 413.5,300.1 413.7,300.4 413.9,300.4 414.1,300.3 414.4,300.2 414.6,300.4 414.8,300.5 415,300.2 415.3,300.2 415.5,300.2 415.7,300.2 415.9,300.3 416.2,300.3 416.4,300.1 416.6,300.4 416.8,300.2 417,300.3 417.3,300.2 417.5,300.2 417.7,300.2 417.9,300.3 418.2,300.3 418.4,300.2 418.6,300.3 418.8,300.3 419.1,300.3 419.3,300.3 419.5,300.3 437,299.4 446.7,298.4 461.1,295.1 461.1,295.3 461.3,295.5 461.2,295.8 461.4,295.9 461.3,296.2 461.5,296.4 461.5,296.6 461.5,296.8 461.2,297.1 462.2,297.1 462.1,297.4 461.7,297.7 461.4,298 462,298.1 462,298.3 461.7,298.6 461.2,299 461.8,298.6 461.8,298.1 462.4,298.6 462.9,299 462.5,297.9 463.4,299 463.5,298.7 463.7,298.6 463.4,297.6 463.4,297.3 464.1,298.2 464.3,297.9 464.6,298 464.4,296.8 464.3,296 465.3,298 465.5,297.8 465.4,297.1 465.7,297.2 466,297.3 466.2,297.4 466.3,296.8 466.4,296.6 466.6,296.3 467.1,297.2 467.2,296.7 466.8,295.1 467.6,296.6 467.7,296.1 467.8,295.8 468.1,296 468.2,295.6 468.6,295.9 468.8,295.8 469.1,296.1 469.1,295.5 469.2,295.1 469.6,295.5 469.7,295.1 470.2,295.8 470.3,295.4 470.3,294.8 470.6,295 471,295.2 471.2,295.2 471.2,294.5 471.6,295 471.8,295 472.1,295.2 472.3,295.1 472.4,294.7 472.5,294.3 472.8,294.5 473.1,294.7 473.2,294.2 473.6,294.7 473.6,294 473.8,293.9 474.2,294.3 474.3,294 474.6,294 474.7,293.8 475,293.8 475.1,293.6 475.5,294.1 475.6,293.6 485.3,288.2 494.9,282 498.8,280.1 500.7,281 510.4,274.6 510.4,274.8 510.4,275 510.4,275.3 510.4,275.5 510.5,275.7 510.5,275.9 510.5,276.1 510.6,276.4 510.6,276.6 510.6,276.8 510.6,277 510.7,277.2 510.9,277.4 510.6,277.7 510.6,277.9 510.7,278.1 510.4,278.4 510.6,278.6 510.8,278.8 510.9,279 510.7,279.2 510.9,279.4 511.1,279.6 510.8,279.9 510.9,280.1 510.9,280.3 510.7,280.5 510.8,280.8 510.4,281 511.1,281.2 511,281.4 510.9,281.6 511.1,281.8 511.1,282.1 510.5,282.3 511.5,282.5 510.9,282.7 511.6,282.9 511,283.2 511.8,283.3 511.5,283.6 510.7,283.9 510.6,284.1 511.1,284.3 512.3,284.4 510.8,284.7 511.1,284.9 511.7,285.1 511.4,285.3 511.8,285.5 511.3,285.8 511.5,285.6 511.7,285.6 512.1,285.6 511.9,285 511.6,284.4 512.1,284.6 512.3,284.4 512.7,284.5 512.8,284.4 513.1,284.3 513.6,284.6 513.5,284.1 513.4,283.6 513.8,283.7 513.8,283.4 514.2,283.4 514.5,283.6 514.5,283 514.9,283.6 515.2,283.9 515.4,283.7 515.6,283.7 515.7,283.1 515.8,282.6 516.3,283.6 516.4,282.9 516.6,283 516.8,282.7 516.9,282.5 517.3,282.9 517.3,282.2 517.5,282.2 517.9,282.7 518.1,282.4 518.2,282.2 518.5,282.5 518.8,282.7 518.9,282.2 519.1,282.2 519.4,282.3 519.7,282.4 519.9,282.3 520.1,282.2 520.2,281.8 520.5,282 520.7,281.8 520.8,281.3 521.2,282 521.3,281.8 521.6,282 521.7,281.5 522,281.7 522.2,281.4 522.4,281.4 522.7,281.5 522.8,281.3 523.1,281.4 523.3,281.2 523.5,281.4 523.7,281.2 523.9,281 533.5,278.5 548.6,273.9" fill="none" stroke="#0000ff" stroke-width="1.3" stroke-linejoin="round" stroke-linecap="round"/>
<rect x="322.5" y="226.5" width="231.5" height="157.2" fill="none" stroke="#333" stroke-width="0.85"/>
<text x="336.12" y="395.5" font-size="8.8" text-anchor="middle" textLength="17.84" lengthAdjust="spacingAndGlyphs" class="tk">0.01</text>
<text x="363.35" y="395.5" font-size="8.8" text-anchor="middle" textLength="17.84" lengthAdjust="spacingAndGlyphs" class="tk">0.02</text>
<text x="390.59" y="395.5" font-size="8.8" text-anchor="middle" textLength="17.84" lengthAdjust="spacingAndGlyphs" class="tk">0.03</text>
<text x="417.82" y="395.5" font-size="8.8" text-anchor="middle" textLength="17.84" lengthAdjust="spacingAndGlyphs" class="tk">0.04</text>
<text x="445.06" y="395.5" font-size="8.8" text-anchor="middle" textLength="17.84" lengthAdjust="spacingAndGlyphs" class="tk">0.05</text>
<text x="472.29" y="395.5" font-size="8.8" text-anchor="middle" textLength="17.84" lengthAdjust="spacingAndGlyphs" class="tk">0.06</text>
<text x="499.53" y="395.5" font-size="8.8" text-anchor="middle" textLength="17.84" lengthAdjust="spacingAndGlyphs" class="tk">0.07</text>
<text x="526.76" y="395.5" font-size="8.8" text-anchor="middle" textLength="17.84" lengthAdjust="spacingAndGlyphs" class="tk">0.08</text>
<text x="554" y="395.5" font-size="8.8" text-anchor="middle" textLength="17.84" lengthAdjust="spacingAndGlyphs" class="tk">0.09</text>
<text x="317" y="386.85" font-size="8.8" text-anchor="end" textLength="9.94" lengthAdjust="spacingAndGlyphs" class="tk">16</text>
<text x="317" y="367.2" font-size="8.8" text-anchor="end" textLength="9.94" lengthAdjust="spacingAndGlyphs" class="tk">18</text>
<text x="317" y="347.55" font-size="8.8" text-anchor="end" textLength="9.94" lengthAdjust="spacingAndGlyphs" class="tk">20</text>
<text x="317" y="327.9" font-size="8.8" text-anchor="end" textLength="9.94" lengthAdjust="spacingAndGlyphs" class="tk">22</text>
<text x="317" y="308.25" font-size="8.8" text-anchor="end" textLength="9.94" lengthAdjust="spacingAndGlyphs" class="tk">24</text>
<text x="317" y="288.6" font-size="8.8" text-anchor="end" textLength="9.94" lengthAdjust="spacingAndGlyphs" class="tk">26</text>
<text x="317" y="268.95" font-size="8.8" text-anchor="end" textLength="9.94" lengthAdjust="spacingAndGlyphs" class="tk">28</text>
<text x="317" y="249.3" font-size="8.8" text-anchor="end" textLength="9.94" lengthAdjust="spacingAndGlyphs" class="tk">30</text>
<text x="317" y="229.65" font-size="8.8" text-anchor="end" textLength="9.94" lengthAdjust="spacingAndGlyphs" class="tk">32</text>
<text x="560.1" y="239.65" font-size="8.8" textLength="29.22" lengthAdjust="spacingAndGlyphs" class="tk">−4.686</text>
<text x="560.1" y="259.28" font-size="8.8" textLength="29.22" lengthAdjust="spacingAndGlyphs" class="tk">−4.688</text>
<text x="560.1" y="278.91" font-size="8.8" textLength="29.22" lengthAdjust="spacingAndGlyphs" class="tk">−4.690</text>
<text x="560.1" y="298.54" font-size="8.8" textLength="29.22" lengthAdjust="spacingAndGlyphs" class="tk">−4.692</text>
<text x="560.1" y="318.17" font-size="8.8" textLength="29.22" lengthAdjust="spacingAndGlyphs" class="tk">−4.694</text>
<text x="560.1" y="337.8" font-size="8.8" textLength="29.22" lengthAdjust="spacingAndGlyphs" class="tk">−4.696</text>
<text x="560.1" y="357.43" font-size="8.8" textLength="29.22" lengthAdjust="spacingAndGlyphs" class="tk">−4.698</text>
<text x="560.1" y="377.06" font-size="8.8" textLength="29.22" lengthAdjust="spacingAndGlyphs" class="tk">−4.700</text>
<path d="M336.12 383.7v3 M363.35 383.7v3 M390.59 383.7v3 M417.82 383.7v3 M445.06 383.7v3 M472.29 383.7v3 M499.53 383.7v3 M526.76 383.7v3 M554 383.7v3 M322.5 383.7h-3 M322.5 364.05h-3 M322.5 344.4h-3 M322.5 324.75h-3 M322.5 305.1h-3 M322.5 285.45h-3 M322.5 265.8h-3 M322.5 246.15h-3 M322.5 226.5h-3 M554 236.5h3 M554 256.13h3 M554 275.76h3 M554 295.39h3 M554 315.02h3 M554 334.65h3 M554 354.28h3 M554 373.91h3" stroke="#333" stroke-width="0.85" fill="none"/>
<text x="438.25" y="411" font-size="14.5" text-anchor="middle" textLength="177.5" lengthAdjust="spacing">Rel. def. along the x-axis</text>
<text transform="translate(602.4 306.3) rotate(-90)" font-size="14" text-anchor="middle" textLength="186" lengthAdjust="spacingAndGlyphs">Potential energy, eV/atom</text>
<polyline points="33,491.8 165,447.9 206.7,434.1 207.4,434.5 208.2,509.8 220,507.2 259,496.6" fill="none" stroke="#ff0000" stroke-width="1.3" stroke-linejoin="round" stroke-linecap="round"/>
<polyline points="33,493.7 207.2,475 208.2,482.7 220,482.2 259,481.8" fill="none" stroke="#008000" stroke-width="1.3" stroke-linejoin="round" stroke-linecap="round"/>
<polyline points="33,506.3 207.2,582.5 207.6,582.5 208.2,499.5 259,513.6" fill="none" stroke="#ffa500" stroke-width="1.3" stroke-linejoin="round" stroke-linecap="round"/>
<polyline points="33,539.9 36,539.5 39,539.2 42,538.8 45,538.4 48,538 51,537.6 54,537.1 57,536.6 60,536.1 63,535.5 66,534.9 69,534.3 72,533.6 75,532.9 78,532.1 81,531.3 84,530.5 87,529.5 90,528.6 93,527.5 96,526.5 99,525.3 102,524.1 105,522.8 108,521.5 111,520.1 114,518.6 117,517.1 120,515.5 123,513.9 126,512.1 129,510.3 132,508.5 135,506.5 138,504.5 141,502.5 144,500.3 147,498.1 150,495.8 153,493.5 156,491.1 159,488.6 162,486 165,483.4 168,480.7 171,477.9 174,475.1 177,472.2 180,469.2 183,466.2 186,463.2 189,460 192,456.8 195,453.6 198,450.3 201,446.9 204,443.5 206.8,440.3 207.5,440 207.7,545.5 208.7,536.8 220.5,537.3 240.9,535.3 259,532.1" fill="none" stroke="#0000ff" stroke-width="1.45" stroke-linejoin="round" stroke-linecap="round"/>
<rect x="33" y="431" width="231.5" height="157.2" fill="none" stroke="#333" stroke-width="0.85"/>
<text x="46.62" y="600" font-size="8.8" text-anchor="middle" textLength="17.84" lengthAdjust="spacingAndGlyphs" class="tk">0.01</text>
<text x="73.85" y="600" font-size="8.8" text-anchor="middle" textLength="17.84" lengthAdjust="spacingAndGlyphs" class="tk">0.02</text>
<text x="101.09" y="600" font-size="8.8" text-anchor="middle" textLength="17.84" lengthAdjust="spacingAndGlyphs" class="tk">0.03</text>
<text x="128.32" y="600" font-size="8.8" text-anchor="middle" textLength="17.84" lengthAdjust="spacingAndGlyphs" class="tk">0.04</text>
<text x="155.56" y="600" font-size="8.8" text-anchor="middle" textLength="17.84" lengthAdjust="spacingAndGlyphs" class="tk">0.05</text>
<text x="182.79" y="600" font-size="8.8" text-anchor="middle" textLength="17.84" lengthAdjust="spacingAndGlyphs" class="tk">0.06</text>
<text x="210.03" y="600" font-size="8.8" text-anchor="middle" textLength="17.84" lengthAdjust="spacingAndGlyphs" class="tk">0.07</text>
<text x="237.26" y="600" font-size="8.8" text-anchor="middle" textLength="17.84" lengthAdjust="spacingAndGlyphs" class="tk">0.08</text>
<text x="264.5" y="600" font-size="8.8" text-anchor="middle" textLength="17.84" lengthAdjust="spacingAndGlyphs" class="tk">0.09</text>
<text x="27.5" y="580.65" font-size="8.8" text-anchor="end" textLength="4.47" lengthAdjust="spacingAndGlyphs" class="tk">5</text>
<text x="27.5" y="553.53" font-size="8.8" text-anchor="end" textLength="9.94" lengthAdjust="spacingAndGlyphs" class="tk">10</text>
<text x="27.5" y="526.41" font-size="8.8" text-anchor="end" textLength="9.94" lengthAdjust="spacingAndGlyphs" class="tk">15</text>
<text x="27.5" y="499.29" font-size="8.8" text-anchor="end" textLength="9.94" lengthAdjust="spacingAndGlyphs" class="tk">20</text>
<text x="27.5" y="472.17" font-size="8.8" text-anchor="end" textLength="9.94" lengthAdjust="spacingAndGlyphs" class="tk">25</text>
<text x="27.5" y="445.05" font-size="8.8" text-anchor="end" textLength="9.94" lengthAdjust="spacingAndGlyphs" class="tk">30</text>
<text x="270.6" y="434.15" font-size="8.8" textLength="23.75" lengthAdjust="spacingAndGlyphs" class="tk">−4.62</text>
<text x="270.6" y="462.77" font-size="8.8" textLength="23.75" lengthAdjust="spacingAndGlyphs" class="tk">−4.64</text>
<text x="270.6" y="491.39" font-size="8.8" textLength="23.75" lengthAdjust="spacingAndGlyphs" class="tk">−4.66</text>
<text x="270.6" y="520.01" font-size="8.8" textLength="23.75" lengthAdjust="spacingAndGlyphs" class="tk">−4.68</text>
<text x="270.6" y="548.63" font-size="8.8" textLength="23.75" lengthAdjust="spacingAndGlyphs" class="tk">−4.70</text>
<text x="270.6" y="577.25" font-size="8.8" textLength="23.75" lengthAdjust="spacingAndGlyphs" class="tk">−4.72</text>
<path d="M46.62 588.2v3 M73.85 588.2v3 M101.09 588.2v3 M128.32 588.2v3 M155.56 588.2v3 M182.79 588.2v3 M210.03 588.2v3 M237.26 588.2v3 M264.5 588.2v3 M33 577.5h-3 M33 550.38h-3 M33 523.26h-3 M33 496.14h-3 M33 469.02h-3 M33 441.9h-3 M264.5 431h3 M264.5 459.62h3 M264.5 488.24h3 M264.5 516.86h3 M264.5 545.48h3 M264.5 574.1h3" stroke="#333" stroke-width="0.85" fill="none"/>
<text x="148.75" y="615.5" font-size="14.5" text-anchor="middle" textLength="177.5" lengthAdjust="spacing">Rel. def. along the x-axis</text>
<text transform="translate(11.2 510.1) rotate(-90)" font-size="14" text-anchor="middle" font-style="italic">σ<tspan font-style="normal">,</tspan> GPa</text>
<polyline points="323,492.4 455,448.3 487.6,436.8 488.4,437.5 488.9,491 489.9,511.8 492,512.6 530,501 549,496.6" fill="none" stroke="#ff0000" stroke-width="1.1" stroke-linejoin="round" stroke-linecap="round"/>
<polyline points="323,493.7 455,479.7 488,476.2 489.9,481.7 494,483.1 504.8,482.5 530,481.7 549,482.2" fill="none" stroke="#008000" stroke-width="1.1" stroke-linejoin="round" stroke-linecap="round"/>
<polyline points="323,506.3 488.2,578.7 488.9,578.7 489.9,498.6 493.2,497.3 517.1,504.8 530,508.9 549,513.6" fill="none" stroke="#ffa500" stroke-width="1.1" stroke-linejoin="round" stroke-linecap="round"/>
<polyline points="323,539.9 326,539.5 329,539.2 332,538.8 335,538.4 338,538 341,537.6 344,537.1 347,536.6 350,536.1 353,535.5 356,534.9 359,534.3 362,533.6 365,532.9 368,532.1 371,531.3 374,530.5 377,529.5 380,528.6 383,527.5 386,526.5 389,525.3 392,524.1 395,522.8 398,521.5 401,520.1 404,518.6 407,517.1 410,515.5 413,513.9 416,512.1 419,510.3 422,508.5 425,506.5 428,504.5 431,502.5 434,500.3 437,498.1 440,495.8 443,493.5 446,491.1 449,488.6 452,486 455,483.4 458,480.7 461,477.9 464,475.1 467,472.2 470,469.2 473,466.2 476,463.2 479,460 482,456.8 485,453.6 488,450.3 488.4,452 488.9,491 489.5,526.2 490.7,531.2 493.2,534.9 496.5,535.7 506.4,536.9 517.1,536.1 530,534.5 549,531.4" fill="none" stroke="#0000ff" stroke-width="1.2" stroke-linejoin="round" stroke-linecap="round"/>
<rect x="322.5" y="431" width="231.5" height="157.2" fill="none" stroke="#333" stroke-width="0.85"/>
<text x="336.12" y="600" font-size="8.8" text-anchor="middle" textLength="17.84" lengthAdjust="spacingAndGlyphs" class="tk">0.01</text>
<text x="363.35" y="600" font-size="8.8" text-anchor="middle" textLength="17.84" lengthAdjust="spacingAndGlyphs" class="tk">0.02</text>
<text x="390.59" y="600" font-size="8.8" text-anchor="middle" textLength="17.84" lengthAdjust="spacingAndGlyphs" class="tk">0.03</text>
<text x="417.82" y="600" font-size="8.8" text-anchor="middle" textLength="17.84" lengthAdjust="spacingAndGlyphs" class="tk">0.04</text>
<text x="445.06" y="600" font-size="8.8" text-anchor="middle" textLength="17.84" lengthAdjust="spacingAndGlyphs" class="tk">0.05</text>
<text x="472.29" y="600" font-size="8.8" text-anchor="middle" textLength="17.84" lengthAdjust="spacingAndGlyphs" class="tk">0.06</text>
<text x="499.53" y="600" font-size="8.8" text-anchor="middle" textLength="17.84" lengthAdjust="spacingAndGlyphs" class="tk">0.07</text>
<text x="526.76" y="600" font-size="8.8" text-anchor="middle" textLength="17.84" lengthAdjust="spacingAndGlyphs" class="tk">0.08</text>
<text x="554" y="600" font-size="8.8" text-anchor="middle" textLength="17.84" lengthAdjust="spacingAndGlyphs" class="tk">0.09</text>
<text x="317" y="580.65" font-size="8.8" text-anchor="end" textLength="4.47" lengthAdjust="spacingAndGlyphs" class="tk">5</text>
<text x="317" y="553.53" font-size="8.8" text-anchor="end" textLength="9.94" lengthAdjust="spacingAndGlyphs" class="tk">10</text>
<text x="317" y="526.41" font-size="8.8" text-anchor="end" textLength="9.94" lengthAdjust="spacingAndGlyphs" class="tk">15</text>
<text x="317" y="499.29" font-size="8.8" text-anchor="end" textLength="9.94" lengthAdjust="spacingAndGlyphs" class="tk">20</text>
<text x="317" y="472.17" font-size="8.8" text-anchor="end" textLength="9.94" lengthAdjust="spacingAndGlyphs" class="tk">25</text>
<text x="317" y="445.05" font-size="8.8" text-anchor="end" textLength="9.94" lengthAdjust="spacingAndGlyphs" class="tk">30</text>
<text x="560.1" y="434.15" font-size="8.8" textLength="23.75" lengthAdjust="spacingAndGlyphs" class="tk">−4.62</text>
<text x="560.1" y="462.77" font-size="8.8" textLength="23.75" lengthAdjust="spacingAndGlyphs" class="tk">−4.64</text>
<text x="560.1" y="491.39" font-size="8.8" textLength="23.75" lengthAdjust="spacingAndGlyphs" class="tk">−4.66</text>
<text x="560.1" y="520.01" font-size="8.8" textLength="23.75" lengthAdjust="spacingAndGlyphs" class="tk">−4.68</text>
<text x="560.1" y="548.63" font-size="8.8" textLength="23.75" lengthAdjust="spacingAndGlyphs" class="tk">−4.70</text>
<text x="560.1" y="577.25" font-size="8.8" textLength="23.75" lengthAdjust="spacingAndGlyphs" class="tk">−4.72</text>
<path d="M336.12 588.2v3 M363.35 588.2v3 M390.59 588.2v3 M417.82 588.2v3 M445.06 588.2v3 M472.29 588.2v3 M499.53 588.2v3 M526.76 588.2v3 M554 588.2v3 M322.5 577.5h-3 M322.5 550.38h-3 M322.5 523.26h-3 M322.5 496.14h-3 M322.5 469.02h-3 M322.5 441.9h-3 M554 431h3 M554 459.62h3 M554 488.24h3 M554 516.86h3 M554 545.48h3 M554 574.1h3" stroke="#333" stroke-width="0.85" fill="none"/>
<text x="438.25" y="615.5" font-size="14.5" text-anchor="middle" textLength="177.5" lengthAdjust="spacing">Rel. def. along the x-axis</text>
<text transform="translate(598.1 510.1) rotate(-90)" font-size="14" text-anchor="middle" textLength="186" lengthAdjust="spacingAndGlyphs">Potential energy, eV/atom</text>
<polyline points="33,696.8 165,652.7 204.6,639 205.4,639.6 205.9,712.2 209,712.6 228,707.3 245,701.9 259,698.3" fill="none" stroke="#ff0000" stroke-width="1.3" stroke-linejoin="round" stroke-linecap="round"/>
<polyline points="33,698.3 165,687.1 205,682.9 206.1,691.2 245,691.2 259,691.4" fill="none" stroke="#008000" stroke-width="1.3" stroke-linejoin="round" stroke-linecap="round"/>
<polyline points="33,710.3 204.9,783.3 205.5,783.3 206.1,702.3 228,707.3 245,712.6 259,716.1" fill="none" stroke="#ffa500" stroke-width="1.3" stroke-linejoin="round" stroke-linecap="round"/>
<polyline points="33,744.4 36,744.1 39,743.9 42,743.6 45,743.3 48,743 51,742.6 54,742.1 57,741.7 60,741.2 63,740.7 66,740.1 69,739.5 72,738.8 75,738.1 78,737.4 81,736.6 84,735.7 87,734.8 90,733.9 93,732.9 96,731.9 99,730.8 102,729.7 105,728.5 108,727.2 111,725.9 114,724.5 117,723.1 120,721.6 123,720.1 126,718.5 129,716.9 132,715.1 135,713.3 138,711.5 141,709.6 144,707.6 147,705.5 150,703.4 153,701.2 156,698.9 159,696.6 162,694.2 165,691.7 168,689.1 171,686.5 174,683.8 177,681 180,678.1 183,675.1 186,672.1 189,669 192,665.8 195,662.5 198,659.1 201,655.6 204,652.1 204.8,651.1 205.4,651.2 205.5,753.1 206.1,742.3 211.5,743.6 228,742.3 245,740.3 259,738.3" fill="none" stroke="#0000ff" stroke-width="1.45" stroke-linejoin="round" stroke-linecap="round"/>
<rect x="33" y="635.5" width="231.5" height="157.2" fill="none" stroke="#333" stroke-width="0.85"/>
<text x="46.62" y="804.5" font-size="8.8" text-anchor="middle" textLength="17.84" lengthAdjust="spacingAndGlyphs" class="tk">0.01</text>
<text x="73.85" y="804.5" font-size="8.8" text-anchor="middle" textLength="17.84" lengthAdjust="spacingAndGlyphs" class="tk">0.02</text>
<text x="101.09" y="804.5" font-size="8.8" text-anchor="middle" textLength="17.84" lengthAdjust="spacingAndGlyphs" class="tk">0.03</text>
<text x="128.32" y="804.5" font-size="8.8" text-anchor="middle" textLength="17.84" lengthAdjust="spacingAndGlyphs" class="tk">0.04</text>
<text x="155.56" y="804.5" font-size="8.8" text-anchor="middle" textLength="17.84" lengthAdjust="spacingAndGlyphs" class="tk">0.05</text>
<text x="182.79" y="804.5" font-size="8.8" text-anchor="middle" textLength="17.84" lengthAdjust="spacingAndGlyphs" class="tk">0.06</text>
<text x="210.03" y="804.5" font-size="8.8" text-anchor="middle" textLength="17.84" lengthAdjust="spacingAndGlyphs" class="tk">0.07</text>
<text x="237.26" y="804.5" font-size="8.8" text-anchor="middle" textLength="17.84" lengthAdjust="spacingAndGlyphs" class="tk">0.08</text>
<text x="264.5" y="804.5" font-size="8.8" text-anchor="middle" textLength="17.84" lengthAdjust="spacingAndGlyphs" class="tk">0.09</text>
<text x="27.5" y="785.15" font-size="8.8" text-anchor="end" textLength="4.47" lengthAdjust="spacingAndGlyphs" class="tk">5</text>
<text x="27.5" y="758.03" font-size="8.8" text-anchor="end" textLength="9.94" lengthAdjust="spacingAndGlyphs" class="tk">10</text>
<text x="27.5" y="730.91" font-size="8.8" text-anchor="end" textLength="9.94" lengthAdjust="spacingAndGlyphs" class="tk">15</text>
<text x="27.5" y="703.79" font-size="8.8" text-anchor="end" textLength="9.94" lengthAdjust="spacingAndGlyphs" class="tk">20</text>
<text x="27.5" y="676.67" font-size="8.8" text-anchor="end" textLength="9.94" lengthAdjust="spacingAndGlyphs" class="tk">25</text>
<text x="27.5" y="649.55" font-size="8.8" text-anchor="end" textLength="9.94" lengthAdjust="spacingAndGlyphs" class="tk">30</text>
<text x="270.6" y="638.65" font-size="8.8" textLength="23.75" lengthAdjust="spacingAndGlyphs" class="tk">−4.62</text>
<text x="270.6" y="667.27" font-size="8.8" textLength="23.75" lengthAdjust="spacingAndGlyphs" class="tk">−4.64</text>
<text x="270.6" y="695.89" font-size="8.8" textLength="23.75" lengthAdjust="spacingAndGlyphs" class="tk">−4.66</text>
<text x="270.6" y="724.51" font-size="8.8" textLength="23.75" lengthAdjust="spacingAndGlyphs" class="tk">−4.68</text>
<text x="270.6" y="753.13" font-size="8.8" textLength="23.75" lengthAdjust="spacingAndGlyphs" class="tk">−4.70</text>
<text x="270.6" y="781.75" font-size="8.8" textLength="23.75" lengthAdjust="spacingAndGlyphs" class="tk">−4.72</text>
<path d="M46.62 792.7v3 M73.85 792.7v3 M101.09 792.7v3 M128.32 792.7v3 M155.56 792.7v3 M182.79 792.7v3 M210.03 792.7v3 M237.26 792.7v3 M264.5 792.7v3 M33 782h-3 M33 754.88h-3 M33 727.76h-3 M33 700.64h-3 M33 673.52h-3 M33 646.4h-3 M264.5 635.5h3 M264.5 664.12h3 M264.5 692.74h3 M264.5 721.36h3 M264.5 749.98h3 M264.5 778.6h3" stroke="#333" stroke-width="0.85" fill="none"/>
<text x="148.75" y="820" font-size="14.5" text-anchor="middle" textLength="177.5" lengthAdjust="spacing">Rel. def. along the x-axis</text>
<text transform="translate(11.2 714.6) rotate(-90)" font-size="14" text-anchor="middle" font-style="italic">σ<tspan font-style="normal">,</tspan> GPa</text>
<polyline points="323,697.2 455,652.3 485.7,641.4 486.4,647.4 487.2,668 488,687.8 488.3,714.7 492.4,715.7 517.1,707.1 530,703.6 549,698.3" fill="none" stroke="#ff0000" stroke-width="1.1" stroke-linejoin="round" stroke-linecap="round"/>
<polyline points="323,698.7 455,686.8 486.4,684.1 488,689 492.4,690.6 530,690.9 549,691.4" fill="none" stroke="#008000" stroke-width="1.1" stroke-linejoin="round" stroke-linecap="round"/>
<polyline points="323,710.3 486.4,779.4 487.8,779.4 487.8,731.5 488.7,701.5 492.4,699.7 517.1,707.3 530,711.4 549,716.1" fill="none" stroke="#ffa500" stroke-width="1.1" stroke-linejoin="round" stroke-linecap="round"/>
<polyline points="323,744.1 326,744 329,743.8 332,743.6 335,743.3 338,743 341,742.7 344,742.3 347,741.9 350,741.4 353,740.9 356,740.3 359,739.7 362,739.1 365,738.4 368,737.6 371,736.8 374,735.9 377,735 380,734.1 383,733.1 386,732 389,730.9 392,729.7 395,728.5 398,727.2 401,725.9 404,724.5 407,723 410,721.5 413,719.9 416,718.3 419,716.6 422,714.8 425,713 428,711.1 431,709.2 434,707.2 437,705.1 440,702.9 443,700.7 446,698.4 449,696.1 452,693.7 455,691.2 458,688.6 461,686 464,683.3 467,680.5 470,677.6 473,674.7 476,671.7 479,668.6 482,665.5 485,662.3 486.1,661.1 487,677.2 487.6,695.4 488.3,718 488.7,734.5 492.4,742.8 504.8,743.2 530,741.1 549,738.3" fill="none" stroke="#0000ff" stroke-width="1.2" stroke-linejoin="round" stroke-linecap="round"/>
<rect x="322.5" y="635.5" width="231.5" height="157.2" fill="none" stroke="#333" stroke-width="0.85"/>
<text x="336.12" y="804.5" font-size="8.8" text-anchor="middle" textLength="17.84" lengthAdjust="spacingAndGlyphs" class="tk">0.01</text>
<text x="363.35" y="804.5" font-size="8.8" text-anchor="middle" textLength="17.84" lengthAdjust="spacingAndGlyphs" class="tk">0.02</text>
<text x="390.59" y="804.5" font-size="8.8" text-anchor="middle" textLength="17.84" lengthAdjust="spacingAndGlyphs" class="tk">0.03</text>
<text x="417.82" y="804.5" font-size="8.8" text-anchor="middle" textLength="17.84" lengthAdjust="spacingAndGlyphs" class="tk">0.04</text>
<text x="445.06" y="804.5" font-size="8.8" text-anchor="middle" textLength="17.84" lengthAdjust="spacingAndGlyphs" class="tk">0.05</text>
<text x="472.29" y="804.5" font-size="8.8" text-anchor="middle" textLength="17.84" lengthAdjust="spacingAndGlyphs" class="tk">0.06</text>
<text x="499.53" y="804.5" font-size="8.8" text-anchor="middle" textLength="17.84" lengthAdjust="spacingAndGlyphs" class="tk">0.07</text>
<text x="526.76" y="804.5" font-size="8.8" text-anchor="middle" textLength="17.84" lengthAdjust="spacingAndGlyphs" class="tk">0.08</text>
<text x="554" y="804.5" font-size="8.8" text-anchor="middle" textLength="17.84" lengthAdjust="spacingAndGlyphs" class="tk">0.09</text>
<text x="317" y="785.15" font-size="8.8" text-anchor="end" textLength="4.47" lengthAdjust="spacingAndGlyphs" class="tk">5</text>
<text x="317" y="758.03" font-size="8.8" text-anchor="end" textLength="9.94" lengthAdjust="spacingAndGlyphs" class="tk">10</text>
<text x="317" y="730.91" font-size="8.8" text-anchor="end" textLength="9.94" lengthAdjust="spacingAndGlyphs" class="tk">15</text>
<text x="317" y="703.79" font-size="8.8" text-anchor="end" textLength="9.94" lengthAdjust="spacingAndGlyphs" class="tk">20</text>
<text x="317" y="676.67" font-size="8.8" text-anchor="end" textLength="9.94" lengthAdjust="spacingAndGlyphs" class="tk">25</text>
<text x="317" y="649.55" font-size="8.8" text-anchor="end" textLength="9.94" lengthAdjust="spacingAndGlyphs" class="tk">30</text>
<text x="560.1" y="638.65" font-size="8.8" textLength="23.75" lengthAdjust="spacingAndGlyphs" class="tk">−4.62</text>
<text x="560.1" y="667.27" font-size="8.8" textLength="23.75" lengthAdjust="spacingAndGlyphs" class="tk">−4.64</text>
<text x="560.1" y="695.89" font-size="8.8" textLength="23.75" lengthAdjust="spacingAndGlyphs" class="tk">−4.66</text>
<text x="560.1" y="724.51" font-size="8.8" textLength="23.75" lengthAdjust="spacingAndGlyphs" class="tk">−4.68</text>
<text x="560.1" y="753.13" font-size="8.8" textLength="23.75" lengthAdjust="spacingAndGlyphs" class="tk">−4.70</text>
<text x="560.1" y="781.75" font-size="8.8" textLength="23.75" lengthAdjust="spacingAndGlyphs" class="tk">−4.72</text>
<path d="M336.12 792.7v3 M363.35 792.7v3 M390.59 792.7v3 M417.82 792.7v3 M445.06 792.7v3 M472.29 792.7v3 M499.53 792.7v3 M526.76 792.7v3 M554 792.7v3 M322.5 782h-3 M322.5 754.88h-3 M322.5 727.76h-3 M322.5 700.64h-3 M322.5 673.52h-3 M322.5 646.4h-3 M554 635.5h3 M554 664.12h3 M554 692.74h3 M554 721.36h3 M554 749.98h3 M554 778.6h3" stroke="#333" stroke-width="0.85" fill="none"/>
<text x="438.25" y="820" font-size="14.5" text-anchor="middle" textLength="177.5" lengthAdjust="spacing">Rel. def. along the x-axis</text>
<text transform="translate(598.1 714.6) rotate(-90)" font-size="14" text-anchor="middle" textLength="186" lengthAdjust="spacingAndGlyphs">Potential energy, eV/atom</text>
<text x="6" y="11.9" font-size="16.5" font-weight="bold">a</text>
<text x="296" y="12.3" font-size="16.5" font-weight="bold">b</text>
<text x="6" y="216.8" font-size="16.5" font-weight="bold">c</text>
<text x="295.5" y="216.6" font-size="16.5" font-weight="bold">d</text>
<text x="6" y="425.7" font-size="16.5" font-weight="bold">e</text>
<text x="295" y="425.2" font-size="16.5" font-weight="bold">f</text>
<text x="6" y="630.7" font-size="16.5" font-weight="bold">g</text>
<text x="296" y="629.7" font-size="16.5" font-weight="bold">h</text>
<text x="148.5" y="16.7" font-size="16" text-anchor="middle" textLength="85" lengthAdjust="spacingAndGlyphs">800 atoms</text>
<text x="438.4" y="16.8" font-size="16" text-anchor="middle" textLength="105" lengthAdjust="spacingAndGlyphs">53760 atoms</text>
<text x="46.2" y="51.9" font-size="16" textLength="48.5" lengthAdjust="spacingAndGlyphs">TAO-1</text>
<text x="46.5" y="255.9" font-size="16" textLength="48.5" lengthAdjust="spacingAndGlyphs">TAO-2</text>
<text x="46.5" y="459.8" font-size="16" textLength="48.5" lengthAdjust="spacingAndGlyphs">TAO-5</text>
<text x="58" y="664.9" font-size="16" textLength="48.5" lengthAdjust="spacingAndGlyphs">TAO-6</text>
<rect x="149.5" y="61.9" width="50.7" height="49.5" rx="2" ry="2" fill="#fff" fill-opacity="0.85" stroke="#d0d0d0" stroke-width="0.8"/>
<line x1="153.7" y1="70.6" x2="176.5" y2="70.6" stroke="#ff0000" stroke-width="1.1" stroke-opacity="0.8"/>
<text x="179.5" y="74.6" font-size="12" font-style="italic">σ<tspan font-size="8.5" dy="2.2">xx</tspan></text>
<line x1="153.7" y1="84.9" x2="176.5" y2="84.9" stroke="#008000" stroke-width="1.1" stroke-opacity="0.8"/>
<text x="179.5" y="88.9" font-size="12" font-style="italic">σ<tspan font-size="8.5" dy="2.2">yy</tspan></text>
<line x1="153.7" y1="100.7" x2="176.5" y2="100.7" stroke="#ffa500" stroke-width="1.1" stroke-opacity="0.8"/>
<text x="179.5" y="104.7" font-size="12" font-style="italic">σ<tspan font-size="8.5" dy="2.2">zz</tspan></text>
<rect x="447.5" y="36.5" width="97.8" height="19.8" rx="2" ry="2" fill="#fff" fill-opacity="0.85" stroke="#d0d0d0" stroke-width="0.8"/>
<line x1="451.9" y1="45.4" x2="474.7" y2="45.4" stroke="#0000ff" stroke-width="1.1" stroke-opacity="0.75"/>
<text x="477.6" y="49.8" font-size="11.7" textLength="64" lengthAdjust="spacingAndGlyphs" class="lg">Pot. energy</text>
</svg>
</body></html>
